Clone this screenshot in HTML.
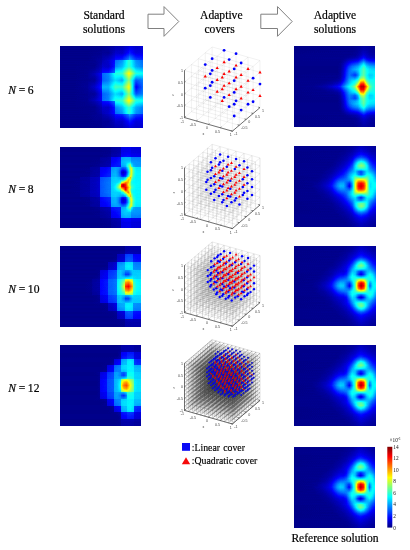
<!DOCTYPE html><html><head><meta charset="utf-8"><style>html,body{margin:0;padding:0;background:#fff;width:410px;height:550px;overflow:hidden}svg{display:block}</style></head><body><svg width="410" height="550" viewBox="0 0 410 550"><defs><filter id="jet" x="0" y="0" width="1" height="1" color-interpolation-filters="sRGB"><feGaussianBlur stdDeviation=".45"/><feComponentTransfer><feFuncR type="table" tableValues="0 0 0 0 .5 1 1 1 .5"/><feFuncG type="table" tableValues="0 0 .5 1 1 1 .5 0 0"/><feFuncB type="table" tableValues=".5 1 1 1 .5 0 0 0 0"/></feComponentTransfer></filter><linearGradient id="vg" gradientUnits="userSpaceOnUse" x1="0" y1="0" x2="0" y2="1"><stop offset="0" stop-color="#000"/><stop offset="1" stop-color="#fff"/></linearGradient><mask id="vm" maskContentUnits="objectBoundingBox" x="-.5" y="-.5" width="2" height="2"><rect x="-.5" y="-.5" width="2" height="2" fill="url(#vg)"/></mask><linearGradient id="l1_0"><stop offset="0" stop-color="#030303"/><stop offset=".167" stop-color="#030303"/><stop offset=".167" stop-color="#030303"/><stop offset=".333" stop-color="#030303"/><stop offset=".333" stop-color="#030303"/><stop offset=".5" stop-color="#040404"/><stop offset=".5" stop-color="#040404"/><stop offset=".667" stop-color="#0b0b0b"/><stop offset=".667" stop-color="#0c0c0c"/><stop offset=".75" stop-color="#0e0e0e"/><stop offset=".833" stop-color="#151515"/><stop offset=".833" stop-color="#181818"/><stop offset=".917" stop-color="#131313"/><stop offset="1" stop-color="#151515"/></linearGradient><linearGradient id="l1_1"><stop offset="0" stop-color="#030303"/><stop offset=".167" stop-color="#030303"/><stop offset=".167" stop-color="#030303"/><stop offset=".333" stop-color="#030303"/><stop offset=".333" stop-color="#030303"/><stop offset=".5" stop-color="#050505"/><stop offset=".5" stop-color="#070707"/><stop offset=".583" stop-color="#060606"/><stop offset=".667" stop-color="#111111"/><stop offset=".667" stop-color="#141414"/><stop offset=".75" stop-color="#121212"/><stop offset=".833" stop-color="#242424"/><stop offset=".833" stop-color="#292929"/><stop offset=".917" stop-color="#181818"/><stop offset="1" stop-color="#1a1a1a"/></linearGradient><linearGradient id="l1_2"><stop offset="0" stop-color="#030303"/><stop offset=".167" stop-color="#030303"/><stop offset=".167" stop-color="#030303"/><stop offset=".333" stop-color="#030303"/><stop offset=".333" stop-color="#030303"/><stop offset=".5" stop-color="#080808"/><stop offset=".5" stop-color="#0b0b0b"/><stop offset=".583" stop-color="#111111"/><stop offset=".667" stop-color="#1f1f1f"/><stop offset=".667" stop-color="#242424"/><stop offset=".75" stop-color="#2a2a2a"/><stop offset=".833" stop-color="#434343"/><stop offset=".833" stop-color="#4d4d4d"/><stop offset=".917" stop-color="#303030"/><stop offset="1" stop-color="#2a2a2a"/></linearGradient><linearGradient id="l1_3"><stop offset="0" stop-color="#030303"/><stop offset=".167" stop-color="#030303"/><stop offset=".167" stop-color="#030303"/><stop offset=".333" stop-color="#030303"/><stop offset=".333" stop-color="#030303"/><stop offset=".417" stop-color="#050505"/><stop offset=".5" stop-color="#090909"/><stop offset=".5" stop-color="#0c0c0c"/><stop offset=".583" stop-color="#141414"/><stop offset=".667" stop-color="#242424"/><stop offset=".667" stop-color="#3a3a3a"/><stop offset=".75" stop-color="#444444"/><stop offset=".833" stop-color="#6d6d6d"/><stop offset=".833" stop-color="#6d6d6d"/><stop offset=".917" stop-color="#444444"/><stop offset="1" stop-color="#3a3a3a"/></linearGradient><linearGradient id="l1_4"><stop offset="0" stop-color="#030303"/><stop offset=".167" stop-color="#030303"/><stop offset=".167" stop-color="#030303"/><stop offset=".333" stop-color="#040404"/><stop offset=".333" stop-color="#040404"/><stop offset=".417" stop-color="#040404"/><stop offset=".5" stop-color="#0e0e0e"/><stop offset=".5" stop-color="#141414"/><stop offset=".583" stop-color="#121212"/><stop offset=".667" stop-color="#292929"/><stop offset=".667" stop-color="#424242"/><stop offset=".75" stop-color="#4f4f4f"/><stop offset=".833" stop-color="#6e6e6e"/><stop offset=".833" stop-color="#6e6e6e"/><stop offset=".917" stop-color="#4a4a4a"/><stop offset="1" stop-color="#404040"/></linearGradient><linearGradient id="l1_5"><stop offset="0" stop-color="#030303"/><stop offset=".167" stop-color="#030303"/><stop offset=".167" stop-color="#030303"/><stop offset=".333" stop-color="#050505"/><stop offset=".333" stop-color="#050505"/><stop offset=".417" stop-color="#0d0d0d"/><stop offset=".5" stop-color="#191919"/><stop offset=".5" stop-color="#242424"/><stop offset=".583" stop-color="#292929"/><stop offset=".667" stop-color="#404040"/><stop offset=".667" stop-color="#686868"/><stop offset=".75" stop-color="#6c6c6c"/><stop offset=".833" stop-color="#a4a4a4"/><stop offset=".833" stop-color="#a4a4a4"/><stop offset=".917" stop-color="#6a6a6a"/><stop offset="1" stop-color="#636363"/></linearGradient><linearGradient id="l1_6"><stop offset="0" stop-color="#030303"/><stop offset=".167" stop-color="#030303"/><stop offset=".167" stop-color="#030303"/><stop offset=".333" stop-color="#050505"/><stop offset=".333" stop-color="#060606"/><stop offset=".417" stop-color="#0f0f0f"/><stop offset=".5" stop-color="#1f1f1f"/><stop offset=".5" stop-color="#3a3a3a"/><stop offset=".583" stop-color="#424242"/><stop offset=".667" stop-color="#686868"/><stop offset=".667" stop-color="#686868"/><stop offset=".75" stop-color="#6c6c6c"/><stop offset=".833" stop-color="#a4a4a4"/><stop offset=".833" stop-color="#a4a4a4"/><stop offset=".917" stop-color="#6a6a6a"/><stop offset="1" stop-color="#636363"/></linearGradient><linearGradient id="l1_7"><stop offset="0" stop-color="#030303"/><stop offset=".167" stop-color="#030303"/><stop offset=".167" stop-color="#030303"/><stop offset=".333" stop-color="#050505"/><stop offset=".333" stop-color="#060606"/><stop offset=".417" stop-color="#070707"/><stop offset=".5" stop-color="#1d1d1d"/><stop offset=".5" stop-color="#373737"/><stop offset=".583" stop-color="#404040"/><stop offset=".667" stop-color="#585858"/><stop offset=".667" stop-color="#585858"/><stop offset=".75" stop-color="#4a4a4a"/><stop offset=".833" stop-color="#838383"/><stop offset=".833" stop-color="#838383"/><stop offset=".917" stop-color="#353535"/><stop offset="1" stop-color="#404040"/></linearGradient><linearGradient id="l1_8"><stop offset="0" stop-color="#030303"/><stop offset=".167" stop-color="#030303"/><stop offset=".167" stop-color="#030303"/><stop offset=".333" stop-color="#070707"/><stop offset=".333" stop-color="#080808"/><stop offset=".417" stop-color="#141414"/><stop offset=".5" stop-color="#292929"/><stop offset=".5" stop-color="#4f4f4f"/><stop offset=".583" stop-color="#4e4e4e"/><stop offset=".667" stop-color="#727272"/><stop offset=".667" stop-color="#727272"/><stop offset=".75" stop-color="#6f6f6f"/><stop offset=".833" stop-color="#a2a2a2"/><stop offset=".833" stop-color="#a2a2a2"/><stop offset=".917" stop-color="#1c1c1c"/><stop offset="1" stop-color="#3a3a3a"/></linearGradient><linearGradient id="l1_9"><stop offset="0" stop-color="#030303"/><stop offset=".167" stop-color="#030303"/><stop offset=".167" stop-color="#030303"/><stop offset=".333" stop-color="#070707"/><stop offset=".333" stop-color="#080808"/><stop offset=".417" stop-color="#141414"/><stop offset=".5" stop-color="#292929"/><stop offset=".5" stop-color="#4f4f4f"/><stop offset=".583" stop-color="#4e4e4e"/><stop offset=".667" stop-color="#727272"/><stop offset=".667" stop-color="#727272"/><stop offset=".75" stop-color="#6f6f6f"/><stop offset=".833" stop-color="#a2a2a2"/><stop offset=".833" stop-color="#a2a2a2"/><stop offset=".917" stop-color="#1c1c1c"/><stop offset="1" stop-color="#3a3a3a"/></linearGradient><linearGradient id="l1_10"><stop offset="0" stop-color="#030303"/><stop offset=".167" stop-color="#030303"/><stop offset=".167" stop-color="#030303"/><stop offset=".333" stop-color="#050505"/><stop offset=".333" stop-color="#060606"/><stop offset=".417" stop-color="#070707"/><stop offset=".5" stop-color="#1d1d1d"/><stop offset=".5" stop-color="#373737"/><stop offset=".583" stop-color="#404040"/><stop offset=".667" stop-color="#585858"/><stop offset=".667" stop-color="#585858"/><stop offset=".75" stop-color="#4a4a4a"/><stop offset=".833" stop-color="#838383"/><stop offset=".833" stop-color="#838383"/><stop offset=".917" stop-color="#353535"/><stop offset="1" stop-color="#404040"/></linearGradient><linearGradient id="l1_11"><stop offset="0" stop-color="#030303"/><stop offset=".167" stop-color="#030303"/><stop offset=".167" stop-color="#030303"/><stop offset=".333" stop-color="#050505"/><stop offset=".333" stop-color="#060606"/><stop offset=".417" stop-color="#0f0f0f"/><stop offset=".5" stop-color="#1f1f1f"/><stop offset=".5" stop-color="#3a3a3a"/><stop offset=".583" stop-color="#424242"/><stop offset=".667" stop-color="#686868"/><stop offset=".667" stop-color="#686868"/><stop offset=".75" stop-color="#6c6c6c"/><stop offset=".833" stop-color="#a4a4a4"/><stop offset=".833" stop-color="#a4a4a4"/><stop offset=".917" stop-color="#6a6a6a"/><stop offset="1" stop-color="#636363"/></linearGradient><linearGradient id="l1_12"><stop offset="0" stop-color="#030303"/><stop offset=".167" stop-color="#030303"/><stop offset=".167" stop-color="#030303"/><stop offset=".333" stop-color="#050505"/><stop offset=".333" stop-color="#050505"/><stop offset=".417" stop-color="#0d0d0d"/><stop offset=".5" stop-color="#191919"/><stop offset=".5" stop-color="#242424"/><stop offset=".583" stop-color="#292929"/><stop offset=".667" stop-color="#404040"/><stop offset=".667" stop-color="#686868"/><stop offset=".75" stop-color="#6c6c6c"/><stop offset=".833" stop-color="#a4a4a4"/><stop offset=".833" stop-color="#a4a4a4"/><stop offset=".917" stop-color="#6a6a6a"/><stop offset="1" stop-color="#636363"/></linearGradient><linearGradient id="l1_13"><stop offset="0" stop-color="#030303"/><stop offset=".167" stop-color="#030303"/><stop offset=".167" stop-color="#030303"/><stop offset=".333" stop-color="#040404"/><stop offset=".333" stop-color="#040404"/><stop offset=".417" stop-color="#040404"/><stop offset=".5" stop-color="#0e0e0e"/><stop offset=".5" stop-color="#141414"/><stop offset=".583" stop-color="#121212"/><stop offset=".667" stop-color="#292929"/><stop offset=".667" stop-color="#424242"/><stop offset=".75" stop-color="#4f4f4f"/><stop offset=".833" stop-color="#6e6e6e"/><stop offset=".833" stop-color="#6e6e6e"/><stop offset=".917" stop-color="#4a4a4a"/><stop offset="1" stop-color="#404040"/></linearGradient><linearGradient id="l1_14"><stop offset="0" stop-color="#030303"/><stop offset=".167" stop-color="#030303"/><stop offset=".167" stop-color="#030303"/><stop offset=".333" stop-color="#030303"/><stop offset=".333" stop-color="#030303"/><stop offset=".417" stop-color="#050505"/><stop offset=".5" stop-color="#090909"/><stop offset=".5" stop-color="#0c0c0c"/><stop offset=".583" stop-color="#141414"/><stop offset=".667" stop-color="#242424"/><stop offset=".667" stop-color="#3a3a3a"/><stop offset=".75" stop-color="#444444"/><stop offset=".833" stop-color="#6d6d6d"/><stop offset=".833" stop-color="#6d6d6d"/><stop offset=".917" stop-color="#444444"/><stop offset="1" stop-color="#3a3a3a"/></linearGradient><linearGradient id="l1_15"><stop offset="0" stop-color="#030303"/><stop offset=".167" stop-color="#030303"/><stop offset=".167" stop-color="#030303"/><stop offset=".333" stop-color="#030303"/><stop offset=".333" stop-color="#030303"/><stop offset=".5" stop-color="#080808"/><stop offset=".5" stop-color="#0b0b0b"/><stop offset=".583" stop-color="#111111"/><stop offset=".667" stop-color="#1f1f1f"/><stop offset=".667" stop-color="#242424"/><stop offset=".75" stop-color="#2a2a2a"/><stop offset=".833" stop-color="#434343"/><stop offset=".833" stop-color="#4d4d4d"/><stop offset=".917" stop-color="#303030"/><stop offset="1" stop-color="#2a2a2a"/></linearGradient><linearGradient id="l1_16"><stop offset="0" stop-color="#030303"/><stop offset=".167" stop-color="#030303"/><stop offset=".167" stop-color="#030303"/><stop offset=".333" stop-color="#030303"/><stop offset=".333" stop-color="#030303"/><stop offset=".5" stop-color="#050505"/><stop offset=".5" stop-color="#070707"/><stop offset=".583" stop-color="#060606"/><stop offset=".667" stop-color="#111111"/><stop offset=".667" stop-color="#141414"/><stop offset=".75" stop-color="#121212"/><stop offset=".833" stop-color="#242424"/><stop offset=".833" stop-color="#292929"/><stop offset=".917" stop-color="#181818"/><stop offset="1" stop-color="#1a1a1a"/></linearGradient><linearGradient id="l1_17"><stop offset="0" stop-color="#030303"/><stop offset=".167" stop-color="#030303"/><stop offset=".167" stop-color="#030303"/><stop offset=".333" stop-color="#030303"/><stop offset=".333" stop-color="#030303"/><stop offset=".5" stop-color="#040404"/><stop offset=".5" stop-color="#040404"/><stop offset=".667" stop-color="#0b0b0b"/><stop offset=".667" stop-color="#0c0c0c"/><stop offset=".75" stop-color="#0e0e0e"/><stop offset=".833" stop-color="#151515"/><stop offset=".833" stop-color="#181818"/><stop offset=".917" stop-color="#131313"/><stop offset="1" stop-color="#151515"/></linearGradient><linearGradient id="l2_0"><stop offset="0" stop-color="#030303"/><stop offset=".125" stop-color="#030303"/><stop offset=".125" stop-color="#030303"/><stop offset=".25" stop-color="#030303"/><stop offset=".25" stop-color="#030303"/><stop offset=".375" stop-color="#030303"/><stop offset=".375" stop-color="#030303"/><stop offset=".5" stop-color="#030303"/><stop offset=".5" stop-color="#030303"/><stop offset=".625" stop-color="#040404"/><stop offset=".625" stop-color="#070707"/><stop offset=".75" stop-color="#0b0b0b"/><stop offset=".75" stop-color="#1a1a1a"/><stop offset=".875" stop-color="#1c1c1c"/><stop offset=".875" stop-color="#181818"/><stop offset="1" stop-color="#171717"/></linearGradient><linearGradient id="l2_1"><stop offset="0" stop-color="#030303"/><stop offset=".125" stop-color="#030303"/><stop offset=".125" stop-color="#030303"/><stop offset=".25" stop-color="#030303"/><stop offset=".25" stop-color="#030303"/><stop offset=".375" stop-color="#030303"/><stop offset=".375" stop-color="#030303"/><stop offset=".5" stop-color="#030303"/><stop offset=".5" stop-color="#030303"/><stop offset=".625" stop-color="#040404"/><stop offset=".625" stop-color="#070707"/><stop offset=".75" stop-color="#0b0b0b"/><stop offset=".75" stop-color="#1a1a1a"/><stop offset=".875" stop-color="#1c1c1c"/><stop offset=".875" stop-color="#181818"/><stop offset="1" stop-color="#171717"/></linearGradient><linearGradient id="l2_2"><stop offset="0" stop-color="#030303"/><stop offset=".125" stop-color="#030303"/><stop offset=".125" stop-color="#030303"/><stop offset=".25" stop-color="#030303"/><stop offset=".25" stop-color="#030303"/><stop offset=".375" stop-color="#030303"/><stop offset=".375" stop-color="#030303"/><stop offset=".5" stop-color="#030303"/><stop offset=".5" stop-color="#030303"/><stop offset=".625" stop-color="#040404"/><stop offset=".625" stop-color="#070707"/><stop offset=".75" stop-color="#0b0b0b"/><stop offset=".75" stop-color="#1a1a1a"/><stop offset=".875" stop-color="#1c1c1c"/><stop offset=".875" stop-color="#181818"/><stop offset="1" stop-color="#171717"/></linearGradient><linearGradient id="l2_3"><stop offset="0" stop-color="#030303"/><stop offset=".125" stop-color="#030303"/><stop offset=".125" stop-color="#030303"/><stop offset=".25" stop-color="#030303"/><stop offset=".25" stop-color="#030303"/><stop offset=".375" stop-color="#030303"/><stop offset=".375" stop-color="#030303"/><stop offset=".5" stop-color="#030303"/><stop offset=".5" stop-color="#030303"/><stop offset=".625" stop-color="#050505"/><stop offset=".625" stop-color="#090909"/><stop offset=".719" stop-color="#0c0c0c"/><stop offset=".75" stop-color="#0e0e0e"/><stop offset=".75" stop-color="#1d1d1d"/><stop offset=".844" stop-color="#202020"/><stop offset=".875" stop-color="#1f1f1f"/><stop offset=".875" stop-color="#1c1c1c"/><stop offset="1" stop-color="#1b1b1b"/></linearGradient><linearGradient id="l2_4"><stop offset="0" stop-color="#030303"/><stop offset=".125" stop-color="#030303"/><stop offset=".125" stop-color="#030303"/><stop offset=".25" stop-color="#030303"/><stop offset=".25" stop-color="#030303"/><stop offset=".375" stop-color="#030303"/><stop offset=".375" stop-color="#030303"/><stop offset=".5" stop-color="#030303"/><stop offset=".5" stop-color="#030303"/><stop offset=".625" stop-color="#060606"/><stop offset=".625" stop-color="#0a0a0a"/><stop offset=".688" stop-color="#0b0b0b"/><stop offset=".75" stop-color="#101010"/><stop offset=".75" stop-color="#1f1f1f"/><stop offset=".812" stop-color="#242424"/><stop offset=".875" stop-color="#222222"/><stop offset=".875" stop-color="#1e1e1e"/><stop offset="1" stop-color="#1d1d1d"/></linearGradient><linearGradient id="l2_5"><stop offset="0" stop-color="#030303"/><stop offset=".125" stop-color="#030303"/><stop offset=".125" stop-color="#030303"/><stop offset=".25" stop-color="#030303"/><stop offset=".25" stop-color="#030303"/><stop offset=".375" stop-color="#030303"/><stop offset=".375" stop-color="#030303"/><stop offset=".5" stop-color="#030303"/><stop offset=".5" stop-color="#070707"/><stop offset=".562" stop-color="#070707"/><stop offset=".625" stop-color="#0a0a0a"/><stop offset=".625" stop-color="#1c1c1c"/><stop offset=".688" stop-color="#1e1e1e"/><stop offset=".75" stop-color="#232323"/><stop offset=".75" stop-color="#474747"/><stop offset=".812" stop-color="#4c4c4c"/><stop offset=".875" stop-color="#4b4b4b"/><stop offset=".875" stop-color="#404040"/><stop offset="1" stop-color="#3f3f3f"/></linearGradient><linearGradient id="l2_6"><stop offset="0" stop-color="#030303"/><stop offset=".125" stop-color="#030303"/><stop offset=".125" stop-color="#030303"/><stop offset=".25" stop-color="#030303"/><stop offset=".25" stop-color="#030303"/><stop offset=".375" stop-color="#030303"/><stop offset=".375" stop-color="#030303"/><stop offset=".5" stop-color="#040404"/><stop offset=".5" stop-color="#070707"/><stop offset=".625" stop-color="#0a0a0a"/><stop offset=".625" stop-color="#1d1d1d"/><stop offset=".688" stop-color="#1f1f1f"/><stop offset=".75" stop-color="#252525"/><stop offset=".75" stop-color="#4a4a4a"/><stop offset=".812" stop-color="#4f4f4f"/><stop offset=".875" stop-color="#4e4e4e"/><stop offset=".875" stop-color="#434343"/><stop offset="1" stop-color="#414141"/></linearGradient><linearGradient id="l2_7"><stop offset="0" stop-color="#030303"/><stop offset=".125" stop-color="#030303"/><stop offset=".125" stop-color="#030303"/><stop offset=".25" stop-color="#030303"/><stop offset=".25" stop-color="#030303"/><stop offset=".375" stop-color="#030303"/><stop offset=".375" stop-color="#030303"/><stop offset=".5" stop-color="#040404"/><stop offset=".5" stop-color="#070707"/><stop offset=".625" stop-color="#0b0b0b"/><stop offset=".625" stop-color="#1e1e1e"/><stop offset=".688" stop-color="#212121"/><stop offset=".75" stop-color="#282828"/><stop offset=".75" stop-color="#4d4d4d"/><stop offset=".844" stop-color="#555555"/><stop offset=".875" stop-color="#565656"/><stop offset=".875" stop-color="#4a4a4a"/><stop offset=".906" stop-color="#464646"/><stop offset="1" stop-color="#454545"/></linearGradient><linearGradient id="l2_8"><stop offset="0" stop-color="#030303"/><stop offset=".125" stop-color="#030303"/><stop offset=".125" stop-color="#030303"/><stop offset=".25" stop-color="#030303"/><stop offset=".25" stop-color="#030303"/><stop offset=".375" stop-color="#030303"/><stop offset=".375" stop-color="#030303"/><stop offset=".5" stop-color="#050505"/><stop offset=".5" stop-color="#090909"/><stop offset=".594" stop-color="#0c0c0c"/><stop offset=".625" stop-color="#0e0e0e"/><stop offset=".625" stop-color="#212121"/><stop offset=".75" stop-color="#282828"/><stop offset=".75" stop-color="#4c4c4c"/><stop offset=".781" stop-color="#4d4d4d"/><stop offset=".812" stop-color="#525252"/><stop offset=".844" stop-color="#6b6b6b"/><stop offset=".875" stop-color="#808080"/><stop offset=".875" stop-color="#656565"/><stop offset=".906" stop-color="#4b4b4b"/><stop offset=".938" stop-color="#464646"/><stop offset="1" stop-color="#464646"/></linearGradient><linearGradient id="l2_9"><stop offset="0" stop-color="#030303"/><stop offset=".125" stop-color="#030303"/><stop offset=".125" stop-color="#030303"/><stop offset=".25" stop-color="#030303"/><stop offset=".25" stop-color="#030303"/><stop offset=".375" stop-color="#030303"/><stop offset=".375" stop-color="#030303"/><stop offset=".5" stop-color="#060606"/><stop offset=".5" stop-color="#0a0a0a"/><stop offset=".562" stop-color="#0b0b0b"/><stop offset=".625" stop-color="#101010"/><stop offset=".625" stop-color="#232323"/><stop offset=".688" stop-color="#272727"/><stop offset=".75" stop-color="#252525"/><stop offset=".75" stop-color="#474747"/><stop offset=".781" stop-color="#454545"/><stop offset=".812" stop-color="#4b4b4b"/><stop offset=".844" stop-color="#707070"/><stop offset=".875" stop-color="#989898"/><stop offset=".875" stop-color="#7d7d7d"/><stop offset=".906" stop-color="#525252"/><stop offset=".938" stop-color="#484848"/><stop offset="1" stop-color="#484848"/></linearGradient><linearGradient id="l2_10"><stop offset="0" stop-color="#030303"/><stop offset=".125" stop-color="#030303"/><stop offset=".125" stop-color="#030303"/><stop offset=".25" stop-color="#030303"/><stop offset=".25" stop-color="#030303"/><stop offset=".375" stop-color="#030303"/><stop offset=".375" stop-color="#070707"/><stop offset=".438" stop-color="#070707"/><stop offset=".5" stop-color="#0a0a0a"/><stop offset=".5" stop-color="#1c1c1c"/><stop offset=".562" stop-color="#1e1e1e"/><stop offset=".625" stop-color="#232323"/><stop offset=".625" stop-color="#444444"/><stop offset=".688" stop-color="#484848"/><stop offset=".719" stop-color="#474747"/><stop offset=".75" stop-color="#414141"/><stop offset=".75" stop-color="#404040"/><stop offset=".781" stop-color="#3c3c3c"/><stop offset=".812" stop-color="#424242"/><stop offset=".844" stop-color="#656565"/><stop offset=".875" stop-color="#989898"/><stop offset=".875" stop-color="#9d9d9d"/><stop offset=".906" stop-color="#6b6b6b"/><stop offset=".938" stop-color="#5b5b5b"/><stop offset="1" stop-color="#5a5a5a"/></linearGradient><linearGradient id="l2_11"><stop offset="0" stop-color="#030303"/><stop offset=".125" stop-color="#030303"/><stop offset=".125" stop-color="#030303"/><stop offset=".25" stop-color="#030303"/><stop offset=".25" stop-color="#030303"/><stop offset=".375" stop-color="#040404"/><stop offset=".375" stop-color="#070707"/><stop offset=".5" stop-color="#0a0a0a"/><stop offset=".5" stop-color="#1d1d1d"/><stop offset=".562" stop-color="#1f1f1f"/><stop offset=".625" stop-color="#252525"/><stop offset=".625" stop-color="#464646"/><stop offset=".688" stop-color="#4a4a4a"/><stop offset=".719" stop-color="#444444"/><stop offset=".75" stop-color="#383838"/><stop offset=".75" stop-color="#313131"/><stop offset=".781" stop-color="#262626"/><stop offset=".812" stop-color="#303030"/><stop offset=".844" stop-color="#535353"/><stop offset=".875" stop-color="#969696"/><stop offset=".875" stop-color="#adadad"/><stop offset=".906" stop-color="#747474"/><stop offset=".938" stop-color="#5c5c5c"/><stop offset="1" stop-color="#5c5c5c"/></linearGradient><linearGradient id="l2_12"><stop offset="0" stop-color="#030303"/><stop offset=".125" stop-color="#030303"/><stop offset=".125" stop-color="#030303"/><stop offset=".25" stop-color="#030303"/><stop offset=".25" stop-color="#030303"/><stop offset=".375" stop-color="#040404"/><stop offset=".375" stop-color="#070707"/><stop offset=".5" stop-color="#0b0b0b"/><stop offset=".5" stop-color="#1e1e1e"/><stop offset=".562" stop-color="#212121"/><stop offset=".625" stop-color="#272727"/><stop offset=".625" stop-color="#494949"/><stop offset=".688" stop-color="#4d4d4d"/><stop offset=".719" stop-color="#434343"/><stop offset=".75" stop-color="#2e2e2e"/><stop offset=".75" stop-color="#212121"/><stop offset=".781" stop-color="#0f0f0f"/><stop offset=".812" stop-color="#1d1d1d"/><stop offset=".844" stop-color="#484848"/><stop offset=".875" stop-color="#8f8f8f"/><stop offset=".875" stop-color="#acacac"/><stop offset=".906" stop-color="#777777"/><stop offset=".938" stop-color="#5e5e5e"/><stop offset="1" stop-color="#5e5e5e"/></linearGradient><linearGradient id="l2_13"><stop offset="0" stop-color="#030303"/><stop offset=".125" stop-color="#030303"/><stop offset=".125" stop-color="#030303"/><stop offset=".25" stop-color="#030303"/><stop offset=".25" stop-color="#030303"/><stop offset=".375" stop-color="#040404"/><stop offset=".375" stop-color="#080808"/><stop offset=".469" stop-color="#0b0b0b"/><stop offset=".5" stop-color="#0d0d0d"/><stop offset=".5" stop-color="#1f1f1f"/><stop offset=".625" stop-color="#292929"/><stop offset=".625" stop-color="#4a4a4a"/><stop offset=".688" stop-color="#4e4e4e"/><stop offset=".719" stop-color="#454545"/><stop offset=".75" stop-color="#333333"/><stop offset=".75" stop-color="#282828"/><stop offset=".781" stop-color="#181818"/><stop offset=".812" stop-color="#242424"/><stop offset=".844" stop-color="#535353"/><stop offset=".875" stop-color="#969696"/><stop offset=".875" stop-color="#a8a8a8"/><stop offset=".906" stop-color="#737373"/><stop offset=".938" stop-color="#5e5e5e"/><stop offset="1" stop-color="#5e5e5e"/></linearGradient><linearGradient id="l2_14"><stop offset="0" stop-color="#030303"/><stop offset=".125" stop-color="#030303"/><stop offset=".125" stop-color="#030303"/><stop offset=".25" stop-color="#030303"/><stop offset=".25" stop-color="#030303"/><stop offset=".375" stop-color="#050505"/><stop offset=".375" stop-color="#080808"/><stop offset=".438" stop-color="#090909"/><stop offset=".5" stop-color="#0d0d0d"/><stop offset=".5" stop-color="#202020"/><stop offset=".625" stop-color="#2a2a2a"/><stop offset=".625" stop-color="#4b4b4b"/><stop offset=".688" stop-color="#4f4f4f"/><stop offset=".719" stop-color="#494949"/><stop offset=".75" stop-color="#3e3e3e"/><stop offset=".75" stop-color="#393939"/><stop offset=".781" stop-color="#2f2f2f"/><stop offset=".812" stop-color="#383838"/><stop offset=".844" stop-color="#6f6f6f"/><stop offset=".875" stop-color="#ababab"/><stop offset=".875" stop-color="#a2a2a2"/><stop offset=".906" stop-color="#6a6a6a"/><stop offset=".938" stop-color="#5e5e5e"/><stop offset="1" stop-color="#5e5e5e"/></linearGradient><linearGradient id="l2_15"><stop offset="0" stop-color="#030303"/><stop offset=".125" stop-color="#030303"/><stop offset=".125" stop-color="#030303"/><stop offset=".25" stop-color="#030303"/><stop offset=".25" stop-color="#070707"/><stop offset=".375" stop-color="#080808"/><stop offset=".375" stop-color="#0e0e0e"/><stop offset=".469" stop-color="#111111"/><stop offset=".5" stop-color="#131313"/><stop offset=".5" stop-color="#333333"/><stop offset=".625" stop-color="#3c3c3c"/><stop offset=".625" stop-color="#515151"/><stop offset=".688" stop-color="#555555"/><stop offset=".75" stop-color="#4b4b4b"/><stop offset=".75" stop-color="#4a4a4a"/><stop offset=".781" stop-color="#444444"/><stop offset=".812" stop-color="#4f4f4f"/><stop offset=".844" stop-color="#888888"/><stop offset=".875" stop-color="#b7b7b7"/><stop offset=".875" stop-color="#9e9e9e"/><stop offset=".906" stop-color="#686868"/><stop offset=".938" stop-color="#5e5e5e"/><stop offset="1" stop-color="#5e5e5e"/></linearGradient><linearGradient id="l2_16"><stop offset="0" stop-color="#030303"/><stop offset=".125" stop-color="#030303"/><stop offset=".125" stop-color="#030303"/><stop offset=".25" stop-color="#040404"/><stop offset=".25" stop-color="#070707"/><stop offset=".375" stop-color="#090909"/><stop offset=".375" stop-color="#0e0e0e"/><stop offset=".438" stop-color="#0f0f0f"/><stop offset=".5" stop-color="#141414"/><stop offset=".5" stop-color="#343434"/><stop offset=".625" stop-color="#3d3d3d"/><stop offset=".625" stop-color="#515151"/><stop offset=".688" stop-color="#555555"/><stop offset=".75" stop-color="#535353"/><stop offset=".75" stop-color="#575757"/><stop offset=".781" stop-color="#585858"/><stop offset=".812" stop-color="#747474"/><stop offset=".844" stop-color="#b1b1b1"/><stop offset=".875" stop-color="#a1a1a1"/><stop offset=".875" stop-color="#818181"/><stop offset=".906" stop-color="#626262"/><stop offset=".938" stop-color="#5e5e5e"/><stop offset="1" stop-color="#5e5e5e"/></linearGradient><linearGradient id="l2_17"><stop offset="0" stop-color="#030303"/><stop offset=".125" stop-color="#030303"/><stop offset=".125" stop-color="#030303"/><stop offset=".25" stop-color="#040404"/><stop offset=".25" stop-color="#070707"/><stop offset=".375" stop-color="#090909"/><stop offset=".375" stop-color="#0f0f0f"/><stop offset=".438" stop-color="#101010"/><stop offset=".5" stop-color="#151515"/><stop offset=".5" stop-color="#353535"/><stop offset=".594" stop-color="#3d3d3d"/><stop offset=".625" stop-color="#3e3e3e"/><stop offset=".625" stop-color="#535353"/><stop offset=".719" stop-color="#585858"/><stop offset=".75" stop-color="#656565"/><stop offset=".75" stop-color="#7e7e7e"/><stop offset=".781" stop-color="#9a9a9a"/><stop offset=".812" stop-color="#bebebe"/><stop offset=".844" stop-color="#b6b6b6"/><stop offset=".875" stop-color="#828282"/><stop offset=".875" stop-color="#6a6a6a"/><stop offset=".906" stop-color="#5f5f5f"/><stop offset="1" stop-color="#5e5e5e"/></linearGradient><linearGradient id="l2_18"><stop offset="0" stop-color="#030303"/><stop offset=".125" stop-color="#030303"/><stop offset=".125" stop-color="#030303"/><stop offset=".25" stop-color="#040404"/><stop offset=".25" stop-color="#070707"/><stop offset=".375" stop-color="#090909"/><stop offset=".375" stop-color="#0f0f0f"/><stop offset=".438" stop-color="#101010"/><stop offset=".5" stop-color="#151515"/><stop offset=".5" stop-color="#353535"/><stop offset=".594" stop-color="#3d3d3d"/><stop offset=".625" stop-color="#3e3e3e"/><stop offset=".625" stop-color="#535353"/><stop offset=".656" stop-color="#555555"/><stop offset=".688" stop-color="#5c5c5c"/><stop offset=".719" stop-color="#707070"/><stop offset=".75" stop-color="#9c9c9c"/><stop offset=".75" stop-color="#d2d2d2"/><stop offset=".781" stop-color="#f7f7f7"/><stop offset=".812" stop-color="#dcdcdc"/><stop offset=".844" stop-color="#a4a4a4"/><stop offset=".875" stop-color="#7e7e7e"/><stop offset=".875" stop-color="#707070"/><stop offset=".906" stop-color="#646464"/><stop offset=".938" stop-color="#5f5f5f"/><stop offset="1" stop-color="#5e5e5e"/></linearGradient><linearGradient id="l2_19"><stop offset="0" stop-color="#030303"/><stop offset=".125" stop-color="#030303"/><stop offset=".125" stop-color="#030303"/><stop offset=".25" stop-color="#040404"/><stop offset=".25" stop-color="#070707"/><stop offset=".375" stop-color="#090909"/><stop offset=".375" stop-color="#0f0f0f"/><stop offset=".438" stop-color="#101010"/><stop offset=".5" stop-color="#151515"/><stop offset=".5" stop-color="#353535"/><stop offset=".594" stop-color="#3d3d3d"/><stop offset=".625" stop-color="#3e3e3e"/><stop offset=".625" stop-color="#535353"/><stop offset=".656" stop-color="#565656"/><stop offset=".688" stop-color="#626262"/><stop offset=".719" stop-color="#838383"/><stop offset=".75" stop-color="#aeaeae"/><stop offset=".75" stop-color="#d4d4d4"/><stop offset=".781" stop-color="#ececec"/><stop offset=".812" stop-color="#dedede"/><stop offset=".875" stop-color="#929292"/><stop offset=".875" stop-color="#7e7e7e"/><stop offset=".906" stop-color="#696969"/><stop offset=".938" stop-color="#5f5f5f"/><stop offset="1" stop-color="#5e5e5e"/></linearGradient><linearGradient id="l2_20"><stop offset="0" stop-color="#030303"/><stop offset=".125" stop-color="#030303"/><stop offset=".125" stop-color="#030303"/><stop offset=".25" stop-color="#040404"/><stop offset=".25" stop-color="#070707"/><stop offset=".375" stop-color="#090909"/><stop offset=".375" stop-color="#0f0f0f"/><stop offset=".438" stop-color="#101010"/><stop offset=".5" stop-color="#151515"/><stop offset=".5" stop-color="#353535"/><stop offset=".594" stop-color="#3d3d3d"/><stop offset=".625" stop-color="#3e3e3e"/><stop offset=".625" stop-color="#535353"/><stop offset=".656" stop-color="#565656"/><stop offset=".688" stop-color="#616161"/><stop offset=".719" stop-color="#818181"/><stop offset=".75" stop-color="#a4a4a4"/><stop offset=".75" stop-color="#c0c0c0"/><stop offset=".781" stop-color="#dadada"/><stop offset=".812" stop-color="#e6e6e6"/><stop offset=".875" stop-color="#929292"/><stop offset=".875" stop-color="#7d7d7d"/><stop offset=".906" stop-color="#686868"/><stop offset=".938" stop-color="#5f5f5f"/><stop offset="1" stop-color="#5e5e5e"/></linearGradient><linearGradient id="l2_21"><stop offset="0" stop-color="#030303"/><stop offset=".125" stop-color="#030303"/><stop offset=".125" stop-color="#030303"/><stop offset=".25" stop-color="#040404"/><stop offset=".25" stop-color="#070707"/><stop offset=".375" stop-color="#090909"/><stop offset=".375" stop-color="#0f0f0f"/><stop offset=".438" stop-color="#101010"/><stop offset=".5" stop-color="#151515"/><stop offset=".5" stop-color="#353535"/><stop offset=".594" stop-color="#3d3d3d"/><stop offset=".625" stop-color="#3e3e3e"/><stop offset=".625" stop-color="#535353"/><stop offset=".656" stop-color="#555555"/><stop offset=".688" stop-color="#5b5b5b"/><stop offset=".719" stop-color="#676767"/><stop offset=".75" stop-color="#767676"/><stop offset=".75" stop-color="#868686"/><stop offset=".781" stop-color="#a9a9a9"/><stop offset=".812" stop-color="#e5e5e5"/><stop offset=".844" stop-color="#afafaf"/><stop offset=".875" stop-color="#7e7e7e"/><stop offset=".875" stop-color="#6e6e6e"/><stop offset=".906" stop-color="#626262"/><stop offset=".938" stop-color="#5e5e5e"/><stop offset="1" stop-color="#5e5e5e"/></linearGradient><linearGradient id="l2_22"><stop offset="0" stop-color="#030303"/><stop offset=".125" stop-color="#030303"/><stop offset=".125" stop-color="#030303"/><stop offset=".25" stop-color="#040404"/><stop offset=".25" stop-color="#070707"/><stop offset=".375" stop-color="#090909"/><stop offset=".375" stop-color="#0f0f0f"/><stop offset=".438" stop-color="#101010"/><stop offset=".5" stop-color="#151515"/><stop offset=".5" stop-color="#353535"/><stop offset=".594" stop-color="#3d3d3d"/><stop offset=".625" stop-color="#3e3e3e"/><stop offset=".625" stop-color="#535353"/><stop offset=".719" stop-color="#565656"/><stop offset=".75" stop-color="#565656"/><stop offset=".75" stop-color="#5d5d5d"/><stop offset=".781" stop-color="#696969"/><stop offset=".812" stop-color="#9d9d9d"/><stop offset=".844" stop-color="#c4c4c4"/><stop offset=".875" stop-color="#929292"/><stop offset=".875" stop-color="#727272"/><stop offset=".906" stop-color="#5f5f5f"/><stop offset="1" stop-color="#5e5e5e"/></linearGradient><linearGradient id="l2_23"><stop offset="0" stop-color="#030303"/><stop offset=".125" stop-color="#030303"/><stop offset=".125" stop-color="#030303"/><stop offset=".25" stop-color="#040404"/><stop offset=".25" stop-color="#070707"/><stop offset=".375" stop-color="#090909"/><stop offset=".375" stop-color="#0e0e0e"/><stop offset=".438" stop-color="#0f0f0f"/><stop offset=".5" stop-color="#141414"/><stop offset=".5" stop-color="#343434"/><stop offset=".625" stop-color="#3d3d3d"/><stop offset=".625" stop-color="#515151"/><stop offset=".688" stop-color="#555555"/><stop offset=".75" stop-color="#4f4f4f"/><stop offset=".75" stop-color="#515151"/><stop offset=".781" stop-color="#4e4e4e"/><stop offset=".812" stop-color="#5f5f5f"/><stop offset=".844" stop-color="#999999"/><stop offset=".875" stop-color="#adadad"/><stop offset=".875" stop-color="#919191"/><stop offset=".906" stop-color="#656565"/><stop offset=".938" stop-color="#5e5e5e"/><stop offset="1" stop-color="#5e5e5e"/></linearGradient><linearGradient id="l2_24"><stop offset="0" stop-color="#030303"/><stop offset=".125" stop-color="#030303"/><stop offset=".125" stop-color="#030303"/><stop offset=".25" stop-color="#030303"/><stop offset=".25" stop-color="#070707"/><stop offset=".375" stop-color="#080808"/><stop offset=".375" stop-color="#0e0e0e"/><stop offset=".469" stop-color="#111111"/><stop offset=".5" stop-color="#131313"/><stop offset=".5" stop-color="#333333"/><stop offset=".625" stop-color="#3c3c3c"/><stop offset=".625" stop-color="#515151"/><stop offset=".688" stop-color="#545454"/><stop offset=".719" stop-color="#4f4f4f"/><stop offset=".75" stop-color="#454545"/><stop offset=".75" stop-color="#424242"/><stop offset=".781" stop-color="#393939"/><stop offset=".812" stop-color="#424242"/><stop offset=".844" stop-color="#797979"/><stop offset=".875" stop-color="#b5b5b5"/><stop offset=".875" stop-color="#a2a2a2"/><stop offset=".906" stop-color="#6a6a6a"/><stop offset=".938" stop-color="#5e5e5e"/><stop offset="1" stop-color="#5e5e5e"/></linearGradient><linearGradient id="l2_25"><stop offset="0" stop-color="#030303"/><stop offset=".125" stop-color="#030303"/><stop offset=".125" stop-color="#030303"/><stop offset=".25" stop-color="#030303"/><stop offset=".25" stop-color="#030303"/><stop offset=".375" stop-color="#050505"/><stop offset=".375" stop-color="#080808"/><stop offset=".438" stop-color="#090909"/><stop offset=".5" stop-color="#0d0d0d"/><stop offset=".5" stop-color="#202020"/><stop offset=".625" stop-color="#2a2a2a"/><stop offset=".625" stop-color="#4b4b4b"/><stop offset=".688" stop-color="#4e4e4e"/><stop offset=".719" stop-color="#474747"/><stop offset=".75" stop-color="#383838"/><stop offset=".75" stop-color="#303030"/><stop offset=".781" stop-color="#232323"/><stop offset=".812" stop-color="#2d2d2d"/><stop offset=".844" stop-color="#5f5f5f"/><stop offset=".875" stop-color="#9d9d9d"/><stop offset=".875" stop-color="#a1a1a1"/><stop offset=".906" stop-color="#6e6e6e"/><stop offset=".938" stop-color="#5e5e5e"/><stop offset="1" stop-color="#5e5e5e"/></linearGradient><linearGradient id="l2_26"><stop offset="0" stop-color="#030303"/><stop offset=".125" stop-color="#030303"/><stop offset=".125" stop-color="#030303"/><stop offset=".25" stop-color="#030303"/><stop offset=".25" stop-color="#030303"/><stop offset=".375" stop-color="#040404"/><stop offset=".375" stop-color="#080808"/><stop offset=".469" stop-color="#0b0b0b"/><stop offset=".5" stop-color="#0d0d0d"/><stop offset=".5" stop-color="#1f1f1f"/><stop offset=".625" stop-color="#292929"/><stop offset=".625" stop-color="#4a4a4a"/><stop offset=".688" stop-color="#4d4d4d"/><stop offset=".719" stop-color="#444444"/><stop offset=".75" stop-color="#2f2f2f"/><stop offset=".75" stop-color="#232323"/><stop offset=".781" stop-color="#111111"/><stop offset=".812" stop-color="#1e1e1e"/><stop offset=".844" stop-color="#4c4c4c"/><stop offset=".875" stop-color="#969696"/><stop offset=".875" stop-color="#b2b2b2"/><stop offset=".906" stop-color="#787878"/><stop offset=".938" stop-color="#5e5e5e"/><stop offset="1" stop-color="#5e5e5e"/></linearGradient><linearGradient id="l2_27"><stop offset="0" stop-color="#030303"/><stop offset=".125" stop-color="#030303"/><stop offset=".125" stop-color="#030303"/><stop offset=".25" stop-color="#030303"/><stop offset=".25" stop-color="#030303"/><stop offset=".375" stop-color="#040404"/><stop offset=".375" stop-color="#070707"/><stop offset=".5" stop-color="#0b0b0b"/><stop offset=".5" stop-color="#1e1e1e"/><stop offset=".562" stop-color="#212121"/><stop offset=".625" stop-color="#272727"/><stop offset=".625" stop-color="#494949"/><stop offset=".688" stop-color="#4d4d4d"/><stop offset=".719" stop-color="#444444"/><stop offset=".75" stop-color="#323232"/><stop offset=".75" stop-color="#262626"/><stop offset=".781" stop-color="#161616"/><stop offset=".812" stop-color="#222222"/><stop offset=".844" stop-color="#4a4a4a"/><stop offset=".875" stop-color="#8d8d8d"/><stop offset=".875" stop-color="#a7a7a7"/><stop offset=".906" stop-color="#747474"/><stop offset=".938" stop-color="#5e5e5e"/><stop offset="1" stop-color="#5e5e5e"/></linearGradient><linearGradient id="l2_28"><stop offset="0" stop-color="#030303"/><stop offset=".125" stop-color="#030303"/><stop offset=".125" stop-color="#030303"/><stop offset=".25" stop-color="#030303"/><stop offset=".25" stop-color="#030303"/><stop offset=".375" stop-color="#040404"/><stop offset=".375" stop-color="#070707"/><stop offset=".5" stop-color="#0a0a0a"/><stop offset=".5" stop-color="#1d1d1d"/><stop offset=".562" stop-color="#1f1f1f"/><stop offset=".625" stop-color="#252525"/><stop offset=".625" stop-color="#464646"/><stop offset=".688" stop-color="#4a4a4a"/><stop offset=".719" stop-color="#474747"/><stop offset=".75" stop-color="#3e3e3e"/><stop offset=".75" stop-color="#3a3a3a"/><stop offset=".781" stop-color="#323232"/><stop offset=".812" stop-color="#3a3a3a"/><stop offset=".844" stop-color="#5b5b5b"/><stop offset=".875" stop-color="#999999"/><stop offset=".875" stop-color="#a9a9a9"/><stop offset=".906" stop-color="#717171"/><stop offset=".938" stop-color="#5c5c5c"/><stop offset="1" stop-color="#5c5c5c"/></linearGradient><linearGradient id="l2_29"><stop offset="0" stop-color="#030303"/><stop offset=".125" stop-color="#030303"/><stop offset=".125" stop-color="#030303"/><stop offset=".25" stop-color="#030303"/><stop offset=".25" stop-color="#030303"/><stop offset=".375" stop-color="#030303"/><stop offset=".375" stop-color="#070707"/><stop offset=".438" stop-color="#070707"/><stop offset=".5" stop-color="#0a0a0a"/><stop offset=".5" stop-color="#1c1c1c"/><stop offset=".562" stop-color="#1e1e1e"/><stop offset=".625" stop-color="#232323"/><stop offset=".625" stop-color="#444444"/><stop offset=".688" stop-color="#484848"/><stop offset=".719" stop-color="#484848"/><stop offset=".75" stop-color="#454545"/><stop offset=".75" stop-color="#464646"/><stop offset=".781" stop-color="#444444"/><stop offset=".812" stop-color="#4a4a4a"/><stop offset=".844" stop-color="#6f6f6f"/><stop offset=".875" stop-color="#999999"/><stop offset=".875" stop-color="#919191"/><stop offset=".906" stop-color="#656565"/><stop offset=".938" stop-color="#5b5b5b"/><stop offset="1" stop-color="#5a5a5a"/></linearGradient><linearGradient id="l2_30"><stop offset="0" stop-color="#030303"/><stop offset=".125" stop-color="#030303"/><stop offset=".125" stop-color="#030303"/><stop offset=".25" stop-color="#030303"/><stop offset=".25" stop-color="#030303"/><stop offset=".375" stop-color="#030303"/><stop offset=".375" stop-color="#030303"/><stop offset=".5" stop-color="#060606"/><stop offset=".5" stop-color="#0a0a0a"/><stop offset=".562" stop-color="#0b0b0b"/><stop offset=".625" stop-color="#101010"/><stop offset=".625" stop-color="#232323"/><stop offset=".719" stop-color="#282828"/><stop offset=".75" stop-color="#282828"/><stop offset=".75" stop-color="#4b4b4b"/><stop offset=".781" stop-color="#4b4b4b"/><stop offset=".812" stop-color="#4f4f4f"/><stop offset=".844" stop-color="#727272"/><stop offset=".875" stop-color="#919191"/><stop offset=".875" stop-color="#727272"/><stop offset=".906" stop-color="#4e4e4e"/><stop offset=".938" stop-color="#484848"/><stop offset="1" stop-color="#484848"/></linearGradient><linearGradient id="l2_31"><stop offset="0" stop-color="#030303"/><stop offset=".125" stop-color="#030303"/><stop offset=".125" stop-color="#030303"/><stop offset=".25" stop-color="#030303"/><stop offset=".25" stop-color="#030303"/><stop offset=".375" stop-color="#030303"/><stop offset=".375" stop-color="#030303"/><stop offset=".5" stop-color="#050505"/><stop offset=".5" stop-color="#090909"/><stop offset=".594" stop-color="#0c0c0c"/><stop offset=".625" stop-color="#0e0e0e"/><stop offset=".625" stop-color="#212121"/><stop offset=".75" stop-color="#292929"/><stop offset=".75" stop-color="#4d4d4d"/><stop offset=".812" stop-color="#535353"/><stop offset=".875" stop-color="#6b6b6b"/><stop offset=".875" stop-color="#575757"/><stop offset=".906" stop-color="#494949"/><stop offset=".938" stop-color="#464646"/><stop offset="1" stop-color="#464646"/></linearGradient><linearGradient id="l2_32"><stop offset="0" stop-color="#030303"/><stop offset=".125" stop-color="#030303"/><stop offset=".125" stop-color="#030303"/><stop offset=".25" stop-color="#030303"/><stop offset=".25" stop-color="#030303"/><stop offset=".375" stop-color="#030303"/><stop offset=".375" stop-color="#030303"/><stop offset=".5" stop-color="#040404"/><stop offset=".5" stop-color="#070707"/><stop offset=".625" stop-color="#0b0b0b"/><stop offset=".625" stop-color="#1e1e1e"/><stop offset=".688" stop-color="#212121"/><stop offset=".75" stop-color="#282828"/><stop offset=".75" stop-color="#4d4d4d"/><stop offset=".812" stop-color="#545454"/><stop offset=".875" stop-color="#535353"/><stop offset=".875" stop-color="#474747"/><stop offset="1" stop-color="#454545"/></linearGradient><linearGradient id="l2_33"><stop offset="0" stop-color="#030303"/><stop offset=".125" stop-color="#030303"/><stop offset=".125" stop-color="#030303"/><stop offset=".25" stop-color="#030303"/><stop offset=".25" stop-color="#030303"/><stop offset=".375" stop-color="#030303"/><stop offset=".375" stop-color="#030303"/><stop offset=".5" stop-color="#040404"/><stop offset=".5" stop-color="#070707"/><stop offset=".625" stop-color="#0a0a0a"/><stop offset=".625" stop-color="#1d1d1d"/><stop offset=".688" stop-color="#1f1f1f"/><stop offset=".75" stop-color="#252525"/><stop offset=".75" stop-color="#4a4a4a"/><stop offset=".812" stop-color="#505050"/><stop offset=".875" stop-color="#4e4e4e"/><stop offset=".875" stop-color="#434343"/><stop offset="1" stop-color="#414141"/></linearGradient><linearGradient id="l2_34"><stop offset="0" stop-color="#030303"/><stop offset=".125" stop-color="#030303"/><stop offset=".125" stop-color="#030303"/><stop offset=".25" stop-color="#030303"/><stop offset=".25" stop-color="#030303"/><stop offset=".375" stop-color="#030303"/><stop offset=".375" stop-color="#030303"/><stop offset=".5" stop-color="#030303"/><stop offset=".5" stop-color="#070707"/><stop offset=".562" stop-color="#070707"/><stop offset=".625" stop-color="#0a0a0a"/><stop offset=".625" stop-color="#1c1c1c"/><stop offset=".688" stop-color="#1e1e1e"/><stop offset=".75" stop-color="#232323"/><stop offset=".75" stop-color="#474747"/><stop offset=".812" stop-color="#4c4c4c"/><stop offset=".875" stop-color="#4b4b4b"/><stop offset=".875" stop-color="#404040"/><stop offset="1" stop-color="#3f3f3f"/></linearGradient><linearGradient id="l2_35"><stop offset="0" stop-color="#030303"/><stop offset=".125" stop-color="#030303"/><stop offset=".125" stop-color="#030303"/><stop offset=".25" stop-color="#030303"/><stop offset=".25" stop-color="#030303"/><stop offset=".375" stop-color="#030303"/><stop offset=".375" stop-color="#030303"/><stop offset=".5" stop-color="#030303"/><stop offset=".5" stop-color="#030303"/><stop offset=".625" stop-color="#060606"/><stop offset=".625" stop-color="#0a0a0a"/><stop offset=".688" stop-color="#0b0b0b"/><stop offset=".75" stop-color="#101010"/><stop offset=".75" stop-color="#1f1f1f"/><stop offset=".812" stop-color="#242424"/><stop offset=".875" stop-color="#222222"/><stop offset=".875" stop-color="#1e1e1e"/><stop offset="1" stop-color="#1d1d1d"/></linearGradient><linearGradient id="l2_36"><stop offset="0" stop-color="#030303"/><stop offset=".125" stop-color="#030303"/><stop offset=".125" stop-color="#030303"/><stop offset=".25" stop-color="#030303"/><stop offset=".25" stop-color="#030303"/><stop offset=".375" stop-color="#030303"/><stop offset=".375" stop-color="#030303"/><stop offset=".5" stop-color="#030303"/><stop offset=".5" stop-color="#030303"/><stop offset=".625" stop-color="#050505"/><stop offset=".625" stop-color="#090909"/><stop offset=".719" stop-color="#0c0c0c"/><stop offset=".75" stop-color="#0e0e0e"/><stop offset=".75" stop-color="#1d1d1d"/><stop offset=".844" stop-color="#202020"/><stop offset=".875" stop-color="#1f1f1f"/><stop offset=".875" stop-color="#1c1c1c"/><stop offset="1" stop-color="#1b1b1b"/></linearGradient><linearGradient id="l2_37"><stop offset="0" stop-color="#030303"/><stop offset=".125" stop-color="#030303"/><stop offset=".125" stop-color="#030303"/><stop offset=".25" stop-color="#030303"/><stop offset=".25" stop-color="#030303"/><stop offset=".375" stop-color="#030303"/><stop offset=".375" stop-color="#030303"/><stop offset=".5" stop-color="#030303"/><stop offset=".5" stop-color="#030303"/><stop offset=".625" stop-color="#040404"/><stop offset=".625" stop-color="#070707"/><stop offset=".75" stop-color="#0b0b0b"/><stop offset=".75" stop-color="#1a1a1a"/><stop offset=".875" stop-color="#1c1c1c"/><stop offset=".875" stop-color="#181818"/><stop offset="1" stop-color="#171717"/></linearGradient><linearGradient id="l2_38"><stop offset="0" stop-color="#030303"/><stop offset=".125" stop-color="#030303"/><stop offset=".125" stop-color="#030303"/><stop offset=".25" stop-color="#030303"/><stop offset=".25" stop-color="#030303"/><stop offset=".375" stop-color="#030303"/><stop offset=".375" stop-color="#030303"/><stop offset=".5" stop-color="#030303"/><stop offset=".5" stop-color="#030303"/><stop offset=".625" stop-color="#040404"/><stop offset=".625" stop-color="#070707"/><stop offset=".75" stop-color="#0b0b0b"/><stop offset=".75" stop-color="#1a1a1a"/><stop offset=".875" stop-color="#1c1c1c"/><stop offset=".875" stop-color="#181818"/><stop offset="1" stop-color="#171717"/></linearGradient><linearGradient id="l2_39"><stop offset="0" stop-color="#030303"/><stop offset=".125" stop-color="#030303"/><stop offset=".125" stop-color="#030303"/><stop offset=".25" stop-color="#030303"/><stop offset=".25" stop-color="#030303"/><stop offset=".375" stop-color="#030303"/><stop offset=".375" stop-color="#030303"/><stop offset=".5" stop-color="#030303"/><stop offset=".5" stop-color="#030303"/><stop offset=".625" stop-color="#040404"/><stop offset=".625" stop-color="#070707"/><stop offset=".75" stop-color="#0b0b0b"/><stop offset=".75" stop-color="#1a1a1a"/><stop offset=".875" stop-color="#1c1c1c"/><stop offset=".875" stop-color="#181818"/><stop offset="1" stop-color="#171717"/></linearGradient><linearGradient id="l3_0"><stop offset="0" stop-color="#030303"/><stop offset=".1" stop-color="#030303"/><stop offset=".1" stop-color="#030303"/><stop offset=".2" stop-color="#030303"/><stop offset=".2" stop-color="#030303"/><stop offset=".3" stop-color="#030303"/><stop offset=".3" stop-color="#030303"/><stop offset=".4" stop-color="#030303"/><stop offset=".4" stop-color="#030303"/><stop offset=".5" stop-color="#030303"/><stop offset=".5" stop-color="#030303"/><stop offset=".6" stop-color="#030303"/><stop offset=".6" stop-color="#030303"/><stop offset=".7" stop-color="#030303"/><stop offset=".7" stop-color="#030303"/><stop offset=".8" stop-color="#040404"/><stop offset=".8" stop-color="#0a0a0a"/><stop offset=".9" stop-color="#0b0b0b"/><stop offset=".9" stop-color="#0b0b0b"/><stop offset="1" stop-color="#0b0b0b"/></linearGradient><linearGradient id="l3_1"><stop offset="0" stop-color="#030303"/><stop offset=".1" stop-color="#030303"/><stop offset=".1" stop-color="#030303"/><stop offset=".2" stop-color="#030303"/><stop offset=".2" stop-color="#030303"/><stop offset=".3" stop-color="#030303"/><stop offset=".3" stop-color="#030303"/><stop offset=".4" stop-color="#030303"/><stop offset=".4" stop-color="#030303"/><stop offset=".5" stop-color="#030303"/><stop offset=".5" stop-color="#030303"/><stop offset=".6" stop-color="#030303"/><stop offset=".6" stop-color="#030303"/><stop offset=".7" stop-color="#030303"/><stop offset=".7" stop-color="#030303"/><stop offset=".8" stop-color="#040404"/><stop offset=".8" stop-color="#0a0a0a"/><stop offset=".9" stop-color="#0b0b0b"/><stop offset=".9" stop-color="#0b0b0b"/><stop offset="1" stop-color="#0b0b0b"/></linearGradient><linearGradient id="l3_2"><stop offset="0" stop-color="#030303"/><stop offset=".1" stop-color="#030303"/><stop offset=".1" stop-color="#030303"/><stop offset=".2" stop-color="#030303"/><stop offset=".2" stop-color="#030303"/><stop offset=".3" stop-color="#030303"/><stop offset=".3" stop-color="#030303"/><stop offset=".4" stop-color="#030303"/><stop offset=".4" stop-color="#030303"/><stop offset=".5" stop-color="#030303"/><stop offset=".5" stop-color="#030303"/><stop offset=".6" stop-color="#030303"/><stop offset=".6" stop-color="#030303"/><stop offset=".7" stop-color="#040404"/><stop offset=".7" stop-color="#040404"/><stop offset=".8" stop-color="#070707"/><stop offset=".8" stop-color="#0e0e0e"/><stop offset=".85" stop-color="#101010"/><stop offset=".9" stop-color="#0f0f0f"/><stop offset=".9" stop-color="#0e0e0e"/><stop offset="1" stop-color="#0d0d0d"/></linearGradient><linearGradient id="l3_3"><stop offset="0" stop-color="#030303"/><stop offset=".1" stop-color="#030303"/><stop offset=".1" stop-color="#030303"/><stop offset=".2" stop-color="#030303"/><stop offset=".2" stop-color="#030303"/><stop offset=".3" stop-color="#030303"/><stop offset=".3" stop-color="#030303"/><stop offset=".4" stop-color="#030303"/><stop offset=".4" stop-color="#030303"/><stop offset=".5" stop-color="#030303"/><stop offset=".5" stop-color="#030303"/><stop offset=".6" stop-color="#030303"/><stop offset=".6" stop-color="#030303"/><stop offset=".7" stop-color="#040404"/><stop offset=".7" stop-color="#0f0f0f"/><stop offset=".8" stop-color="#131313"/><stop offset=".8" stop-color="#2d2d2d"/><stop offset=".85" stop-color="#303030"/><stop offset=".9" stop-color="#2f2f2f"/><stop offset=".9" stop-color="#202020"/><stop offset="1" stop-color="#1f1f1f"/></linearGradient><linearGradient id="l3_4"><stop offset="0" stop-color="#030303"/><stop offset=".1" stop-color="#030303"/><stop offset=".1" stop-color="#030303"/><stop offset=".2" stop-color="#030303"/><stop offset=".2" stop-color="#030303"/><stop offset=".3" stop-color="#030303"/><stop offset=".3" stop-color="#030303"/><stop offset=".4" stop-color="#030303"/><stop offset=".4" stop-color="#030303"/><stop offset=".5" stop-color="#030303"/><stop offset=".5" stop-color="#030303"/><stop offset=".6" stop-color="#030303"/><stop offset=".6" stop-color="#030303"/><stop offset=".65" stop-color="#030303"/><stop offset=".7" stop-color="#050505"/><stop offset=".7" stop-color="#101010"/><stop offset=".8" stop-color="#161616"/><stop offset=".8" stop-color="#313131"/><stop offset=".85" stop-color="#353535"/><stop offset=".9" stop-color="#333333"/><stop offset=".9" stop-color="#242424"/><stop offset=".95" stop-color="#212121"/><stop offset="1" stop-color="#212121"/></linearGradient><linearGradient id="l3_5"><stop offset="0" stop-color="#030303"/><stop offset=".1" stop-color="#030303"/><stop offset=".1" stop-color="#030303"/><stop offset=".2" stop-color="#030303"/><stop offset=".2" stop-color="#030303"/><stop offset=".3" stop-color="#030303"/><stop offset=".3" stop-color="#030303"/><stop offset=".4" stop-color="#030303"/><stop offset=".4" stop-color="#030303"/><stop offset=".5" stop-color="#030303"/><stop offset=".5" stop-color="#030303"/><stop offset=".6" stop-color="#040404"/><stop offset=".6" stop-color="#040404"/><stop offset=".65" stop-color="#050505"/><stop offset=".7" stop-color="#090909"/><stop offset=".7" stop-color="#151515"/><stop offset=".8" stop-color="#1c1c1c"/><stop offset=".8" stop-color="#373737"/><stop offset=".85" stop-color="#3a3a3a"/><stop offset=".9" stop-color="#383838"/><stop offset=".9" stop-color="#282828"/><stop offset=".95" stop-color="#252525"/><stop offset="1" stop-color="#252525"/></linearGradient><linearGradient id="l3_6"><stop offset="0" stop-color="#030303"/><stop offset=".1" stop-color="#030303"/><stop offset=".1" stop-color="#030303"/><stop offset=".2" stop-color="#030303"/><stop offset=".2" stop-color="#030303"/><stop offset=".3" stop-color="#030303"/><stop offset=".3" stop-color="#030303"/><stop offset=".4" stop-color="#030303"/><stop offset=".4" stop-color="#030303"/><stop offset=".5" stop-color="#030303"/><stop offset=".5" stop-color="#030303"/><stop offset=".6" stop-color="#040404"/><stop offset=".6" stop-color="#0f0f0f"/><stop offset=".65" stop-color="#101010"/><stop offset=".7" stop-color="#151515"/><stop offset=".7" stop-color="#3e3e3e"/><stop offset=".8" stop-color="#464646"/><stop offset=".8" stop-color="#565656"/><stop offset=".85" stop-color="#595959"/><stop offset=".9" stop-color="#565656"/><stop offset=".9" stop-color="#414141"/><stop offset=".95" stop-color="#3e3e3e"/><stop offset="1" stop-color="#3e3e3e"/></linearGradient><linearGradient id="l3_7"><stop offset="0" stop-color="#030303"/><stop offset=".1" stop-color="#030303"/><stop offset=".1" stop-color="#030303"/><stop offset=".2" stop-color="#030303"/><stop offset=".2" stop-color="#030303"/><stop offset=".3" stop-color="#030303"/><stop offset=".3" stop-color="#030303"/><stop offset=".4" stop-color="#030303"/><stop offset=".4" stop-color="#030303"/><stop offset=".5" stop-color="#030303"/><stop offset=".5" stop-color="#030303"/><stop offset=".55" stop-color="#030303"/><stop offset=".6" stop-color="#050505"/><stop offset=".6" stop-color="#101010"/><stop offset=".65" stop-color="#121212"/><stop offset=".7" stop-color="#191919"/><stop offset=".7" stop-color="#434343"/><stop offset=".75" stop-color="#4a4a4a"/><stop offset=".8" stop-color="#4c4c4c"/><stop offset=".8" stop-color="#5b5b5b"/><stop offset=".85" stop-color="#5e5e5e"/><stop offset=".9" stop-color="#5a5a5a"/><stop offset=".9" stop-color="#454545"/><stop offset=".95" stop-color="#424242"/><stop offset="1" stop-color="#424242"/></linearGradient><linearGradient id="l3_8"><stop offset="0" stop-color="#030303"/><stop offset=".1" stop-color="#030303"/><stop offset=".1" stop-color="#030303"/><stop offset=".2" stop-color="#030303"/><stop offset=".2" stop-color="#030303"/><stop offset=".3" stop-color="#030303"/><stop offset=".3" stop-color="#030303"/><stop offset=".4" stop-color="#030303"/><stop offset=".4" stop-color="#030303"/><stop offset=".5" stop-color="#040404"/><stop offset=".5" stop-color="#050505"/><stop offset=".6" stop-color="#080808"/><stop offset=".6" stop-color="#141414"/><stop offset=".65" stop-color="#161616"/><stop offset=".7" stop-color="#1b1b1b"/><stop offset=".7" stop-color="#454545"/><stop offset=".75" stop-color="#4b4b4b"/><stop offset=".8" stop-color="#4a4a4a"/><stop offset=".8" stop-color="#575757"/><stop offset=".9" stop-color="#5a5a5a"/><stop offset=".9" stop-color="#464646"/><stop offset="1" stop-color="#444444"/></linearGradient><linearGradient id="l3_9"><stop offset="0" stop-color="#030303"/><stop offset=".1" stop-color="#030303"/><stop offset=".1" stop-color="#030303"/><stop offset=".2" stop-color="#030303"/><stop offset=".2" stop-color="#030303"/><stop offset=".3" stop-color="#030303"/><stop offset=".3" stop-color="#030303"/><stop offset=".4" stop-color="#030303"/><stop offset=".4" stop-color="#030303"/><stop offset=".5" stop-color="#050505"/><stop offset=".5" stop-color="#171717"/><stop offset=".6" stop-color="#1b1b1b"/><stop offset=".6" stop-color="#2b2b2b"/><stop offset=".65" stop-color="#2d2d2d"/><stop offset=".7" stop-color="#323232"/><stop offset=".7" stop-color="#4d4d4d"/><stop offset=".75" stop-color="#525252"/><stop offset=".8" stop-color="#4a4a4a"/><stop offset=".8" stop-color="#454545"/><stop offset=".85" stop-color="#464646"/><stop offset=".9" stop-color="#555555"/><stop offset=".9" stop-color="#535353"/><stop offset="1" stop-color="#525252"/></linearGradient><linearGradient id="l3_10"><stop offset="0" stop-color="#030303"/><stop offset=".1" stop-color="#030303"/><stop offset=".1" stop-color="#030303"/><stop offset=".2" stop-color="#030303"/><stop offset=".2" stop-color="#030303"/><stop offset=".3" stop-color="#030303"/><stop offset=".3" stop-color="#030303"/><stop offset=".4" stop-color="#030303"/><stop offset=".4" stop-color="#030303"/><stop offset=".45" stop-color="#030303"/><stop offset=".5" stop-color="#060606"/><stop offset=".5" stop-color="#191919"/><stop offset=".6" stop-color="#1f1f1f"/><stop offset=".6" stop-color="#2e2e2e"/><stop offset=".65" stop-color="#303030"/><stop offset=".7" stop-color="#353535"/><stop offset=".7" stop-color="#4f4f4f"/><stop offset=".75" stop-color="#525252"/><stop offset=".8" stop-color="#3f3f3f"/><stop offset=".8" stop-color="#2f2f2f"/><stop offset=".85" stop-color="#303030"/><stop offset=".9" stop-color="#525252"/><stop offset=".9" stop-color="#535353"/><stop offset="1" stop-color="#545454"/></linearGradient><linearGradient id="l3_11"><stop offset="0" stop-color="#030303"/><stop offset=".1" stop-color="#030303"/><stop offset=".1" stop-color="#030303"/><stop offset=".2" stop-color="#030303"/><stop offset=".2" stop-color="#030303"/><stop offset=".3" stop-color="#030303"/><stop offset=".3" stop-color="#030303"/><stop offset=".4" stop-color="#030303"/><stop offset=".4" stop-color="#030303"/><stop offset=".5" stop-color="#070707"/><stop offset=".5" stop-color="#1a1a1a"/><stop offset=".6" stop-color="#202020"/><stop offset=".6" stop-color="#2f2f2f"/><stop offset=".7" stop-color="#363636"/><stop offset=".7" stop-color="#515151"/><stop offset=".8" stop-color="#595959"/><stop offset=".8" stop-color="#5d5d5d"/><stop offset=".85" stop-color="#616161"/><stop offset=".9" stop-color="#606060"/><stop offset=".9" stop-color="#5a5a5a"/><stop offset=".95" stop-color="#555555"/><stop offset="1" stop-color="#555555"/></linearGradient><linearGradient id="l3_12"><stop offset="0" stop-color="#030303"/><stop offset=".1" stop-color="#030303"/><stop offset=".1" stop-color="#030303"/><stop offset=".2" stop-color="#030303"/><stop offset=".2" stop-color="#030303"/><stop offset=".3" stop-color="#030303"/><stop offset=".3" stop-color="#030303"/><stop offset=".4" stop-color="#030303"/><stop offset=".4" stop-color="#070707"/><stop offset=".45" stop-color="#070707"/><stop offset=".5" stop-color="#0b0b0b"/><stop offset=".5" stop-color="#202020"/><stop offset=".6" stop-color="#262626"/><stop offset=".6" stop-color="#373737"/><stop offset=".65" stop-color="#393939"/><stop offset=".7" stop-color="#3e3e3e"/><stop offset=".7" stop-color="#595959"/><stop offset=".75" stop-color="#606060"/><stop offset=".8" stop-color="#6c6c6c"/><stop offset=".8" stop-color="#898989"/><stop offset=".85" stop-color="#8f8f8f"/><stop offset=".9" stop-color="#838383"/><stop offset=".9" stop-color="#666666"/><stop offset=".95" stop-color="#5d5d5d"/><stop offset="1" stop-color="#5d5d5d"/></linearGradient><linearGradient id="l3_13"><stop offset="0" stop-color="#030303"/><stop offset=".1" stop-color="#030303"/><stop offset=".1" stop-color="#030303"/><stop offset=".2" stop-color="#030303"/><stop offset=".2" stop-color="#030303"/><stop offset=".3" stop-color="#030303"/><stop offset=".3" stop-color="#030303"/><stop offset=".4" stop-color="#040404"/><stop offset=".4" stop-color="#070707"/><stop offset=".5" stop-color="#0b0b0b"/><stop offset=".5" stop-color="#202020"/><stop offset=".6" stop-color="#272727"/><stop offset=".6" stop-color="#383838"/><stop offset=".65" stop-color="#3a3a3a"/><stop offset=".7" stop-color="#3f3f3f"/><stop offset=".7" stop-color="#5a5a5a"/><stop offset=".75" stop-color="#676767"/><stop offset=".8" stop-color="#8a8a8a"/><stop offset=".8" stop-color="#b4b4b4"/><stop offset=".85" stop-color="#c2c2c2"/><stop offset=".9" stop-color="#a0a0a0"/><stop offset=".9" stop-color="#767676"/><stop offset=".95" stop-color="#606060"/><stop offset="1" stop-color="#5e5e5e"/></linearGradient><linearGradient id="l3_14"><stop offset="0" stop-color="#030303"/><stop offset=".1" stop-color="#030303"/><stop offset=".1" stop-color="#030303"/><stop offset=".2" stop-color="#030303"/><stop offset=".2" stop-color="#030303"/><stop offset=".3" stop-color="#030303"/><stop offset=".3" stop-color="#030303"/><stop offset=".4" stop-color="#040404"/><stop offset=".4" stop-color="#070707"/><stop offset=".5" stop-color="#0b0b0b"/><stop offset=".5" stop-color="#202020"/><stop offset=".6" stop-color="#272727"/><stop offset=".6" stop-color="#383838"/><stop offset=".65" stop-color="#3a3a3a"/><stop offset=".7" stop-color="#3f3f3f"/><stop offset=".7" stop-color="#5b5b5b"/><stop offset=".75" stop-color="#6b6b6b"/><stop offset=".8" stop-color="#9d9d9d"/><stop offset=".8" stop-color="#d0d0d0"/><stop offset=".85" stop-color="#e3e3e3"/><stop offset=".9" stop-color="#b3b3b3"/><stop offset=".9" stop-color="#808080"/><stop offset=".95" stop-color="#626262"/><stop offset="1" stop-color="#5e5e5e"/></linearGradient><linearGradient id="l3_15"><stop offset="0" stop-color="#030303"/><stop offset=".1" stop-color="#030303"/><stop offset=".1" stop-color="#030303"/><stop offset=".2" stop-color="#030303"/><stop offset=".2" stop-color="#030303"/><stop offset=".3" stop-color="#030303"/><stop offset=".3" stop-color="#030303"/><stop offset=".4" stop-color="#040404"/><stop offset=".4" stop-color="#070707"/><stop offset=".5" stop-color="#0b0b0b"/><stop offset=".5" stop-color="#202020"/><stop offset=".6" stop-color="#272727"/><stop offset=".6" stop-color="#383838"/><stop offset=".65" stop-color="#3a3a3a"/><stop offset=".7" stop-color="#3f3f3f"/><stop offset=".7" stop-color="#5b5b5b"/><stop offset=".75" stop-color="#6b6b6b"/><stop offset=".8" stop-color="#9d9d9d"/><stop offset=".8" stop-color="#cfcfcf"/><stop offset=".85" stop-color="#e2e2e2"/><stop offset=".9" stop-color="#b2b2b2"/><stop offset=".9" stop-color="#808080"/><stop offset=".95" stop-color="#626262"/><stop offset="1" stop-color="#5e5e5e"/></linearGradient><linearGradient id="l3_16"><stop offset="0" stop-color="#030303"/><stop offset=".1" stop-color="#030303"/><stop offset=".1" stop-color="#030303"/><stop offset=".2" stop-color="#030303"/><stop offset=".2" stop-color="#030303"/><stop offset=".3" stop-color="#030303"/><stop offset=".3" stop-color="#030303"/><stop offset=".4" stop-color="#040404"/><stop offset=".4" stop-color="#070707"/><stop offset=".5" stop-color="#0b0b0b"/><stop offset=".5" stop-color="#202020"/><stop offset=".6" stop-color="#272727"/><stop offset=".6" stop-color="#383838"/><stop offset=".65" stop-color="#3a3a3a"/><stop offset=".7" stop-color="#3f3f3f"/><stop offset=".7" stop-color="#5a5a5a"/><stop offset=".75" stop-color="#666666"/><stop offset=".8" stop-color="#888888"/><stop offset=".8" stop-color="#b1b1b1"/><stop offset=".85" stop-color="#bfbfbf"/><stop offset=".9" stop-color="#9e9e9e"/><stop offset=".9" stop-color="#757575"/><stop offset=".95" stop-color="#606060"/><stop offset="1" stop-color="#5e5e5e"/></linearGradient><linearGradient id="l3_17"><stop offset="0" stop-color="#030303"/><stop offset=".1" stop-color="#030303"/><stop offset=".1" stop-color="#030303"/><stop offset=".2" stop-color="#030303"/><stop offset=".2" stop-color="#030303"/><stop offset=".3" stop-color="#030303"/><stop offset=".3" stop-color="#030303"/><stop offset=".4" stop-color="#030303"/><stop offset=".4" stop-color="#070707"/><stop offset=".45" stop-color="#070707"/><stop offset=".5" stop-color="#0b0b0b"/><stop offset=".5" stop-color="#202020"/><stop offset=".6" stop-color="#262626"/><stop offset=".6" stop-color="#373737"/><stop offset=".65" stop-color="#393939"/><stop offset=".7" stop-color="#3e3e3e"/><stop offset=".7" stop-color="#595959"/><stop offset=".75" stop-color="#5f5f5f"/><stop offset=".8" stop-color="#6a6a6a"/><stop offset=".8" stop-color="#848484"/><stop offset=".85" stop-color="#8a8a8a"/><stop offset=".9" stop-color="#818181"/><stop offset=".9" stop-color="#656565"/><stop offset=".95" stop-color="#5d5d5d"/><stop offset="1" stop-color="#5d5d5d"/></linearGradient><linearGradient id="l3_18"><stop offset="0" stop-color="#030303"/><stop offset=".1" stop-color="#030303"/><stop offset=".1" stop-color="#030303"/><stop offset=".2" stop-color="#030303"/><stop offset=".2" stop-color="#030303"/><stop offset=".3" stop-color="#030303"/><stop offset=".3" stop-color="#030303"/><stop offset=".4" stop-color="#030303"/><stop offset=".4" stop-color="#030303"/><stop offset=".5" stop-color="#070707"/><stop offset=".5" stop-color="#1a1a1a"/><stop offset=".6" stop-color="#202020"/><stop offset=".6" stop-color="#2f2f2f"/><stop offset=".7" stop-color="#363636"/><stop offset=".7" stop-color="#515151"/><stop offset=".75" stop-color="#565656"/><stop offset=".8" stop-color="#545454"/><stop offset=".8" stop-color="#535353"/><stop offset=".85" stop-color="#575757"/><stop offset=".9" stop-color="#5e5e5e"/><stop offset=".9" stop-color="#595959"/><stop offset=".95" stop-color="#555555"/><stop offset="1" stop-color="#555555"/></linearGradient><linearGradient id="l3_19"><stop offset="0" stop-color="#030303"/><stop offset=".1" stop-color="#030303"/><stop offset=".1" stop-color="#030303"/><stop offset=".2" stop-color="#030303"/><stop offset=".2" stop-color="#030303"/><stop offset=".3" stop-color="#030303"/><stop offset=".3" stop-color="#030303"/><stop offset=".4" stop-color="#030303"/><stop offset=".4" stop-color="#030303"/><stop offset=".45" stop-color="#030303"/><stop offset=".5" stop-color="#060606"/><stop offset=".5" stop-color="#191919"/><stop offset=".6" stop-color="#1f1f1f"/><stop offset=".6" stop-color="#2e2e2e"/><stop offset=".65" stop-color="#303030"/><stop offset=".7" stop-color="#353535"/><stop offset=".7" stop-color="#4f4f4f"/><stop offset=".75" stop-color="#525252"/><stop offset=".8" stop-color="#3e3e3e"/><stop offset=".8" stop-color="#2d2d2d"/><stop offset=".85" stop-color="#2f2f2f"/><stop offset=".9" stop-color="#525252"/><stop offset=".9" stop-color="#535353"/><stop offset="1" stop-color="#545454"/></linearGradient><linearGradient id="l3_20"><stop offset="0" stop-color="#030303"/><stop offset=".1" stop-color="#030303"/><stop offset=".1" stop-color="#030303"/><stop offset=".2" stop-color="#030303"/><stop offset=".2" stop-color="#030303"/><stop offset=".3" stop-color="#030303"/><stop offset=".3" stop-color="#030303"/><stop offset=".4" stop-color="#030303"/><stop offset=".4" stop-color="#030303"/><stop offset=".5" stop-color="#050505"/><stop offset=".5" stop-color="#171717"/><stop offset=".6" stop-color="#1b1b1b"/><stop offset=".6" stop-color="#2b2b2b"/><stop offset=".65" stop-color="#2d2d2d"/><stop offset=".7" stop-color="#323232"/><stop offset=".7" stop-color="#4d4d4d"/><stop offset=".75" stop-color="#525252"/><stop offset=".8" stop-color="#4f4f4f"/><stop offset=".8" stop-color="#4f4f4f"/><stop offset=".85" stop-color="#515151"/><stop offset=".9" stop-color="#565656"/><stop offset=".9" stop-color="#535353"/><stop offset="1" stop-color="#525252"/></linearGradient><linearGradient id="l3_21"><stop offset="0" stop-color="#030303"/><stop offset=".1" stop-color="#030303"/><stop offset=".1" stop-color="#030303"/><stop offset=".2" stop-color="#030303"/><stop offset=".2" stop-color="#030303"/><stop offset=".3" stop-color="#030303"/><stop offset=".3" stop-color="#030303"/><stop offset=".4" stop-color="#030303"/><stop offset=".4" stop-color="#030303"/><stop offset=".5" stop-color="#040404"/><stop offset=".5" stop-color="#050505"/><stop offset=".6" stop-color="#080808"/><stop offset=".6" stop-color="#141414"/><stop offset=".65" stop-color="#161616"/><stop offset=".7" stop-color="#1b1b1b"/><stop offset=".7" stop-color="#454545"/><stop offset=".75" stop-color="#4b4b4b"/><stop offset=".8" stop-color="#4c4c4c"/><stop offset=".8" stop-color="#5a5a5a"/><stop offset=".85" stop-color="#5c5c5c"/><stop offset=".9" stop-color="#5b5b5b"/><stop offset=".9" stop-color="#464646"/><stop offset="1" stop-color="#444444"/></linearGradient><linearGradient id="l3_22"><stop offset="0" stop-color="#030303"/><stop offset=".1" stop-color="#030303"/><stop offset=".1" stop-color="#030303"/><stop offset=".2" stop-color="#030303"/><stop offset=".2" stop-color="#030303"/><stop offset=".3" stop-color="#030303"/><stop offset=".3" stop-color="#030303"/><stop offset=".4" stop-color="#030303"/><stop offset=".4" stop-color="#030303"/><stop offset=".5" stop-color="#030303"/><stop offset=".5" stop-color="#030303"/><stop offset=".55" stop-color="#030303"/><stop offset=".6" stop-color="#050505"/><stop offset=".6" stop-color="#101010"/><stop offset=".65" stop-color="#121212"/><stop offset=".7" stop-color="#191919"/><stop offset=".7" stop-color="#434343"/><stop offset=".75" stop-color="#4a4a4a"/><stop offset=".8" stop-color="#4c4c4c"/><stop offset=".8" stop-color="#5b5b5b"/><stop offset=".85" stop-color="#5e5e5e"/><stop offset=".9" stop-color="#5a5a5a"/><stop offset=".9" stop-color="#454545"/><stop offset=".95" stop-color="#424242"/><stop offset="1" stop-color="#424242"/></linearGradient><linearGradient id="l3_23"><stop offset="0" stop-color="#030303"/><stop offset=".1" stop-color="#030303"/><stop offset=".1" stop-color="#030303"/><stop offset=".2" stop-color="#030303"/><stop offset=".2" stop-color="#030303"/><stop offset=".3" stop-color="#030303"/><stop offset=".3" stop-color="#030303"/><stop offset=".4" stop-color="#030303"/><stop offset=".4" stop-color="#030303"/><stop offset=".5" stop-color="#030303"/><stop offset=".5" stop-color="#030303"/><stop offset=".6" stop-color="#040404"/><stop offset=".6" stop-color="#0f0f0f"/><stop offset=".65" stop-color="#101010"/><stop offset=".7" stop-color="#151515"/><stop offset=".7" stop-color="#3e3e3e"/><stop offset=".8" stop-color="#464646"/><stop offset=".8" stop-color="#565656"/><stop offset=".85" stop-color="#595959"/><stop offset=".9" stop-color="#565656"/><stop offset=".9" stop-color="#414141"/><stop offset=".95" stop-color="#3e3e3e"/><stop offset="1" stop-color="#3e3e3e"/></linearGradient><linearGradient id="l3_24"><stop offset="0" stop-color="#030303"/><stop offset=".1" stop-color="#030303"/><stop offset=".1" stop-color="#030303"/><stop offset=".2" stop-color="#030303"/><stop offset=".2" stop-color="#030303"/><stop offset=".3" stop-color="#030303"/><stop offset=".3" stop-color="#030303"/><stop offset=".4" stop-color="#030303"/><stop offset=".4" stop-color="#030303"/><stop offset=".5" stop-color="#030303"/><stop offset=".5" stop-color="#030303"/><stop offset=".6" stop-color="#040404"/><stop offset=".6" stop-color="#040404"/><stop offset=".65" stop-color="#050505"/><stop offset=".7" stop-color="#090909"/><stop offset=".7" stop-color="#151515"/><stop offset=".8" stop-color="#1c1c1c"/><stop offset=".8" stop-color="#373737"/><stop offset=".85" stop-color="#3a3a3a"/><stop offset=".9" stop-color="#383838"/><stop offset=".9" stop-color="#282828"/><stop offset=".95" stop-color="#252525"/><stop offset="1" stop-color="#252525"/></linearGradient><linearGradient id="l3_25"><stop offset="0" stop-color="#030303"/><stop offset=".1" stop-color="#030303"/><stop offset=".1" stop-color="#030303"/><stop offset=".2" stop-color="#030303"/><stop offset=".2" stop-color="#030303"/><stop offset=".3" stop-color="#030303"/><stop offset=".3" stop-color="#030303"/><stop offset=".4" stop-color="#030303"/><stop offset=".4" stop-color="#030303"/><stop offset=".5" stop-color="#030303"/><stop offset=".5" stop-color="#030303"/><stop offset=".6" stop-color="#030303"/><stop offset=".6" stop-color="#030303"/><stop offset=".65" stop-color="#030303"/><stop offset=".7" stop-color="#050505"/><stop offset=".7" stop-color="#101010"/><stop offset=".8" stop-color="#161616"/><stop offset=".8" stop-color="#313131"/><stop offset=".85" stop-color="#353535"/><stop offset=".9" stop-color="#333333"/><stop offset=".9" stop-color="#242424"/><stop offset=".95" stop-color="#212121"/><stop offset="1" stop-color="#212121"/></linearGradient><linearGradient id="l3_26"><stop offset="0" stop-color="#030303"/><stop offset=".1" stop-color="#030303"/><stop offset=".1" stop-color="#030303"/><stop offset=".2" stop-color="#030303"/><stop offset=".2" stop-color="#030303"/><stop offset=".3" stop-color="#030303"/><stop offset=".3" stop-color="#030303"/><stop offset=".4" stop-color="#030303"/><stop offset=".4" stop-color="#030303"/><stop offset=".5" stop-color="#030303"/><stop offset=".5" stop-color="#030303"/><stop offset=".6" stop-color="#030303"/><stop offset=".6" stop-color="#030303"/><stop offset=".7" stop-color="#040404"/><stop offset=".7" stop-color="#0f0f0f"/><stop offset=".8" stop-color="#131313"/><stop offset=".8" stop-color="#2d2d2d"/><stop offset=".85" stop-color="#303030"/><stop offset=".9" stop-color="#2f2f2f"/><stop offset=".9" stop-color="#202020"/><stop offset="1" stop-color="#1f1f1f"/></linearGradient><linearGradient id="l3_27"><stop offset="0" stop-color="#030303"/><stop offset=".1" stop-color="#030303"/><stop offset=".1" stop-color="#030303"/><stop offset=".2" stop-color="#030303"/><stop offset=".2" stop-color="#030303"/><stop offset=".3" stop-color="#030303"/><stop offset=".3" stop-color="#030303"/><stop offset=".4" stop-color="#030303"/><stop offset=".4" stop-color="#030303"/><stop offset=".5" stop-color="#030303"/><stop offset=".5" stop-color="#030303"/><stop offset=".6" stop-color="#030303"/><stop offset=".6" stop-color="#030303"/><stop offset=".7" stop-color="#040404"/><stop offset=".7" stop-color="#040404"/><stop offset=".8" stop-color="#070707"/><stop offset=".8" stop-color="#0e0e0e"/><stop offset=".85" stop-color="#101010"/><stop offset=".9" stop-color="#0f0f0f"/><stop offset=".9" stop-color="#0e0e0e"/><stop offset="1" stop-color="#0d0d0d"/></linearGradient><linearGradient id="l3_28"><stop offset="0" stop-color="#030303"/><stop offset=".1" stop-color="#030303"/><stop offset=".1" stop-color="#030303"/><stop offset=".2" stop-color="#030303"/><stop offset=".2" stop-color="#030303"/><stop offset=".3" stop-color="#030303"/><stop offset=".3" stop-color="#030303"/><stop offset=".4" stop-color="#030303"/><stop offset=".4" stop-color="#030303"/><stop offset=".5" stop-color="#030303"/><stop offset=".5" stop-color="#030303"/><stop offset=".6" stop-color="#030303"/><stop offset=".6" stop-color="#030303"/><stop offset=".7" stop-color="#030303"/><stop offset=".7" stop-color="#030303"/><stop offset=".8" stop-color="#040404"/><stop offset=".8" stop-color="#0a0a0a"/><stop offset=".9" stop-color="#0b0b0b"/><stop offset=".9" stop-color="#0b0b0b"/><stop offset="1" stop-color="#0b0b0b"/></linearGradient><linearGradient id="l3_29"><stop offset="0" stop-color="#030303"/><stop offset=".1" stop-color="#030303"/><stop offset=".1" stop-color="#030303"/><stop offset=".2" stop-color="#030303"/><stop offset=".2" stop-color="#030303"/><stop offset=".3" stop-color="#030303"/><stop offset=".3" stop-color="#030303"/><stop offset=".4" stop-color="#030303"/><stop offset=".4" stop-color="#030303"/><stop offset=".5" stop-color="#030303"/><stop offset=".5" stop-color="#030303"/><stop offset=".6" stop-color="#030303"/><stop offset=".6" stop-color="#030303"/><stop offset=".7" stop-color="#030303"/><stop offset=".7" stop-color="#030303"/><stop offset=".8" stop-color="#040404"/><stop offset=".8" stop-color="#0a0a0a"/><stop offset=".9" stop-color="#0b0b0b"/><stop offset=".9" stop-color="#0b0b0b"/><stop offset="1" stop-color="#0b0b0b"/></linearGradient><linearGradient id="l4_0"><stop offset="0" stop-color="#030303"/><stop offset=".083" stop-color="#030303"/><stop offset=".083" stop-color="#030303"/><stop offset=".167" stop-color="#030303"/><stop offset=".167" stop-color="#030303"/><stop offset=".25" stop-color="#030303"/><stop offset=".25" stop-color="#030303"/><stop offset=".333" stop-color="#030303"/><stop offset=".333" stop-color="#030303"/><stop offset=".417" stop-color="#030303"/><stop offset=".417" stop-color="#030303"/><stop offset=".5" stop-color="#030303"/><stop offset=".5" stop-color="#030303"/><stop offset=".583" stop-color="#030303"/><stop offset=".583" stop-color="#030303"/><stop offset=".667" stop-color="#030303"/><stop offset=".667" stop-color="#030303"/><stop offset=".75" stop-color="#040404"/><stop offset=".75" stop-color="#0a0a0a"/><stop offset=".833" stop-color="#0b0b0b"/><stop offset=".833" stop-color="#0b0b0b"/><stop offset=".917" stop-color="#0a0a0a"/><stop offset=".917" stop-color="#080808"/><stop offset="1" stop-color="#080808"/></linearGradient><linearGradient id="l4_1"><stop offset="0" stop-color="#030303"/><stop offset=".083" stop-color="#030303"/><stop offset=".083" stop-color="#030303"/><stop offset=".167" stop-color="#030303"/><stop offset=".167" stop-color="#030303"/><stop offset=".25" stop-color="#030303"/><stop offset=".25" stop-color="#030303"/><stop offset=".333" stop-color="#030303"/><stop offset=".333" stop-color="#030303"/><stop offset=".417" stop-color="#030303"/><stop offset=".417" stop-color="#030303"/><stop offset=".5" stop-color="#030303"/><stop offset=".5" stop-color="#030303"/><stop offset=".583" stop-color="#030303"/><stop offset=".583" stop-color="#030303"/><stop offset=".667" stop-color="#030303"/><stop offset=".667" stop-color="#030303"/><stop offset=".75" stop-color="#040404"/><stop offset=".75" stop-color="#0a0a0a"/><stop offset=".833" stop-color="#0b0b0b"/><stop offset=".833" stop-color="#0b0b0b"/><stop offset=".917" stop-color="#0a0a0a"/><stop offset=".917" stop-color="#080808"/><stop offset="1" stop-color="#080808"/></linearGradient><linearGradient id="l4_2"><stop offset="0" stop-color="#030303"/><stop offset=".083" stop-color="#030303"/><stop offset=".083" stop-color="#030303"/><stop offset=".167" stop-color="#030303"/><stop offset=".167" stop-color="#030303"/><stop offset=".25" stop-color="#030303"/><stop offset=".25" stop-color="#030303"/><stop offset=".333" stop-color="#030303"/><stop offset=".333" stop-color="#030303"/><stop offset=".417" stop-color="#030303"/><stop offset=".417" stop-color="#030303"/><stop offset=".5" stop-color="#030303"/><stop offset=".5" stop-color="#030303"/><stop offset=".583" stop-color="#030303"/><stop offset=".583" stop-color="#030303"/><stop offset=".667" stop-color="#030303"/><stop offset=".667" stop-color="#030303"/><stop offset=".708" stop-color="#030303"/><stop offset=".75" stop-color="#050505"/><stop offset=".75" stop-color="#0b0b0b"/><stop offset=".833" stop-color="#0e0e0e"/><stop offset=".833" stop-color="#0e0e0e"/><stop offset=".917" stop-color="#0d0d0d"/><stop offset=".917" stop-color="#0b0b0b"/><stop offset="1" stop-color="#0a0a0a"/></linearGradient><linearGradient id="l4_3"><stop offset="0" stop-color="#030303"/><stop offset=".083" stop-color="#030303"/><stop offset=".083" stop-color="#030303"/><stop offset=".167" stop-color="#030303"/><stop offset=".167" stop-color="#030303"/><stop offset=".25" stop-color="#030303"/><stop offset=".25" stop-color="#030303"/><stop offset=".333" stop-color="#030303"/><stop offset=".333" stop-color="#030303"/><stop offset=".417" stop-color="#030303"/><stop offset=".417" stop-color="#030303"/><stop offset=".5" stop-color="#030303"/><stop offset=".5" stop-color="#030303"/><stop offset=".583" stop-color="#030303"/><stop offset=".583" stop-color="#030303"/><stop offset=".667" stop-color="#030303"/><stop offset=".667" stop-color="#030303"/><stop offset=".708" stop-color="#030303"/><stop offset=".75" stop-color="#060606"/><stop offset=".75" stop-color="#1c1c1c"/><stop offset=".792" stop-color="#1f1f1f"/><stop offset=".833" stop-color="#1f1f1f"/><stop offset=".833" stop-color="#252525"/><stop offset=".917" stop-color="#242424"/><stop offset=".917" stop-color="#171717"/><stop offset="1" stop-color="#151515"/></linearGradient><linearGradient id="l4_4"><stop offset="0" stop-color="#030303"/><stop offset=".083" stop-color="#030303"/><stop offset=".083" stop-color="#030303"/><stop offset=".167" stop-color="#030303"/><stop offset=".167" stop-color="#030303"/><stop offset=".25" stop-color="#030303"/><stop offset=".25" stop-color="#030303"/><stop offset=".333" stop-color="#030303"/><stop offset=".333" stop-color="#030303"/><stop offset=".417" stop-color="#030303"/><stop offset=".417" stop-color="#030303"/><stop offset=".5" stop-color="#030303"/><stop offset=".5" stop-color="#030303"/><stop offset=".583" stop-color="#030303"/><stop offset=".583" stop-color="#030303"/><stop offset=".667" stop-color="#030303"/><stop offset=".667" stop-color="#030303"/><stop offset=".708" stop-color="#030303"/><stop offset=".75" stop-color="#070707"/><stop offset=".75" stop-color="#1e1e1e"/><stop offset=".792" stop-color="#212121"/><stop offset=".833" stop-color="#222222"/><stop offset=".833" stop-color="#282828"/><stop offset=".875" stop-color="#292929"/><stop offset=".917" stop-color="#272727"/><stop offset=".917" stop-color="#191919"/><stop offset="1" stop-color="#171717"/></linearGradient><linearGradient id="l4_5"><stop offset="0" stop-color="#030303"/><stop offset=".083" stop-color="#030303"/><stop offset=".083" stop-color="#030303"/><stop offset=".167" stop-color="#030303"/><stop offset=".167" stop-color="#030303"/><stop offset=".25" stop-color="#030303"/><stop offset=".25" stop-color="#030303"/><stop offset=".333" stop-color="#030303"/><stop offset=".333" stop-color="#030303"/><stop offset=".417" stop-color="#030303"/><stop offset=".417" stop-color="#030303"/><stop offset=".5" stop-color="#030303"/><stop offset=".5" stop-color="#030303"/><stop offset=".583" stop-color="#030303"/><stop offset=".583" stop-color="#030303"/><stop offset=".667" stop-color="#040404"/><stop offset=".667" stop-color="#050505"/><stop offset=".708" stop-color="#060606"/><stop offset=".75" stop-color="#0b0b0b"/><stop offset=".75" stop-color="#222222"/><stop offset=".792" stop-color="#272727"/><stop offset=".833" stop-color="#282828"/><stop offset=".833" stop-color="#2e2e2e"/><stop offset=".875" stop-color="#2f2f2f"/><stop offset=".917" stop-color="#2b2b2b"/><stop offset=".917" stop-color="#1d1d1d"/><stop offset=".958" stop-color="#191919"/><stop offset="1" stop-color="#191919"/></linearGradient><linearGradient id="l4_6"><stop offset="0" stop-color="#030303"/><stop offset=".083" stop-color="#030303"/><stop offset=".083" stop-color="#030303"/><stop offset=".167" stop-color="#030303"/><stop offset=".167" stop-color="#030303"/><stop offset=".25" stop-color="#030303"/><stop offset=".25" stop-color="#030303"/><stop offset=".333" stop-color="#030303"/><stop offset=".333" stop-color="#030303"/><stop offset=".417" stop-color="#030303"/><stop offset=".417" stop-color="#030303"/><stop offset=".5" stop-color="#030303"/><stop offset=".5" stop-color="#030303"/><stop offset=".583" stop-color="#030303"/><stop offset=".583" stop-color="#030303"/><stop offset=".667" stop-color="#050505"/><stop offset=".667" stop-color="#171717"/><stop offset=".708" stop-color="#191919"/><stop offset=".75" stop-color="#1e1e1e"/><stop offset=".75" stop-color="#444444"/><stop offset=".792" stop-color="#494949"/><stop offset=".833" stop-color="#4b4b4b"/><stop offset=".833" stop-color="#565656"/><stop offset=".875" stop-color="#575757"/><stop offset=".917" stop-color="#535353"/><stop offset=".917" stop-color="#2b2b2b"/><stop offset=".958" stop-color="#272727"/><stop offset="1" stop-color="#272727"/></linearGradient><linearGradient id="l4_7"><stop offset="0" stop-color="#030303"/><stop offset=".083" stop-color="#030303"/><stop offset=".083" stop-color="#030303"/><stop offset=".167" stop-color="#030303"/><stop offset=".167" stop-color="#030303"/><stop offset=".25" stop-color="#030303"/><stop offset=".25" stop-color="#030303"/><stop offset=".333" stop-color="#030303"/><stop offset=".333" stop-color="#030303"/><stop offset=".417" stop-color="#030303"/><stop offset=".417" stop-color="#030303"/><stop offset=".5" stop-color="#030303"/><stop offset=".5" stop-color="#030303"/><stop offset=".583" stop-color="#030303"/><stop offset=".583" stop-color="#030303"/><stop offset=".625" stop-color="#030303"/><stop offset=".667" stop-color="#060606"/><stop offset=".667" stop-color="#191919"/><stop offset=".708" stop-color="#1c1c1c"/><stop offset=".75" stop-color="#222222"/><stop offset=".75" stop-color="#494949"/><stop offset=".792" stop-color="#4f4f4f"/><stop offset=".833" stop-color="#505050"/><stop offset=".833" stop-color="#5c5c5c"/><stop offset=".875" stop-color="#5e5e5e"/><stop offset=".917" stop-color="#575757"/><stop offset=".917" stop-color="#2f2f2f"/><stop offset=".958" stop-color="#292929"/><stop offset="1" stop-color="#292929"/></linearGradient><linearGradient id="l4_8"><stop offset="0" stop-color="#030303"/><stop offset=".083" stop-color="#030303"/><stop offset=".083" stop-color="#030303"/><stop offset=".167" stop-color="#030303"/><stop offset=".167" stop-color="#030303"/><stop offset=".25" stop-color="#030303"/><stop offset=".25" stop-color="#030303"/><stop offset=".333" stop-color="#030303"/><stop offset=".333" stop-color="#030303"/><stop offset=".417" stop-color="#030303"/><stop offset=".417" stop-color="#030303"/><stop offset=".5" stop-color="#030303"/><stop offset=".5" stop-color="#030303"/><stop offset=".583" stop-color="#040404"/><stop offset=".583" stop-color="#050505"/><stop offset=".625" stop-color="#060606"/><stop offset=".667" stop-color="#0a0a0a"/><stop offset=".667" stop-color="#1d1d1d"/><stop offset=".708" stop-color="#202020"/><stop offset=".75" stop-color="#252525"/><stop offset=".75" stop-color="#4b4b4b"/><stop offset=".792" stop-color="#505050"/><stop offset=".833" stop-color="#515151"/><stop offset=".833" stop-color="#5c5c5c"/><stop offset=".875" stop-color="#5e5e5e"/><stop offset=".917" stop-color="#595959"/><stop offset=".917" stop-color="#323232"/><stop offset=".958" stop-color="#2d2d2d"/><stop offset="1" stop-color="#2d2d2d"/></linearGradient><linearGradient id="l4_9"><stop offset="0" stop-color="#030303"/><stop offset=".083" stop-color="#030303"/><stop offset=".083" stop-color="#030303"/><stop offset=".167" stop-color="#030303"/><stop offset=".167" stop-color="#030303"/><stop offset=".25" stop-color="#030303"/><stop offset=".25" stop-color="#030303"/><stop offset=".333" stop-color="#030303"/><stop offset=".333" stop-color="#030303"/><stop offset=".417" stop-color="#030303"/><stop offset=".417" stop-color="#030303"/><stop offset=".5" stop-color="#030303"/><stop offset=".5" stop-color="#030303"/><stop offset=".583" stop-color="#050505"/><stop offset=".583" stop-color="#171717"/><stop offset=".667" stop-color="#1d1d1d"/><stop offset=".667" stop-color="#383838"/><stop offset=".708" stop-color="#3b3b3b"/><stop offset=".75" stop-color="#404040"/><stop offset=".75" stop-color="#535353"/><stop offset=".792" stop-color="#585858"/><stop offset=".833" stop-color="#595959"/><stop offset=".833" stop-color="#5d5d5d"/><stop offset=".875" stop-color="#5e5e5e"/><stop offset=".917" stop-color="#5a5a5a"/><stop offset=".917" stop-color="#4e4e4e"/><stop offset=".958" stop-color="#4a4a4a"/><stop offset="1" stop-color="#4a4a4a"/></linearGradient><linearGradient id="l4_10"><stop offset="0" stop-color="#030303"/><stop offset=".083" stop-color="#030303"/><stop offset=".083" stop-color="#030303"/><stop offset=".167" stop-color="#030303"/><stop offset=".167" stop-color="#030303"/><stop offset=".25" stop-color="#030303"/><stop offset=".25" stop-color="#030303"/><stop offset=".333" stop-color="#030303"/><stop offset=".333" stop-color="#030303"/><stop offset=".417" stop-color="#030303"/><stop offset=".417" stop-color="#030303"/><stop offset=".5" stop-color="#030303"/><stop offset=".5" stop-color="#030303"/><stop offset=".542" stop-color="#030303"/><stop offset=".583" stop-color="#060606"/><stop offset=".583" stop-color="#191919"/><stop offset=".667" stop-color="#202020"/><stop offset=".667" stop-color="#3b3b3b"/><stop offset=".708" stop-color="#404040"/><stop offset=".75" stop-color="#424242"/><stop offset=".75" stop-color="#555555"/><stop offset=".833" stop-color="#595959"/><stop offset=".833" stop-color="#5d5d5d"/><stop offset=".875" stop-color="#5e5e5e"/><stop offset=".917" stop-color="#5c5c5c"/><stop offset=".917" stop-color="#505050"/><stop offset="1" stop-color="#4f4f4f"/></linearGradient><linearGradient id="l4_11"><stop offset="0" stop-color="#030303"/><stop offset=".083" stop-color="#030303"/><stop offset=".083" stop-color="#030303"/><stop offset=".167" stop-color="#030303"/><stop offset=".167" stop-color="#030303"/><stop offset=".25" stop-color="#030303"/><stop offset=".25" stop-color="#030303"/><stop offset=".333" stop-color="#030303"/><stop offset=".333" stop-color="#030303"/><stop offset=".417" stop-color="#030303"/><stop offset=".417" stop-color="#030303"/><stop offset=".5" stop-color="#040404"/><stop offset=".5" stop-color="#050505"/><stop offset=".583" stop-color="#090909"/><stop offset=".583" stop-color="#1c1c1c"/><stop offset=".667" stop-color="#222222"/><stop offset=".667" stop-color="#3d3d3d"/><stop offset=".708" stop-color="#404040"/><stop offset=".75" stop-color="#3f3f3f"/><stop offset=".75" stop-color="#4e4e4e"/><stop offset=".792" stop-color="#4d4d4d"/><stop offset=".833" stop-color="#555555"/><stop offset=".833" stop-color="#5c5c5c"/><stop offset=".875" stop-color="#5e5e5e"/><stop offset=".917" stop-color="#5d5d5d"/><stop offset=".917" stop-color="#515151"/><stop offset="1" stop-color="#4f4f4f"/></linearGradient><linearGradient id="l4_12"><stop offset="0" stop-color="#030303"/><stop offset=".083" stop-color="#030303"/><stop offset=".083" stop-color="#030303"/><stop offset=".167" stop-color="#030303"/><stop offset=".167" stop-color="#030303"/><stop offset=".25" stop-color="#030303"/><stop offset=".25" stop-color="#030303"/><stop offset=".333" stop-color="#030303"/><stop offset=".333" stop-color="#030303"/><stop offset=".417" stop-color="#030303"/><stop offset=".417" stop-color="#030303"/><stop offset=".5" stop-color="#050505"/><stop offset=".5" stop-color="#171717"/><stop offset=".583" stop-color="#1c1c1c"/><stop offset=".583" stop-color="#2b2b2b"/><stop offset=".667" stop-color="#313131"/><stop offset=".667" stop-color="#454545"/><stop offset=".708" stop-color="#484848"/><stop offset=".75" stop-color="#424242"/><stop offset=".75" stop-color="#3d3d3d"/><stop offset=".792" stop-color="#373737"/><stop offset=".833" stop-color="#494949"/><stop offset=".833" stop-color="#5e5e5e"/><stop offset=".875" stop-color="#626262"/><stop offset=".917" stop-color="#606060"/><stop offset=".917" stop-color="#555555"/><stop offset="1" stop-color="#535353"/></linearGradient><linearGradient id="l4_13"><stop offset="0" stop-color="#030303"/><stop offset=".083" stop-color="#030303"/><stop offset=".083" stop-color="#030303"/><stop offset=".167" stop-color="#030303"/><stop offset=".167" stop-color="#030303"/><stop offset=".25" stop-color="#030303"/><stop offset=".25" stop-color="#030303"/><stop offset=".333" stop-color="#030303"/><stop offset=".333" stop-color="#030303"/><stop offset=".417" stop-color="#030303"/><stop offset=".417" stop-color="#030303"/><stop offset=".458" stop-color="#030303"/><stop offset=".5" stop-color="#060606"/><stop offset=".5" stop-color="#191919"/><stop offset=".583" stop-color="#1f1f1f"/><stop offset=".583" stop-color="#2e2e2e"/><stop offset=".667" stop-color="#333333"/><stop offset=".667" stop-color="#474747"/><stop offset=".708" stop-color="#494949"/><stop offset=".75" stop-color="#404040"/><stop offset=".75" stop-color="#383838"/><stop offset=".792" stop-color="#2e2e2e"/><stop offset=".833" stop-color="#484848"/><stop offset=".833" stop-color="#5f5f5f"/><stop offset=".875" stop-color="#646464"/><stop offset=".917" stop-color="#616161"/><stop offset=".917" stop-color="#565656"/><stop offset="1" stop-color="#545454"/></linearGradient><linearGradient id="l4_14"><stop offset="0" stop-color="#030303"/><stop offset=".083" stop-color="#030303"/><stop offset=".083" stop-color="#030303"/><stop offset=".167" stop-color="#030303"/><stop offset=".167" stop-color="#030303"/><stop offset=".25" stop-color="#030303"/><stop offset=".25" stop-color="#030303"/><stop offset=".333" stop-color="#030303"/><stop offset=".333" stop-color="#030303"/><stop offset=".417" stop-color="#030303"/><stop offset=".417" stop-color="#030303"/><stop offset=".458" stop-color="#030303"/><stop offset=".5" stop-color="#060606"/><stop offset=".5" stop-color="#1a1a1a"/><stop offset=".583" stop-color="#1f1f1f"/><stop offset=".583" stop-color="#2f2f2f"/><stop offset=".667" stop-color="#343434"/><stop offset=".667" stop-color="#474747"/><stop offset=".75" stop-color="#4d4d4d"/><stop offset=".75" stop-color="#525252"/><stop offset=".833" stop-color="#626262"/><stop offset=".833" stop-color="#717171"/><stop offset=".875" stop-color="#6c6c6c"/><stop offset=".917" stop-color="#646464"/><stop offset=".917" stop-color="#575757"/><stop offset=".958" stop-color="#545454"/><stop offset="1" stop-color="#545454"/></linearGradient><linearGradient id="l4_15"><stop offset="0" stop-color="#030303"/><stop offset=".083" stop-color="#030303"/><stop offset=".083" stop-color="#030303"/><stop offset=".167" stop-color="#030303"/><stop offset=".167" stop-color="#030303"/><stop offset=".25" stop-color="#030303"/><stop offset=".25" stop-color="#030303"/><stop offset=".333" stop-color="#030303"/><stop offset=".333" stop-color="#030303"/><stop offset=".417" stop-color="#030303"/><stop offset=".417" stop-color="#030303"/><stop offset=".458" stop-color="#030303"/><stop offset=".5" stop-color="#060606"/><stop offset=".5" stop-color="#1d1d1d"/><stop offset=".542" stop-color="#212121"/><stop offset=".583" stop-color="#232323"/><stop offset=".583" stop-color="#323232"/><stop offset=".667" stop-color="#383838"/><stop offset=".667" stop-color="#4b4b4b"/><stop offset=".708" stop-color="#4f4f4f"/><stop offset=".75" stop-color="#565656"/><stop offset=".75" stop-color="#797979"/><stop offset=".792" stop-color="#8a8a8a"/><stop offset=".833" stop-color="#909090"/><stop offset=".833" stop-color="#8d8d8d"/><stop offset=".917" stop-color="#747474"/><stop offset=".917" stop-color="#5c5c5c"/><stop offset=".958" stop-color="#585858"/><stop offset="1" stop-color="#585858"/></linearGradient><linearGradient id="l4_16"><stop offset="0" stop-color="#030303"/><stop offset=".083" stop-color="#030303"/><stop offset=".083" stop-color="#030303"/><stop offset=".167" stop-color="#030303"/><stop offset=".167" stop-color="#030303"/><stop offset=".25" stop-color="#030303"/><stop offset=".25" stop-color="#030303"/><stop offset=".333" stop-color="#030303"/><stop offset=".333" stop-color="#030303"/><stop offset=".417" stop-color="#030303"/><stop offset=".417" stop-color="#030303"/><stop offset=".458" stop-color="#030303"/><stop offset=".5" stop-color="#070707"/><stop offset=".5" stop-color="#1e1e1e"/><stop offset=".583" stop-color="#242424"/><stop offset=".583" stop-color="#333333"/><stop offset=".667" stop-color="#383838"/><stop offset=".667" stop-color="#4c4c4c"/><stop offset=".708" stop-color="#505050"/><stop offset=".75" stop-color="#616161"/><stop offset=".75" stop-color="#8c8c8c"/><stop offset=".792" stop-color="#b0b0b0"/><stop offset=".833" stop-color="#b9b9b9"/><stop offset=".833" stop-color="#b1b1b1"/><stop offset=".875" stop-color="#929292"/><stop offset=".917" stop-color="#797979"/><stop offset=".917" stop-color="#5e5e5e"/><stop offset=".958" stop-color="#595959"/><stop offset="1" stop-color="#595959"/></linearGradient><linearGradient id="l4_17"><stop offset="0" stop-color="#030303"/><stop offset=".083" stop-color="#030303"/><stop offset=".083" stop-color="#030303"/><stop offset=".167" stop-color="#030303"/><stop offset=".167" stop-color="#030303"/><stop offset=".25" stop-color="#030303"/><stop offset=".25" stop-color="#030303"/><stop offset=".333" stop-color="#030303"/><stop offset=".333" stop-color="#030303"/><stop offset=".417" stop-color="#030303"/><stop offset=".417" stop-color="#030303"/><stop offset=".458" stop-color="#030303"/><stop offset=".5" stop-color="#070707"/><stop offset=".5" stop-color="#1e1e1e"/><stop offset=".583" stop-color="#242424"/><stop offset=".583" stop-color="#333333"/><stop offset=".667" stop-color="#383838"/><stop offset=".667" stop-color="#4c4c4c"/><stop offset=".708" stop-color="#515151"/><stop offset=".75" stop-color="#656565"/><stop offset=".75" stop-color="#969696"/><stop offset=".792" stop-color="#c4c4c4"/><stop offset=".833" stop-color="#d0d0d0"/><stop offset=".833" stop-color="#c6c6c6"/><stop offset=".875" stop-color="#9c9c9c"/><stop offset=".917" stop-color="#7b7b7b"/><stop offset=".917" stop-color="#5f5f5f"/><stop offset=".958" stop-color="#595959"/><stop offset="1" stop-color="#595959"/></linearGradient><linearGradient id="l4_18"><stop offset="0" stop-color="#030303"/><stop offset=".083" stop-color="#030303"/><stop offset=".083" stop-color="#030303"/><stop offset=".167" stop-color="#030303"/><stop offset=".167" stop-color="#030303"/><stop offset=".25" stop-color="#030303"/><stop offset=".25" stop-color="#030303"/><stop offset=".333" stop-color="#030303"/><stop offset=".333" stop-color="#030303"/><stop offset=".417" stop-color="#030303"/><stop offset=".417" stop-color="#030303"/><stop offset=".458" stop-color="#030303"/><stop offset=".5" stop-color="#070707"/><stop offset=".5" stop-color="#1e1e1e"/><stop offset=".583" stop-color="#242424"/><stop offset=".583" stop-color="#333333"/><stop offset=".667" stop-color="#383838"/><stop offset=".667" stop-color="#4c4c4c"/><stop offset=".708" stop-color="#515151"/><stop offset=".75" stop-color="#656565"/><stop offset=".75" stop-color="#969696"/><stop offset=".792" stop-color="#c4c4c4"/><stop offset=".833" stop-color="#d0d0d0"/><stop offset=".833" stop-color="#c6c6c6"/><stop offset=".875" stop-color="#9c9c9c"/><stop offset=".917" stop-color="#7b7b7b"/><stop offset=".917" stop-color="#5f5f5f"/><stop offset=".958" stop-color="#595959"/><stop offset="1" stop-color="#595959"/></linearGradient><linearGradient id="l4_19"><stop offset="0" stop-color="#030303"/><stop offset=".083" stop-color="#030303"/><stop offset=".083" stop-color="#030303"/><stop offset=".167" stop-color="#030303"/><stop offset=".167" stop-color="#030303"/><stop offset=".25" stop-color="#030303"/><stop offset=".25" stop-color="#030303"/><stop offset=".333" stop-color="#030303"/><stop offset=".333" stop-color="#030303"/><stop offset=".417" stop-color="#030303"/><stop offset=".417" stop-color="#030303"/><stop offset=".458" stop-color="#030303"/><stop offset=".5" stop-color="#070707"/><stop offset=".5" stop-color="#1e1e1e"/><stop offset=".583" stop-color="#242424"/><stop offset=".583" stop-color="#333333"/><stop offset=".667" stop-color="#383838"/><stop offset=".667" stop-color="#4c4c4c"/><stop offset=".708" stop-color="#505050"/><stop offset=".75" stop-color="#616161"/><stop offset=".75" stop-color="#8c8c8c"/><stop offset=".792" stop-color="#b0b0b0"/><stop offset=".833" stop-color="#b9b9b9"/><stop offset=".833" stop-color="#b1b1b1"/><stop offset=".875" stop-color="#929292"/><stop offset=".917" stop-color="#797979"/><stop offset=".917" stop-color="#5e5e5e"/><stop offset=".958" stop-color="#595959"/><stop offset="1" stop-color="#595959"/></linearGradient><linearGradient id="l4_20"><stop offset="0" stop-color="#030303"/><stop offset=".083" stop-color="#030303"/><stop offset=".083" stop-color="#030303"/><stop offset=".167" stop-color="#030303"/><stop offset=".167" stop-color="#030303"/><stop offset=".25" stop-color="#030303"/><stop offset=".25" stop-color="#030303"/><stop offset=".333" stop-color="#030303"/><stop offset=".333" stop-color="#030303"/><stop offset=".417" stop-color="#030303"/><stop offset=".417" stop-color="#030303"/><stop offset=".458" stop-color="#030303"/><stop offset=".5" stop-color="#060606"/><stop offset=".5" stop-color="#1d1d1d"/><stop offset=".542" stop-color="#212121"/><stop offset=".583" stop-color="#232323"/><stop offset=".583" stop-color="#323232"/><stop offset=".667" stop-color="#383838"/><stop offset=".667" stop-color="#4b4b4b"/><stop offset=".75" stop-color="#555555"/><stop offset=".75" stop-color="#777777"/><stop offset=".792" stop-color="#868686"/><stop offset=".833" stop-color="#8e8e8e"/><stop offset=".833" stop-color="#8d8d8d"/><stop offset=".917" stop-color="#747474"/><stop offset=".917" stop-color="#5c5c5c"/><stop offset=".958" stop-color="#585858"/><stop offset="1" stop-color="#585858"/></linearGradient><linearGradient id="l4_21"><stop offset="0" stop-color="#030303"/><stop offset=".083" stop-color="#030303"/><stop offset=".083" stop-color="#030303"/><stop offset=".167" stop-color="#030303"/><stop offset=".167" stop-color="#030303"/><stop offset=".25" stop-color="#030303"/><stop offset=".25" stop-color="#030303"/><stop offset=".333" stop-color="#030303"/><stop offset=".333" stop-color="#030303"/><stop offset=".417" stop-color="#030303"/><stop offset=".417" stop-color="#030303"/><stop offset=".458" stop-color="#030303"/><stop offset=".5" stop-color="#060606"/><stop offset=".5" stop-color="#1a1a1a"/><stop offset=".583" stop-color="#1f1f1f"/><stop offset=".583" stop-color="#2f2f2f"/><stop offset=".667" stop-color="#343434"/><stop offset=".667" stop-color="#474747"/><stop offset=".708" stop-color="#4a4a4a"/><stop offset=".75" stop-color="#4a4a4a"/><stop offset=".75" stop-color="#4c4c4c"/><stop offset=".792" stop-color="#505050"/><stop offset=".833" stop-color="#5f5f5f"/><stop offset=".833" stop-color="#707070"/><stop offset=".875" stop-color="#6c6c6c"/><stop offset=".917" stop-color="#646464"/><stop offset=".917" stop-color="#575757"/><stop offset=".958" stop-color="#545454"/><stop offset="1" stop-color="#545454"/></linearGradient><linearGradient id="l4_22"><stop offset="0" stop-color="#030303"/><stop offset=".083" stop-color="#030303"/><stop offset=".083" stop-color="#030303"/><stop offset=".167" stop-color="#030303"/><stop offset=".167" stop-color="#030303"/><stop offset=".25" stop-color="#030303"/><stop offset=".25" stop-color="#030303"/><stop offset=".333" stop-color="#030303"/><stop offset=".333" stop-color="#030303"/><stop offset=".417" stop-color="#030303"/><stop offset=".417" stop-color="#030303"/><stop offset=".458" stop-color="#030303"/><stop offset=".5" stop-color="#060606"/><stop offset=".5" stop-color="#191919"/><stop offset=".583" stop-color="#1f1f1f"/><stop offset=".583" stop-color="#2e2e2e"/><stop offset=".667" stop-color="#333333"/><stop offset=".667" stop-color="#474747"/><stop offset=".708" stop-color="#494949"/><stop offset=".75" stop-color="#3f3f3f"/><stop offset=".75" stop-color="#353535"/><stop offset=".792" stop-color="#2a2a2a"/><stop offset=".833" stop-color="#474747"/><stop offset=".833" stop-color="#5f5f5f"/><stop offset=".875" stop-color="#646464"/><stop offset=".917" stop-color="#616161"/><stop offset=".917" stop-color="#565656"/><stop offset="1" stop-color="#545454"/></linearGradient><linearGradient id="l4_23"><stop offset="0" stop-color="#030303"/><stop offset=".083" stop-color="#030303"/><stop offset=".083" stop-color="#030303"/><stop offset=".167" stop-color="#030303"/><stop offset=".167" stop-color="#030303"/><stop offset=".25" stop-color="#030303"/><stop offset=".25" stop-color="#030303"/><stop offset=".333" stop-color="#030303"/><stop offset=".333" stop-color="#030303"/><stop offset=".417" stop-color="#030303"/><stop offset=".417" stop-color="#030303"/><stop offset=".5" stop-color="#050505"/><stop offset=".5" stop-color="#171717"/><stop offset=".583" stop-color="#1c1c1c"/><stop offset=".583" stop-color="#2b2b2b"/><stop offset=".667" stop-color="#313131"/><stop offset=".667" stop-color="#454545"/><stop offset=".708" stop-color="#484848"/><stop offset=".75" stop-color="#464646"/><stop offset=".75" stop-color="#454545"/><stop offset=".792" stop-color="#424242"/><stop offset=".833" stop-color="#4d4d4d"/><stop offset=".833" stop-color="#5f5f5f"/><stop offset=".875" stop-color="#626262"/><stop offset=".917" stop-color="#606060"/><stop offset=".917" stop-color="#555555"/><stop offset="1" stop-color="#535353"/></linearGradient><linearGradient id="l4_24"><stop offset="0" stop-color="#030303"/><stop offset=".083" stop-color="#030303"/><stop offset=".083" stop-color="#030303"/><stop offset=".167" stop-color="#030303"/><stop offset=".167" stop-color="#030303"/><stop offset=".25" stop-color="#030303"/><stop offset=".25" stop-color="#030303"/><stop offset=".333" stop-color="#030303"/><stop offset=".333" stop-color="#030303"/><stop offset=".417" stop-color="#030303"/><stop offset=".417" stop-color="#030303"/><stop offset=".5" stop-color="#040404"/><stop offset=".5" stop-color="#050505"/><stop offset=".583" stop-color="#090909"/><stop offset=".583" stop-color="#1c1c1c"/><stop offset=".667" stop-color="#222222"/><stop offset=".667" stop-color="#3d3d3d"/><stop offset=".708" stop-color="#414141"/><stop offset=".75" stop-color="#414141"/><stop offset=".75" stop-color="#535353"/><stop offset=".792" stop-color="#535353"/><stop offset=".833" stop-color="#575757"/><stop offset=".833" stop-color="#5d5d5d"/><stop offset=".917" stop-color="#5d5d5d"/><stop offset=".917" stop-color="#515151"/><stop offset="1" stop-color="#4f4f4f"/></linearGradient><linearGradient id="l4_25"><stop offset="0" stop-color="#030303"/><stop offset=".083" stop-color="#030303"/><stop offset=".083" stop-color="#030303"/><stop offset=".167" stop-color="#030303"/><stop offset=".167" stop-color="#030303"/><stop offset=".25" stop-color="#030303"/><stop offset=".25" stop-color="#030303"/><stop offset=".333" stop-color="#030303"/><stop offset=".333" stop-color="#030303"/><stop offset=".417" stop-color="#030303"/><stop offset=".417" stop-color="#030303"/><stop offset=".5" stop-color="#030303"/><stop offset=".5" stop-color="#030303"/><stop offset=".542" stop-color="#030303"/><stop offset=".583" stop-color="#060606"/><stop offset=".583" stop-color="#191919"/><stop offset=".667" stop-color="#202020"/><stop offset=".667" stop-color="#3b3b3b"/><stop offset=".75" stop-color="#434343"/><stop offset=".75" stop-color="#565656"/><stop offset=".792" stop-color="#595959"/><stop offset=".833" stop-color="#595959"/><stop offset=".833" stop-color="#5d5d5d"/><stop offset=".875" stop-color="#5e5e5e"/><stop offset=".917" stop-color="#5c5c5c"/><stop offset=".917" stop-color="#505050"/><stop offset="1" stop-color="#4f4f4f"/></linearGradient><linearGradient id="l4_26"><stop offset="0" stop-color="#030303"/><stop offset=".083" stop-color="#030303"/><stop offset=".083" stop-color="#030303"/><stop offset=".167" stop-color="#030303"/><stop offset=".167" stop-color="#030303"/><stop offset=".25" stop-color="#030303"/><stop offset=".25" stop-color="#030303"/><stop offset=".333" stop-color="#030303"/><stop offset=".333" stop-color="#030303"/><stop offset=".417" stop-color="#030303"/><stop offset=".417" stop-color="#030303"/><stop offset=".5" stop-color="#030303"/><stop offset=".5" stop-color="#030303"/><stop offset=".583" stop-color="#050505"/><stop offset=".583" stop-color="#171717"/><stop offset=".667" stop-color="#1d1d1d"/><stop offset=".667" stop-color="#383838"/><stop offset=".708" stop-color="#3b3b3b"/><stop offset=".75" stop-color="#404040"/><stop offset=".75" stop-color="#535353"/><stop offset=".792" stop-color="#585858"/><stop offset=".833" stop-color="#595959"/><stop offset=".833" stop-color="#5d5d5d"/><stop offset=".875" stop-color="#5e5e5e"/><stop offset=".917" stop-color="#5a5a5a"/><stop offset=".917" stop-color="#4e4e4e"/><stop offset=".958" stop-color="#4a4a4a"/><stop offset="1" stop-color="#4a4a4a"/></linearGradient><linearGradient id="l4_27"><stop offset="0" stop-color="#030303"/><stop offset=".083" stop-color="#030303"/><stop offset=".083" stop-color="#030303"/><stop offset=".167" stop-color="#030303"/><stop offset=".167" stop-color="#030303"/><stop offset=".25" stop-color="#030303"/><stop offset=".25" stop-color="#030303"/><stop offset=".333" stop-color="#030303"/><stop offset=".333" stop-color="#030303"/><stop offset=".417" stop-color="#030303"/><stop offset=".417" stop-color="#030303"/><stop offset=".5" stop-color="#030303"/><stop offset=".5" stop-color="#030303"/><stop offset=".583" stop-color="#040404"/><stop offset=".583" stop-color="#050505"/><stop offset=".625" stop-color="#060606"/><stop offset=".667" stop-color="#0a0a0a"/><stop offset=".667" stop-color="#1d1d1d"/><stop offset=".708" stop-color="#202020"/><stop offset=".75" stop-color="#252525"/><stop offset=".75" stop-color="#4b4b4b"/><stop offset=".792" stop-color="#505050"/><stop offset=".833" stop-color="#515151"/><stop offset=".833" stop-color="#5c5c5c"/><stop offset=".875" stop-color="#5e5e5e"/><stop offset=".917" stop-color="#595959"/><stop offset=".917" stop-color="#323232"/><stop offset=".958" stop-color="#2d2d2d"/><stop offset="1" stop-color="#2d2d2d"/></linearGradient><linearGradient id="l4_28"><stop offset="0" stop-color="#030303"/><stop offset=".083" stop-color="#030303"/><stop offset=".083" stop-color="#030303"/><stop offset=".167" stop-color="#030303"/><stop offset=".167" stop-color="#030303"/><stop offset=".25" stop-color="#030303"/><stop offset=".25" stop-color="#030303"/><stop offset=".333" stop-color="#030303"/><stop offset=".333" stop-color="#030303"/><stop offset=".417" stop-color="#030303"/><stop offset=".417" stop-color="#030303"/><stop offset=".5" stop-color="#030303"/><stop offset=".5" stop-color="#030303"/><stop offset=".583" stop-color="#030303"/><stop offset=".583" stop-color="#030303"/><stop offset=".625" stop-color="#030303"/><stop offset=".667" stop-color="#060606"/><stop offset=".667" stop-color="#191919"/><stop offset=".708" stop-color="#1c1c1c"/><stop offset=".75" stop-color="#222222"/><stop offset=".75" stop-color="#494949"/><stop offset=".792" stop-color="#4f4f4f"/><stop offset=".833" stop-color="#505050"/><stop offset=".833" stop-color="#5c5c5c"/><stop offset=".875" stop-color="#5e5e5e"/><stop offset=".917" stop-color="#575757"/><stop offset=".917" stop-color="#2f2f2f"/><stop offset=".958" stop-color="#292929"/><stop offset="1" stop-color="#292929"/></linearGradient><linearGradient id="l4_29"><stop offset="0" stop-color="#030303"/><stop offset=".083" stop-color="#030303"/><stop offset=".083" stop-color="#030303"/><stop offset=".167" stop-color="#030303"/><stop offset=".167" stop-color="#030303"/><stop offset=".25" stop-color="#030303"/><stop offset=".25" stop-color="#030303"/><stop offset=".333" stop-color="#030303"/><stop offset=".333" stop-color="#030303"/><stop offset=".417" stop-color="#030303"/><stop offset=".417" stop-color="#030303"/><stop offset=".5" stop-color="#030303"/><stop offset=".5" stop-color="#030303"/><stop offset=".583" stop-color="#030303"/><stop offset=".583" stop-color="#030303"/><stop offset=".667" stop-color="#050505"/><stop offset=".667" stop-color="#171717"/><stop offset=".708" stop-color="#191919"/><stop offset=".75" stop-color="#1e1e1e"/><stop offset=".75" stop-color="#444444"/><stop offset=".792" stop-color="#494949"/><stop offset=".833" stop-color="#4b4b4b"/><stop offset=".833" stop-color="#565656"/><stop offset=".875" stop-color="#575757"/><stop offset=".917" stop-color="#535353"/><stop offset=".917" stop-color="#2b2b2b"/><stop offset=".958" stop-color="#272727"/><stop offset="1" stop-color="#272727"/></linearGradient><linearGradient id="l4_30"><stop offset="0" stop-color="#030303"/><stop offset=".083" stop-color="#030303"/><stop offset=".083" stop-color="#030303"/><stop offset=".167" stop-color="#030303"/><stop offset=".167" stop-color="#030303"/><stop offset=".25" stop-color="#030303"/><stop offset=".25" stop-color="#030303"/><stop offset=".333" stop-color="#030303"/><stop offset=".333" stop-color="#030303"/><stop offset=".417" stop-color="#030303"/><stop offset=".417" stop-color="#030303"/><stop offset=".5" stop-color="#030303"/><stop offset=".5" stop-color="#030303"/><stop offset=".583" stop-color="#030303"/><stop offset=".583" stop-color="#030303"/><stop offset=".667" stop-color="#040404"/><stop offset=".667" stop-color="#050505"/><stop offset=".708" stop-color="#060606"/><stop offset=".75" stop-color="#0b0b0b"/><stop offset=".75" stop-color="#222222"/><stop offset=".792" stop-color="#272727"/><stop offset=".833" stop-color="#282828"/><stop offset=".833" stop-color="#2e2e2e"/><stop offset=".875" stop-color="#2f2f2f"/><stop offset=".917" stop-color="#2b2b2b"/><stop offset=".917" stop-color="#1d1d1d"/><stop offset=".958" stop-color="#191919"/><stop offset="1" stop-color="#191919"/></linearGradient><linearGradient id="l4_31"><stop offset="0" stop-color="#030303"/><stop offset=".083" stop-color="#030303"/><stop offset=".083" stop-color="#030303"/><stop offset=".167" stop-color="#030303"/><stop offset=".167" stop-color="#030303"/><stop offset=".25" stop-color="#030303"/><stop offset=".25" stop-color="#030303"/><stop offset=".333" stop-color="#030303"/><stop offset=".333" stop-color="#030303"/><stop offset=".417" stop-color="#030303"/><stop offset=".417" stop-color="#030303"/><stop offset=".5" stop-color="#030303"/><stop offset=".5" stop-color="#030303"/><stop offset=".583" stop-color="#030303"/><stop offset=".583" stop-color="#030303"/><stop offset=".667" stop-color="#030303"/><stop offset=".667" stop-color="#030303"/><stop offset=".708" stop-color="#030303"/><stop offset=".75" stop-color="#070707"/><stop offset=".75" stop-color="#1e1e1e"/><stop offset=".792" stop-color="#212121"/><stop offset=".833" stop-color="#222222"/><stop offset=".833" stop-color="#282828"/><stop offset=".875" stop-color="#292929"/><stop offset=".917" stop-color="#272727"/><stop offset=".917" stop-color="#191919"/><stop offset="1" stop-color="#171717"/></linearGradient><linearGradient id="l4_32"><stop offset="0" stop-color="#030303"/><stop offset=".083" stop-color="#030303"/><stop offset=".083" stop-color="#030303"/><stop offset=".167" stop-color="#030303"/><stop offset=".167" stop-color="#030303"/><stop offset=".25" stop-color="#030303"/><stop offset=".25" stop-color="#030303"/><stop offset=".333" stop-color="#030303"/><stop offset=".333" stop-color="#030303"/><stop offset=".417" stop-color="#030303"/><stop offset=".417" stop-color="#030303"/><stop offset=".5" stop-color="#030303"/><stop offset=".5" stop-color="#030303"/><stop offset=".583" stop-color="#030303"/><stop offset=".583" stop-color="#030303"/><stop offset=".667" stop-color="#030303"/><stop offset=".667" stop-color="#030303"/><stop offset=".708" stop-color="#030303"/><stop offset=".75" stop-color="#060606"/><stop offset=".75" stop-color="#1c1c1c"/><stop offset=".792" stop-color="#1f1f1f"/><stop offset=".833" stop-color="#1f1f1f"/><stop offset=".833" stop-color="#252525"/><stop offset=".917" stop-color="#242424"/><stop offset=".917" stop-color="#171717"/><stop offset="1" stop-color="#151515"/></linearGradient><linearGradient id="l4_33"><stop offset="0" stop-color="#030303"/><stop offset=".083" stop-color="#030303"/><stop offset=".083" stop-color="#030303"/><stop offset=".167" stop-color="#030303"/><stop offset=".167" stop-color="#030303"/><stop offset=".25" stop-color="#030303"/><stop offset=".25" stop-color="#030303"/><stop offset=".333" stop-color="#030303"/><stop offset=".333" stop-color="#030303"/><stop offset=".417" stop-color="#030303"/><stop offset=".417" stop-color="#030303"/><stop offset=".5" stop-color="#030303"/><stop offset=".5" stop-color="#030303"/><stop offset=".583" stop-color="#030303"/><stop offset=".583" stop-color="#030303"/><stop offset=".667" stop-color="#030303"/><stop offset=".667" stop-color="#030303"/><stop offset=".708" stop-color="#030303"/><stop offset=".75" stop-color="#050505"/><stop offset=".75" stop-color="#0b0b0b"/><stop offset=".833" stop-color="#0e0e0e"/><stop offset=".833" stop-color="#0e0e0e"/><stop offset=".917" stop-color="#0d0d0d"/><stop offset=".917" stop-color="#0b0b0b"/><stop offset="1" stop-color="#0a0a0a"/></linearGradient><linearGradient id="l4_34"><stop offset="0" stop-color="#030303"/><stop offset=".083" stop-color="#030303"/><stop offset=".083" stop-color="#030303"/><stop offset=".167" stop-color="#030303"/><stop offset=".167" stop-color="#030303"/><stop offset=".25" stop-color="#030303"/><stop offset=".25" stop-color="#030303"/><stop offset=".333" stop-color="#030303"/><stop offset=".333" stop-color="#030303"/><stop offset=".417" stop-color="#030303"/><stop offset=".417" stop-color="#030303"/><stop offset=".5" stop-color="#030303"/><stop offset=".5" stop-color="#030303"/><stop offset=".583" stop-color="#030303"/><stop offset=".583" stop-color="#030303"/><stop offset=".667" stop-color="#030303"/><stop offset=".667" stop-color="#030303"/><stop offset=".75" stop-color="#040404"/><stop offset=".75" stop-color="#0a0a0a"/><stop offset=".833" stop-color="#0b0b0b"/><stop offset=".833" stop-color="#0b0b0b"/><stop offset=".917" stop-color="#0a0a0a"/><stop offset=".917" stop-color="#080808"/><stop offset="1" stop-color="#080808"/></linearGradient><linearGradient id="l4_35"><stop offset="0" stop-color="#030303"/><stop offset=".083" stop-color="#030303"/><stop offset=".083" stop-color="#030303"/><stop offset=".167" stop-color="#030303"/><stop offset=".167" stop-color="#030303"/><stop offset=".25" stop-color="#030303"/><stop offset=".25" stop-color="#030303"/><stop offset=".333" stop-color="#030303"/><stop offset=".333" stop-color="#030303"/><stop offset=".417" stop-color="#030303"/><stop offset=".417" stop-color="#030303"/><stop offset=".5" stop-color="#030303"/><stop offset=".5" stop-color="#030303"/><stop offset=".583" stop-color="#030303"/><stop offset=".583" stop-color="#030303"/><stop offset=".667" stop-color="#030303"/><stop offset=".667" stop-color="#030303"/><stop offset=".75" stop-color="#040404"/><stop offset=".75" stop-color="#0a0a0a"/><stop offset=".833" stop-color="#0b0b0b"/><stop offset=".833" stop-color="#0b0b0b"/><stop offset=".917" stop-color="#0a0a0a"/><stop offset=".917" stop-color="#080808"/><stop offset="1" stop-color="#080808"/></linearGradient><linearGradient id="r1_0"><stop offset="0" stop-color="#030303"/><stop offset=".75" stop-color="#040404"/><stop offset=".857" stop-color="#090909"/><stop offset="1" stop-color="#040404"/></linearGradient><linearGradient id="r1_1"><stop offset="0" stop-color="#030303"/><stop offset=".75" stop-color="#040404"/><stop offset=".821" stop-color="#080808"/><stop offset=".857" stop-color="#0c0c0c"/><stop offset=".964" stop-color="#060606"/><stop offset="1" stop-color="#050505"/></linearGradient><linearGradient id="r1_2"><stop offset="0" stop-color="#030303"/><stop offset=".714" stop-color="#040404"/><stop offset=".786" stop-color="#070707"/><stop offset=".857" stop-color="#0f0f0f"/><stop offset=".929" stop-color="#090909"/><stop offset="1" stop-color="#060606"/></linearGradient><linearGradient id="r1_3"><stop offset="0" stop-color="#030303"/><stop offset=".679" stop-color="#040404"/><stop offset=".75" stop-color="#060606"/><stop offset=".786" stop-color="#090909"/><stop offset=".857" stop-color="#151515"/><stop offset=".929" stop-color="#0c0c0c"/><stop offset="1" stop-color="#090909"/></linearGradient><linearGradient id="r1_4"><stop offset="0" stop-color="#030303"/><stop offset=".607" stop-color="#040404"/><stop offset=".75" stop-color="#0c0c0c"/><stop offset=".786" stop-color="#101010"/><stop offset=".857" stop-color="#232323"/><stop offset=".893" stop-color="#181818"/><stop offset=".929" stop-color="#131313"/><stop offset="1" stop-color="#0f0f0f"/></linearGradient><linearGradient id="r1_5"><stop offset="0" stop-color="#030303"/><stop offset=".571" stop-color="#040404"/><stop offset=".607" stop-color="#070707"/><stop offset=".679" stop-color="#131313"/><stop offset=".786" stop-color="#1f1f1f"/><stop offset=".857" stop-color="#3b3b3b"/><stop offset=".893" stop-color="#2a2a2a"/><stop offset=".929" stop-color="#232323"/><stop offset="1" stop-color="#1f1f1f"/></linearGradient><linearGradient id="r1_6"><stop offset="0" stop-color="#030303"/><stop offset=".536" stop-color="#030303"/><stop offset=".571" stop-color="#050505"/><stop offset=".607" stop-color="#0c0c0c"/><stop offset=".679" stop-color="#222222"/><stop offset=".714" stop-color="#2a2a2a"/><stop offset=".786" stop-color="#353535"/><stop offset=".857" stop-color="#585858"/><stop offset=".893" stop-color="#424242"/><stop offset=".929" stop-color="#393939"/><stop offset="1" stop-color="#343434"/></linearGradient><linearGradient id="r1_7"><stop offset="0" stop-color="#030303"/><stop offset=".536" stop-color="#030303"/><stop offset=".571" stop-color="#060606"/><stop offset=".607" stop-color="#101010"/><stop offset=".679" stop-color="#303030"/><stop offset=".714" stop-color="#3b3b3b"/><stop offset=".786" stop-color="#494949"/><stop offset=".857" stop-color="#6d6d6d"/><stop offset=".893" stop-color="#565656"/><stop offset=".929" stop-color="#4c4c4c"/><stop offset="1" stop-color="#474747"/></linearGradient><linearGradient id="r1_8"><stop offset="0" stop-color="#030303"/><stop offset=".536" stop-color="#030303"/><stop offset=".571" stop-color="#060606"/><stop offset=".607" stop-color="#121212"/><stop offset=".643" stop-color="#272727"/><stop offset=".679" stop-color="#393939"/><stop offset=".714" stop-color="#454545"/><stop offset=".786" stop-color="#545454"/><stop offset=".857" stop-color="#767676"/><stop offset=".893" stop-color="#626262"/><stop offset=".929" stop-color="#595959"/><stop offset="1" stop-color="#555555"/></linearGradient><linearGradient id="r1_9"><stop offset="0" stop-color="#030303"/><stop offset=".536" stop-color="#030303"/><stop offset=".571" stop-color="#070707"/><stop offset=".607" stop-color="#141414"/><stop offset=".643" stop-color="#2a2a2a"/><stop offset=".679" stop-color="#3c3c3c"/><stop offset=".714" stop-color="#3f3f3f"/><stop offset=".75" stop-color="#3d3d3d"/><stop offset=".786" stop-color="#4c4c4c"/><stop offset=".821" stop-color="#676767"/><stop offset=".857" stop-color="#767676"/><stop offset=".893" stop-color="#656565"/><stop offset=".929" stop-color="#5b5b5b"/><stop offset="1" stop-color="#5c5c5c"/></linearGradient><linearGradient id="r1_10"><stop offset="0" stop-color="#030303"/><stop offset=".536" stop-color="#040404"/><stop offset=".571" stop-color="#080808"/><stop offset=".607" stop-color="#161616"/><stop offset=".643" stop-color="#2d2d2d"/><stop offset=".679" stop-color="#3d3d3d"/><stop offset=".714" stop-color="#353535"/><stop offset=".75" stop-color="#2a2a2a"/><stop offset=".786" stop-color="#404040"/><stop offset=".821" stop-color="#696969"/><stop offset=".857" stop-color="#777777"/><stop offset=".893" stop-color="#626262"/><stop offset=".929" stop-color="#535353"/><stop offset=".964" stop-color="#565656"/><stop offset="1" stop-color="#5e5e5e"/></linearGradient><linearGradient id="r1_11"><stop offset="0" stop-color="#030303"/><stop offset=".5" stop-color="#040404"/><stop offset=".536" stop-color="#050505"/><stop offset=".571" stop-color="#0a0a0a"/><stop offset=".607" stop-color="#1a1a1a"/><stop offset=".643" stop-color="#303030"/><stop offset=".679" stop-color="#434343"/><stop offset=".714" stop-color="#464646"/><stop offset=".75" stop-color="#434343"/><stop offset=".786" stop-color="#555555"/><stop offset=".821" stop-color="#808080"/><stop offset=".857" stop-color="#888888"/><stop offset=".893" stop-color="#666666"/><stop offset=".929" stop-color="#585858"/><stop offset=".964" stop-color="#5a5a5a"/><stop offset="1" stop-color="#616161"/></linearGradient><linearGradient id="r1_12"><stop offset="0" stop-color="#030303"/><stop offset=".393" stop-color="#040404"/><stop offset=".5" stop-color="#070707"/><stop offset=".536" stop-color="#090909"/><stop offset=".571" stop-color="#0f0f0f"/><stop offset=".607" stop-color="#212121"/><stop offset=".679" stop-color="#4b4b4b"/><stop offset=".714" stop-color="#575757"/><stop offset=".75" stop-color="#5e5e5e"/><stop offset=".786" stop-color="#727272"/><stop offset=".821" stop-color="#a8a8a8"/><stop offset=".857" stop-color="#ababab"/><stop offset=".893" stop-color="#767676"/><stop offset=".929" stop-color="#656565"/><stop offset="1" stop-color="#646464"/></linearGradient><linearGradient id="r1_13"><stop offset="0" stop-color="#030303"/><stop offset=".321" stop-color="#040404"/><stop offset=".464" stop-color="#0a0a0a"/><stop offset=".536" stop-color="#121212"/><stop offset=".571" stop-color="#1b1b1b"/><stop offset=".607" stop-color="#2f2f2f"/><stop offset=".679" stop-color="#545454"/><stop offset=".75" stop-color="#6c6c6c"/><stop offset=".786" stop-color="#929292"/><stop offset=".821" stop-color="#d4d4d4"/><stop offset=".857" stop-color="#d4d4d4"/><stop offset=".893" stop-color="#939393"/><stop offset=".929" stop-color="#6f6f6f"/><stop offset=".964" stop-color="#676767"/><stop offset="1" stop-color="#666666"/></linearGradient><linearGradient id="r1_14"><stop offset="0" stop-color="#030303"/><stop offset=".25" stop-color="#050505"/><stop offset=".393" stop-color="#0c0c0c"/><stop offset=".464" stop-color="#141414"/><stop offset=".536" stop-color="#202020"/><stop offset=".571" stop-color="#2a2a2a"/><stop offset=".643" stop-color="#525252"/><stop offset=".679" stop-color="#626262"/><stop offset=".714" stop-color="#6d6d6d"/><stop offset=".75" stop-color="#868686"/><stop offset=".786" stop-color="#c0c0c0"/><stop offset=".821" stop-color="#f1f1f1"/><stop offset=".857" stop-color="#f1f1f1"/><stop offset=".893" stop-color="#bdbdbd"/><stop offset=".929" stop-color="#818181"/><stop offset=".964" stop-color="#6b6b6b"/><stop offset="1" stop-color="#676767"/></linearGradient><linearGradient id="r1_15"><stop offset="0" stop-color="#030303"/><stop offset=".321" stop-color="#040404"/><stop offset=".464" stop-color="#0a0a0a"/><stop offset=".536" stop-color="#121212"/><stop offset=".571" stop-color="#1b1b1b"/><stop offset=".607" stop-color="#2f2f2f"/><stop offset=".679" stop-color="#545454"/><stop offset=".714" stop-color="#606060"/><stop offset=".75" stop-color="#707070"/><stop offset=".786" stop-color="#9f9f9f"/><stop offset=".821" stop-color="#e0e0e0"/><stop offset=".857" stop-color="#e0e0e0"/><stop offset=".893" stop-color="#a1a1a1"/><stop offset=".929" stop-color="#737373"/><stop offset=".964" stop-color="#676767"/><stop offset="1" stop-color="#666666"/></linearGradient><linearGradient id="r1_16"><stop offset="0" stop-color="#030303"/><stop offset=".393" stop-color="#040404"/><stop offset=".5" stop-color="#070707"/><stop offset=".536" stop-color="#090909"/><stop offset=".571" stop-color="#0f0f0f"/><stop offset=".607" stop-color="#212121"/><stop offset=".679" stop-color="#4a4a4a"/><stop offset=".714" stop-color="#545454"/><stop offset=".75" stop-color="#5a5a5a"/><stop offset=".786" stop-color="#767676"/><stop offset=".821" stop-color="#b7b7b7"/><stop offset=".857" stop-color="#bababa"/><stop offset=".893" stop-color="#7d7d7d"/><stop offset=".929" stop-color="#636363"/><stop offset=".964" stop-color="#626262"/><stop offset="1" stop-color="#646464"/></linearGradient><linearGradient id="r1_17"><stop offset="0" stop-color="#030303"/><stop offset=".5" stop-color="#040404"/><stop offset=".536" stop-color="#050505"/><stop offset=".571" stop-color="#0a0a0a"/><stop offset=".607" stop-color="#1a1a1a"/><stop offset=".643" stop-color="#303030"/><stop offset=".679" stop-color="#414141"/><stop offset=".714" stop-color="#3f3f3f"/><stop offset=".75" stop-color="#383838"/><stop offset=".786" stop-color="#4f4f4f"/><stop offset=".821" stop-color="#898989"/><stop offset=".857" stop-color="#949494"/><stop offset=".893" stop-color="#686868"/><stop offset=".929" stop-color="#545454"/><stop offset=".964" stop-color="#585858"/><stop offset="1" stop-color="#616161"/></linearGradient><linearGradient id="r1_18"><stop offset="0" stop-color="#030303"/><stop offset=".536" stop-color="#040404"/><stop offset=".571" stop-color="#080808"/><stop offset=".607" stop-color="#161616"/><stop offset=".643" stop-color="#2d2d2d"/><stop offset=".679" stop-color="#3d3d3d"/><stop offset=".714" stop-color="#383838"/><stop offset=".75" stop-color="#2e2e2e"/><stop offset=".786" stop-color="#434343"/><stop offset=".821" stop-color="#707070"/><stop offset=".857" stop-color="#7f7f7f"/><stop offset=".893" stop-color="#656565"/><stop offset=".929" stop-color="#575757"/><stop offset=".964" stop-color="#595959"/><stop offset="1" stop-color="#5f5f5f"/></linearGradient><linearGradient id="r1_19"><stop offset="0" stop-color="#030303"/><stop offset=".536" stop-color="#030303"/><stop offset=".571" stop-color="#070707"/><stop offset=".607" stop-color="#141414"/><stop offset=".679" stop-color="#3e3e3e"/><stop offset=".714" stop-color="#454545"/><stop offset=".75" stop-color="#484848"/><stop offset=".786" stop-color="#535353"/><stop offset=".821" stop-color="#6b6b6b"/><stop offset=".857" stop-color="#7b7b7b"/><stop offset=".893" stop-color="#676767"/><stop offset=".929" stop-color="#5e5e5e"/><stop offset="1" stop-color="#5c5c5c"/></linearGradient><linearGradient id="r1_20"><stop offset="0" stop-color="#030303"/><stop offset=".536" stop-color="#030303"/><stop offset=".571" stop-color="#060606"/><stop offset=".607" stop-color="#121212"/><stop offset=".679" stop-color="#3a3a3a"/><stop offset=".714" stop-color="#464646"/><stop offset=".786" stop-color="#555555"/><stop offset=".857" stop-color="#797979"/><stop offset=".893" stop-color="#626262"/><stop offset=".929" stop-color="#5a5a5a"/><stop offset="1" stop-color="#555555"/></linearGradient><linearGradient id="r1_21"><stop offset="0" stop-color="#030303"/><stop offset=".536" stop-color="#030303"/><stop offset=".571" stop-color="#060606"/><stop offset=".607" stop-color="#101010"/><stop offset=".679" stop-color="#303030"/><stop offset=".714" stop-color="#3b3b3b"/><stop offset=".786" stop-color="#494949"/><stop offset=".857" stop-color="#6d6d6d"/><stop offset=".893" stop-color="#565656"/><stop offset=".929" stop-color="#4c4c4c"/><stop offset="1" stop-color="#484848"/></linearGradient><linearGradient id="r1_22"><stop offset="0" stop-color="#030303"/><stop offset=".536" stop-color="#030303"/><stop offset=".571" stop-color="#050505"/><stop offset=".607" stop-color="#0c0c0c"/><stop offset=".679" stop-color="#222222"/><stop offset=".714" stop-color="#2a2a2a"/><stop offset=".786" stop-color="#353535"/><stop offset=".857" stop-color="#555555"/><stop offset=".893" stop-color="#414141"/><stop offset=".929" stop-color="#393939"/><stop offset="1" stop-color="#343434"/></linearGradient><linearGradient id="r1_23"><stop offset="0" stop-color="#030303"/><stop offset=".571" stop-color="#040404"/><stop offset=".607" stop-color="#070707"/><stop offset=".679" stop-color="#131313"/><stop offset=".786" stop-color="#1f1f1f"/><stop offset=".857" stop-color="#383838"/><stop offset=".893" stop-color="#292929"/><stop offset=".929" stop-color="#232323"/><stop offset="1" stop-color="#1f1f1f"/></linearGradient><linearGradient id="r1_24"><stop offset="0" stop-color="#030303"/><stop offset=".607" stop-color="#040404"/><stop offset=".75" stop-color="#0c0c0c"/><stop offset=".786" stop-color="#101010"/><stop offset=".857" stop-color="#202020"/><stop offset=".893" stop-color="#181818"/><stop offset=".929" stop-color="#131313"/><stop offset="1" stop-color="#0f0f0f"/></linearGradient><linearGradient id="r1_25"><stop offset="0" stop-color="#030303"/><stop offset=".679" stop-color="#040404"/><stop offset=".75" stop-color="#060606"/><stop offset=".786" stop-color="#090909"/><stop offset=".857" stop-color="#141414"/><stop offset=".929" stop-color="#0c0c0c"/><stop offset="1" stop-color="#090909"/></linearGradient><linearGradient id="r1_26"><stop offset="0" stop-color="#030303"/><stop offset=".714" stop-color="#040404"/><stop offset=".786" stop-color="#070707"/><stop offset=".857" stop-color="#0f0f0f"/><stop offset=".929" stop-color="#090909"/><stop offset="1" stop-color="#060606"/></linearGradient><linearGradient id="r1_27"><stop offset="0" stop-color="#030303"/><stop offset=".75" stop-color="#040404"/><stop offset=".821" stop-color="#080808"/><stop offset=".857" stop-color="#0c0c0c"/><stop offset=".964" stop-color="#060606"/><stop offset="1" stop-color="#050505"/></linearGradient><linearGradient id="r1_28"><stop offset="0" stop-color="#030303"/><stop offset=".75" stop-color="#040404"/><stop offset=".857" stop-color="#090909"/><stop offset="1" stop-color="#040404"/></linearGradient><linearGradient id="r2_0"><stop offset="0" stop-color="#030303"/><stop offset=".643" stop-color="#040404"/><stop offset=".75" stop-color="#080808"/><stop offset=".821" stop-color="#0e0e0e"/><stop offset=".964" stop-color="#070707"/><stop offset="1" stop-color="#060606"/></linearGradient><linearGradient id="r2_1"><stop offset="0" stop-color="#030303"/><stop offset=".607" stop-color="#040404"/><stop offset=".714" stop-color="#080808"/><stop offset=".821" stop-color="#131313"/><stop offset=".964" stop-color="#090909"/><stop offset="1" stop-color="#070707"/></linearGradient><linearGradient id="r2_2"><stop offset="0" stop-color="#030303"/><stop offset=".571" stop-color="#040404"/><stop offset=".679" stop-color="#080808"/><stop offset=".75" stop-color="#101010"/><stop offset=".821" stop-color="#191919"/><stop offset=".929" stop-color="#0e0e0e"/><stop offset="1" stop-color="#0a0a0a"/></linearGradient><linearGradient id="r2_3"><stop offset="0" stop-color="#030303"/><stop offset=".536" stop-color="#040404"/><stop offset=".643" stop-color="#080808"/><stop offset=".714" stop-color="#0f0f0f"/><stop offset=".786" stop-color="#1e1e1e"/><stop offset=".821" stop-color="#232323"/><stop offset=".893" stop-color="#1a1a1a"/><stop offset=".929" stop-color="#131313"/><stop offset="1" stop-color="#0d0d0d"/></linearGradient><linearGradient id="r2_4"><stop offset="0" stop-color="#030303"/><stop offset=".536" stop-color="#040404"/><stop offset=".643" stop-color="#0b0b0b"/><stop offset=".714" stop-color="#151515"/><stop offset=".75" stop-color="#232323"/><stop offset=".786" stop-color="#2d2d2d"/><stop offset=".821" stop-color="#333333"/><stop offset=".857" stop-color="#2e2e2e"/><stop offset=".893" stop-color="#262626"/><stop offset=".929" stop-color="#1a1a1a"/><stop offset="1" stop-color="#111111"/></linearGradient><linearGradient id="r2_5"><stop offset="0" stop-color="#030303"/><stop offset=".5" stop-color="#040404"/><stop offset=".607" stop-color="#0a0a0a"/><stop offset=".643" stop-color="#0e0e0e"/><stop offset=".679" stop-color="#141414"/><stop offset=".714" stop-color="#1d1d1d"/><stop offset=".75" stop-color="#343434"/><stop offset=".786" stop-color="#474747"/><stop offset=".821" stop-color="#505050"/><stop offset=".857" stop-color="#494949"/><stop offset=".893" stop-color="#393939"/><stop offset=".929" stop-color="#242424"/><stop offset=".964" stop-color="#1b1b1b"/><stop offset="1" stop-color="#161616"/></linearGradient><linearGradient id="r2_6"><stop offset="0" stop-color="#030303"/><stop offset=".464" stop-color="#040404"/><stop offset=".571" stop-color="#0a0a0a"/><stop offset=".643" stop-color="#131313"/><stop offset=".679" stop-color="#1b1b1b"/><stop offset=".714" stop-color="#282828"/><stop offset=".75" stop-color="#494949"/><stop offset=".786" stop-color="#666666"/><stop offset=".821" stop-color="#757575"/><stop offset=".857" stop-color="#6b6b6b"/><stop offset=".893" stop-color="#515151"/><stop offset=".929" stop-color="#303030"/><stop offset=".964" stop-color="#232323"/><stop offset="1" stop-color="#1d1d1d"/></linearGradient><linearGradient id="r2_7"><stop offset="0" stop-color="#030303"/><stop offset=".429" stop-color="#040404"/><stop offset=".5" stop-color="#070707"/><stop offset=".607" stop-color="#121212"/><stop offset=".643" stop-color="#191919"/><stop offset=".679" stop-color="#232323"/><stop offset=".714" stop-color="#323232"/><stop offset=".75" stop-color="#575757"/><stop offset=".786" stop-color="#767676"/><stop offset=".821" stop-color="#868686"/><stop offset=".857" stop-color="#7b7b7b"/><stop offset=".893" stop-color="#5f5f5f"/><stop offset=".929" stop-color="#3b3b3b"/><stop offset=".964" stop-color="#2c2c2c"/><stop offset="1" stop-color="#232323"/></linearGradient><linearGradient id="r2_8"><stop offset="0" stop-color="#030303"/><stop offset=".393" stop-color="#040404"/><stop offset=".5" stop-color="#0a0a0a"/><stop offset=".571" stop-color="#121212"/><stop offset=".643" stop-color="#202020"/><stop offset=".714" stop-color="#3c3c3c"/><stop offset=".75" stop-color="#585858"/><stop offset=".786" stop-color="#666666"/><stop offset=".821" stop-color="#6b6b6b"/><stop offset=".857" stop-color="#6a6a6a"/><stop offset=".893" stop-color="#5f5f5f"/><stop offset=".929" stop-color="#444444"/><stop offset=".964" stop-color="#363636"/><stop offset="1" stop-color="#2b2b2b"/></linearGradient><linearGradient id="r2_9"><stop offset="0" stop-color="#030303"/><stop offset=".357" stop-color="#040404"/><stop offset=".464" stop-color="#090909"/><stop offset=".571" stop-color="#181818"/><stop offset=".607" stop-color="#1f1f1f"/><stop offset=".643" stop-color="#292929"/><stop offset=".679" stop-color="#3a3a3a"/><stop offset=".75" stop-color="#545454"/><stop offset=".786" stop-color="#3d3d3d"/><stop offset=".821" stop-color="#2e2e2e"/><stop offset=".857" stop-color="#454545"/><stop offset=".893" stop-color="#5a5a5a"/><stop offset=".964" stop-color="#444444"/><stop offset="1" stop-color="#353535"/></linearGradient><linearGradient id="r2_10"><stop offset="0" stop-color="#030303"/><stop offset=".321" stop-color="#040404"/><stop offset=".429" stop-color="#090909"/><stop offset=".5" stop-color="#121212"/><stop offset=".607" stop-color="#272727"/><stop offset=".643" stop-color="#333333"/><stop offset=".679" stop-color="#474747"/><stop offset=".714" stop-color="#565656"/><stop offset=".75" stop-color="#5f5f5f"/><stop offset=".786" stop-color="#454545"/><stop offset=".821" stop-color="#353535"/><stop offset=".857" stop-color="#494949"/><stop offset=".893" stop-color="#636363"/><stop offset=".929" stop-color="#5f5f5f"/><stop offset=".964" stop-color="#535353"/><stop offset="1" stop-color="#3f3f3f"/></linearGradient><linearGradient id="r2_11"><stop offset="0" stop-color="#030303"/><stop offset=".286" stop-color="#040404"/><stop offset=".393" stop-color="#090909"/><stop offset=".464" stop-color="#121212"/><stop offset=".571" stop-color="#2b2b2b"/><stop offset=".607" stop-color="#313131"/><stop offset=".643" stop-color="#3b3b3b"/><stop offset=".714" stop-color="#5e5e5e"/><stop offset=".75" stop-color="#787878"/><stop offset=".786" stop-color="#777777"/><stop offset=".821" stop-color="#727272"/><stop offset=".893" stop-color="#787878"/><stop offset=".929" stop-color="#666666"/><stop offset=".964" stop-color="#5d5d5d"/><stop offset="1" stop-color="#4a4a4a"/></linearGradient><linearGradient id="r2_12"><stop offset="0" stop-color="#030303"/><stop offset=".25" stop-color="#040404"/><stop offset=".321" stop-color="#060606"/><stop offset=".393" stop-color="#0c0c0c"/><stop offset=".429" stop-color="#111111"/><stop offset=".464" stop-color="#191919"/><stop offset=".536" stop-color="#313131"/><stop offset=".571" stop-color="#3a3a3a"/><stop offset=".643" stop-color="#3f3f3f"/><stop offset=".679" stop-color="#454545"/><stop offset=".714" stop-color="#595959"/><stop offset=".75" stop-color="#8c8c8c"/><stop offset=".786" stop-color="#aaaaaa"/><stop offset=".821" stop-color="#afafaf"/><stop offset=".857" stop-color="#a8a8a8"/><stop offset=".893" stop-color="#8b8b8b"/><stop offset=".929" stop-color="#616161"/><stop offset=".964" stop-color="#606060"/><stop offset="1" stop-color="#545454"/></linearGradient><linearGradient id="r2_13"><stop offset="0" stop-color="#030303"/><stop offset=".214" stop-color="#040404"/><stop offset=".286" stop-color="#060606"/><stop offset=".393" stop-color="#101010"/><stop offset=".429" stop-color="#161616"/><stop offset=".464" stop-color="#202020"/><stop offset=".5" stop-color="#2e2e2e"/><stop offset=".536" stop-color="#3f3f3f"/><stop offset=".571" stop-color="#494949"/><stop offset=".607" stop-color="#494949"/><stop offset=".679" stop-color="#282828"/><stop offset=".714" stop-color="#4b4b4b"/><stop offset=".75" stop-color="#979797"/><stop offset=".786" stop-color="#d2d2d2"/><stop offset=".821" stop-color="#e0e0e0"/><stop offset=".857" stop-color="#d0d0d0"/><stop offset=".929" stop-color="#5a5a5a"/><stop offset=".964" stop-color="#616161"/><stop offset="1" stop-color="#5e5e5e"/></linearGradient><linearGradient id="r2_14"><stop offset="0" stop-color="#030303"/><stop offset=".214" stop-color="#040404"/><stop offset=".321" stop-color="#0a0a0a"/><stop offset=".393" stop-color="#131313"/><stop offset=".429" stop-color="#1a1a1a"/><stop offset=".464" stop-color="#242424"/><stop offset=".536" stop-color="#454545"/><stop offset=".571" stop-color="#505050"/><stop offset=".607" stop-color="#4e4e4e"/><stop offset=".643" stop-color="#363636"/><stop offset=".679" stop-color="#191919"/><stop offset=".714" stop-color="#454545"/><stop offset=".75" stop-color="#989898"/><stop offset=".786" stop-color="#dbdbdb"/><stop offset=".821" stop-color="#ececec"/><stop offset=".857" stop-color="#d9d9d9"/><stop offset=".929" stop-color="#575757"/><stop offset=".964" stop-color="#616161"/><stop offset="1" stop-color="#616161"/></linearGradient><linearGradient id="r2_15"><stop offset="0" stop-color="#030303"/><stop offset=".25" stop-color="#040404"/><stop offset=".357" stop-color="#0b0b0b"/><stop offset=".429" stop-color="#141414"/><stop offset=".464" stop-color="#1d1d1d"/><stop offset=".536" stop-color="#3a3a3a"/><stop offset=".571" stop-color="#444444"/><stop offset=".607" stop-color="#454545"/><stop offset=".679" stop-color="#343434"/><stop offset=".714" stop-color="#515151"/><stop offset=".75" stop-color="#979797"/><stop offset=".786" stop-color="#cfcfcf"/><stop offset=".821" stop-color="#dcdcdc"/><stop offset=".857" stop-color="#cccccc"/><stop offset=".893" stop-color="#969696"/><stop offset=".929" stop-color="#5d5d5d"/><stop offset=".964" stop-color="#616161"/><stop offset="1" stop-color="#5b5b5b"/></linearGradient><linearGradient id="r2_16"><stop offset="0" stop-color="#030303"/><stop offset=".25" stop-color="#040404"/><stop offset=".357" stop-color="#080808"/><stop offset=".429" stop-color="#0f0f0f"/><stop offset=".464" stop-color="#161616"/><stop offset=".536" stop-color="#2c2c2c"/><stop offset=".571" stop-color="#343434"/><stop offset=".643" stop-color="#3e3e3e"/><stop offset=".679" stop-color="#4a4a4a"/><stop offset=".714" stop-color="#5d5d5d"/><stop offset=".75" stop-color="#8b8b8b"/><stop offset=".786" stop-color="#a4a4a4"/><stop offset=".821" stop-color="#a6a6a6"/><stop offset=".857" stop-color="#a1a1a1"/><stop offset=".893" stop-color="#8a8a8a"/><stop offset=".929" stop-color="#646464"/><stop offset=".964" stop-color="#606060"/><stop offset="1" stop-color="#515151"/></linearGradient><linearGradient id="r2_17"><stop offset="0" stop-color="#030303"/><stop offset=".286" stop-color="#040404"/><stop offset=".393" stop-color="#080808"/><stop offset=".464" stop-color="#101010"/><stop offset=".607" stop-color="#2d2d2d"/><stop offset=".643" stop-color="#383838"/><stop offset=".679" stop-color="#4c4c4c"/><stop offset=".714" stop-color="#5d5d5d"/><stop offset=".75" stop-color="#727272"/><stop offset=".821" stop-color="#646464"/><stop offset=".893" stop-color="#747474"/><stop offset=".929" stop-color="#656565"/><stop offset=".964" stop-color="#5a5a5a"/><stop offset="1" stop-color="#464646"/></linearGradient><linearGradient id="r2_18"><stop offset="0" stop-color="#030303"/><stop offset=".321" stop-color="#040404"/><stop offset=".429" stop-color="#080808"/><stop offset=".5" stop-color="#101010"/><stop offset=".571" stop-color="#1c1c1c"/><stop offset=".607" stop-color="#242424"/><stop offset=".643" stop-color="#303030"/><stop offset=".714" stop-color="#525252"/><stop offset=".75" stop-color="#595959"/><stop offset=".786" stop-color="#3b3b3b"/><stop offset=".821" stop-color="#282828"/><stop offset=".857" stop-color="#414141"/><stop offset=".893" stop-color="#5e5e5e"/><stop offset=".929" stop-color="#5a5a5a"/><stop offset=".964" stop-color="#4e4e4e"/><stop offset="1" stop-color="#3c3c3c"/></linearGradient><linearGradient id="r2_19"><stop offset="0" stop-color="#030303"/><stop offset=".357" stop-color="#040404"/><stop offset=".429" stop-color="#060606"/><stop offset=".536" stop-color="#101010"/><stop offset=".607" stop-color="#1c1c1c"/><stop offset=".643" stop-color="#262626"/><stop offset=".714" stop-color="#434343"/><stop offset=".75" stop-color="#555555"/><stop offset=".786" stop-color="#4a4a4a"/><stop offset=".821" stop-color="#424242"/><stop offset=".857" stop-color="#515151"/><stop offset=".893" stop-color="#5b5b5b"/><stop offset=".929" stop-color="#4b4b4b"/><stop offset="1" stop-color="#313131"/></linearGradient><linearGradient id="r2_20"><stop offset="0" stop-color="#030303"/><stop offset=".393" stop-color="#040404"/><stop offset=".464" stop-color="#060606"/><stop offset=".571" stop-color="#101010"/><stop offset=".643" stop-color="#1e1e1e"/><stop offset=".679" stop-color="#292929"/><stop offset=".714" stop-color="#383838"/><stop offset=".75" stop-color="#595959"/><stop offset=".786" stop-color="#6f6f6f"/><stop offset=".821" stop-color="#7a7a7a"/><stop offset=".857" stop-color="#747474"/><stop offset=".893" stop-color="#606060"/><stop offset=".929" stop-color="#414141"/><stop offset=".964" stop-color="#323232"/><stop offset="1" stop-color="#282828"/></linearGradient><linearGradient id="r2_21"><stop offset="0" stop-color="#030303"/><stop offset=".429" stop-color="#040404"/><stop offset=".536" stop-color="#090909"/><stop offset=".607" stop-color="#111111"/><stop offset=".643" stop-color="#171717"/><stop offset=".679" stop-color="#202020"/><stop offset=".714" stop-color="#2f2f2f"/><stop offset=".75" stop-color="#545454"/><stop offset=".786" stop-color="#747474"/><stop offset=".821" stop-color="#848484"/><stop offset=".857" stop-color="#797979"/><stop offset=".893" stop-color="#5c5c5c"/><stop offset=".929" stop-color="#373737"/><stop offset=".964" stop-color="#292929"/><stop offset="1" stop-color="#212121"/></linearGradient><linearGradient id="r2_22"><stop offset="0" stop-color="#030303"/><stop offset=".464" stop-color="#040404"/><stop offset=".571" stop-color="#090909"/><stop offset=".643" stop-color="#111111"/><stop offset=".679" stop-color="#181818"/><stop offset=".714" stop-color="#242424"/><stop offset=".75" stop-color="#424242"/><stop offset=".786" stop-color="#5c5c5c"/><stop offset=".821" stop-color="#696969"/><stop offset=".857" stop-color="#606060"/><stop offset=".893" stop-color="#494949"/><stop offset=".929" stop-color="#2c2c2c"/><stop offset=".964" stop-color="#202020"/><stop offset="1" stop-color="#1a1a1a"/></linearGradient><linearGradient id="r2_23"><stop offset="0" stop-color="#030303"/><stop offset=".5" stop-color="#040404"/><stop offset=".607" stop-color="#090909"/><stop offset=".679" stop-color="#121212"/><stop offset=".714" stop-color="#1a1a1a"/><stop offset=".75" stop-color="#2d2d2d"/><stop offset=".786" stop-color="#3d3d3d"/><stop offset=".821" stop-color="#454545"/><stop offset=".857" stop-color="#3e3e3e"/><stop offset=".893" stop-color="#323232"/><stop offset=".929" stop-color="#202020"/><stop offset=".964" stop-color="#191919"/><stop offset="1" stop-color="#151515"/></linearGradient><linearGradient id="r2_24"><stop offset="0" stop-color="#030303"/><stop offset=".536" stop-color="#040404"/><stop offset=".643" stop-color="#0a0a0a"/><stop offset=".679" stop-color="#0d0d0d"/><stop offset=".714" stop-color="#131313"/><stop offset=".786" stop-color="#272727"/><stop offset=".821" stop-color="#2c2c2c"/><stop offset=".857" stop-color="#282828"/><stop offset=".893" stop-color="#212121"/><stop offset=".929" stop-color="#171717"/><stop offset="1" stop-color="#101010"/></linearGradient><linearGradient id="r2_25"><stop offset="0" stop-color="#030303"/><stop offset=".571" stop-color="#040404"/><stop offset=".643" stop-color="#070707"/><stop offset=".714" stop-color="#0e0e0e"/><stop offset=".821" stop-color="#1f1f1f"/><stop offset=".893" stop-color="#171717"/><stop offset=".929" stop-color="#111111"/><stop offset="1" stop-color="#0c0c0c"/></linearGradient><linearGradient id="r2_26"><stop offset="0" stop-color="#030303"/><stop offset=".607" stop-color="#040404"/><stop offset=".679" stop-color="#070707"/><stop offset=".821" stop-color="#171717"/><stop offset=".929" stop-color="#0d0d0d"/><stop offset="1" stop-color="#090909"/></linearGradient><linearGradient id="r2_27"><stop offset="0" stop-color="#030303"/><stop offset=".643" stop-color="#040404"/><stop offset=".75" stop-color="#0a0a0a"/><stop offset=".821" stop-color="#111111"/><stop offset=".964" stop-color="#080808"/><stop offset="1" stop-color="#070707"/></linearGradient><linearGradient id="r2_28"><stop offset="0" stop-color="#030303"/><stop offset=".679" stop-color="#040404"/><stop offset=".821" stop-color="#0d0d0d"/><stop offset=".964" stop-color="#060606"/><stop offset="1" stop-color="#050505"/></linearGradient><linearGradient id="r5_0"><stop offset="0" stop-color="#030303"/><stop offset=".643" stop-color="#040404"/><stop offset=".75" stop-color="#080808"/><stop offset=".821" stop-color="#0e0e0e"/><stop offset=".964" stop-color="#070707"/><stop offset="1" stop-color="#060606"/></linearGradient><linearGradient id="r5_1"><stop offset="0" stop-color="#030303"/><stop offset=".607" stop-color="#040404"/><stop offset=".714" stop-color="#080808"/><stop offset=".821" stop-color="#131313"/><stop offset=".964" stop-color="#090909"/><stop offset="1" stop-color="#070707"/></linearGradient><linearGradient id="r5_2"><stop offset="0" stop-color="#030303"/><stop offset=".571" stop-color="#040404"/><stop offset=".679" stop-color="#080808"/><stop offset=".821" stop-color="#181818"/><stop offset=".964" stop-color="#0c0c0c"/><stop offset="1" stop-color="#0a0a0a"/></linearGradient><linearGradient id="r5_3"><stop offset="0" stop-color="#030303"/><stop offset=".536" stop-color="#040404"/><stop offset=".643" stop-color="#080808"/><stop offset=".75" stop-color="#141414"/><stop offset=".786" stop-color="#1b1b1b"/><stop offset=".821" stop-color="#1f1f1f"/><stop offset=".964" stop-color="#101010"/><stop offset="1" stop-color="#0d0d0d"/></linearGradient><linearGradient id="r5_4"><stop offset="0" stop-color="#030303"/><stop offset=".536" stop-color="#040404"/><stop offset=".643" stop-color="#0b0b0b"/><stop offset=".714" stop-color="#151515"/><stop offset=".75" stop-color="#1c1c1c"/><stop offset=".786" stop-color="#262626"/><stop offset=".821" stop-color="#2c2c2c"/><stop offset=".964" stop-color="#151515"/><stop offset="1" stop-color="#111111"/></linearGradient><linearGradient id="r5_5"><stop offset="0" stop-color="#030303"/><stop offset=".5" stop-color="#040404"/><stop offset=".607" stop-color="#0a0a0a"/><stop offset=".643" stop-color="#0e0e0e"/><stop offset=".679" stop-color="#141414"/><stop offset=".714" stop-color="#1d1d1d"/><stop offset=".786" stop-color="#3d3d3d"/><stop offset=".821" stop-color="#484848"/><stop offset=".857" stop-color="#404040"/><stop offset=".929" stop-color="#242424"/><stop offset="1" stop-color="#161616"/></linearGradient><linearGradient id="r5_6"><stop offset="0" stop-color="#030303"/><stop offset=".464" stop-color="#040404"/><stop offset=".571" stop-color="#0a0a0a"/><stop offset=".643" stop-color="#131313"/><stop offset=".679" stop-color="#1c1c1c"/><stop offset=".714" stop-color="#2a2a2a"/><stop offset=".75" stop-color="#424242"/><stop offset=".786" stop-color="#5f5f5f"/><stop offset=".821" stop-color="#6f6f6f"/><stop offset=".857" stop-color="#636363"/><stop offset=".893" stop-color="#484848"/><stop offset=".929" stop-color="#313131"/><stop offset=".964" stop-color="#242424"/><stop offset="1" stop-color="#1d1d1d"/></linearGradient><linearGradient id="r5_7"><stop offset="0" stop-color="#030303"/><stop offset=".429" stop-color="#040404"/><stop offset=".5" stop-color="#070707"/><stop offset=".571" stop-color="#0d0d0d"/><stop offset=".643" stop-color="#191919"/><stop offset=".679" stop-color="#252525"/><stop offset=".714" stop-color="#393939"/><stop offset=".786" stop-color="#737373"/><stop offset=".821" stop-color="#818181"/><stop offset=".857" stop-color="#727272"/><stop offset=".893" stop-color="#565656"/><stop offset=".929" stop-color="#3d3d3d"/><stop offset=".964" stop-color="#2d2d2d"/><stop offset="1" stop-color="#242424"/></linearGradient><linearGradient id="r5_8"><stop offset="0" stop-color="#030303"/><stop offset=".393" stop-color="#040404"/><stop offset=".5" stop-color="#0a0a0a"/><stop offset=".607" stop-color="#161616"/><stop offset=".643" stop-color="#1d1d1d"/><stop offset=".679" stop-color="#2f2f2f"/><stop offset=".714" stop-color="#474747"/><stop offset=".75" stop-color="#5c5c5c"/><stop offset=".786" stop-color="#656565"/><stop offset=".821" stop-color="#676767"/><stop offset=".857" stop-color="#5f5f5f"/><stop offset=".929" stop-color="#464646"/><stop offset="1" stop-color="#2c2c2c"/></linearGradient><linearGradient id="r5_9"><stop offset="0" stop-color="#030303"/><stop offset=".357" stop-color="#040404"/><stop offset=".464" stop-color="#0a0a0a"/><stop offset=".571" stop-color="#161616"/><stop offset=".607" stop-color="#171717"/><stop offset=".643" stop-color="#1f1f1f"/><stop offset=".714" stop-color="#515151"/><stop offset=".75" stop-color="#525252"/><stop offset=".786" stop-color="#393939"/><stop offset=".821" stop-color="#292929"/><stop offset=".857" stop-color="#383838"/><stop offset=".893" stop-color="#4d4d4d"/><stop offset=".929" stop-color="#535353"/><stop offset=".964" stop-color="#474747"/><stop offset="1" stop-color="#363636"/></linearGradient><linearGradient id="r5_10"><stop offset="0" stop-color="#030303"/><stop offset=".321" stop-color="#040404"/><stop offset=".429" stop-color="#090909"/><stop offset=".464" stop-color="#0d0d0d"/><stop offset=".571" stop-color="#1e1e1e"/><stop offset=".607" stop-color="#1e1e1e"/><stop offset=".643" stop-color="#272727"/><stop offset=".679" stop-color="#454545"/><stop offset=".714" stop-color="#5d5d5d"/><stop offset=".75" stop-color="#535353"/><stop offset=".786" stop-color="#2d2d2d"/><stop offset=".821" stop-color="#181818"/><stop offset=".857" stop-color="#2f2f2f"/><stop offset=".893" stop-color="#525252"/><stop offset=".929" stop-color="#626262"/><stop offset=".964" stop-color="#575757"/><stop offset="1" stop-color="#414141"/></linearGradient><linearGradient id="r5_11"><stop offset="0" stop-color="#030303"/><stop offset=".286" stop-color="#040404"/><stop offset=".393" stop-color="#090909"/><stop offset=".464" stop-color="#121212"/><stop offset=".536" stop-color="#242424"/><stop offset=".571" stop-color="#2b2b2b"/><stop offset=".607" stop-color="#2e2e2e"/><stop offset=".643" stop-color="#373737"/><stop offset=".679" stop-color="#505050"/><stop offset=".714" stop-color="#656565"/><stop offset=".75" stop-color="#626262"/><stop offset=".786" stop-color="#595959"/><stop offset=".821" stop-color="#545454"/><stop offset=".857" stop-color="#595959"/><stop offset=".929" stop-color="#686868"/><stop offset=".964" stop-color="#606060"/><stop offset="1" stop-color="#4b4b4b"/></linearGradient><linearGradient id="r5_12"><stop offset="0" stop-color="#030303"/><stop offset=".25" stop-color="#040404"/><stop offset=".321" stop-color="#060606"/><stop offset=".393" stop-color="#0c0c0c"/><stop offset=".429" stop-color="#111111"/><stop offset=".464" stop-color="#191919"/><stop offset=".536" stop-color="#333333"/><stop offset=".571" stop-color="#3d3d3d"/><stop offset=".643" stop-color="#414141"/><stop offset=".679" stop-color="#4a4a4a"/><stop offset=".714" stop-color="#5e5e5e"/><stop offset=".75" stop-color="#6f6f6f"/><stop offset=".786" stop-color="#949494"/><stop offset=".821" stop-color="#a5a5a5"/><stop offset=".857" stop-color="#999999"/><stop offset=".893" stop-color="#737373"/><stop offset=".929" stop-color="#5d5d5d"/><stop offset=".964" stop-color="#626262"/><stop offset="1" stop-color="#555555"/></linearGradient><linearGradient id="r5_13"><stop offset="0" stop-color="#030303"/><stop offset=".214" stop-color="#040404"/><stop offset=".286" stop-color="#060606"/><stop offset=".393" stop-color="#101010"/><stop offset=".429" stop-color="#171717"/><stop offset=".464" stop-color="#212121"/><stop offset=".536" stop-color="#434343"/><stop offset=".571" stop-color="#4e4e4e"/><stop offset=".607" stop-color="#4c4c4c"/><stop offset=".679" stop-color="#2c2c2c"/><stop offset=".714" stop-color="#4d4d4d"/><stop offset=".75" stop-color="#767676"/><stop offset=".786" stop-color="#c6c6c6"/><stop offset=".821" stop-color="#e9e9e9"/><stop offset=".857" stop-color="#d2d2d2"/><stop offset=".893" stop-color="#7f7f7f"/><stop offset=".929" stop-color="#424242"/><stop offset=".964" stop-color="#5e5e5e"/><stop offset="1" stop-color="#5e5e5e"/></linearGradient><linearGradient id="r5_14"><stop offset="0" stop-color="#030303"/><stop offset=".214" stop-color="#040404"/><stop offset=".321" stop-color="#0a0a0a"/><stop offset=".393" stop-color="#131313"/><stop offset=".429" stop-color="#1a1a1a"/><stop offset=".464" stop-color="#252525"/><stop offset=".5" stop-color="#363636"/><stop offset=".536" stop-color="#4a4a4a"/><stop offset=".571" stop-color="#555555"/><stop offset=".607" stop-color="#525252"/><stop offset=".643" stop-color="#393939"/><stop offset=".679" stop-color="#1d1d1d"/><stop offset=".714" stop-color="#454545"/><stop offset=".75" stop-color="#767676"/><stop offset=".786" stop-color="#cfcfcf"/><stop offset=".821" stop-color="#f6f6f6"/><stop offset=".857" stop-color="#dcdcdc"/><stop offset=".893" stop-color="#7f7f7f"/><stop offset=".929" stop-color="#363636"/><stop offset=".964" stop-color="#5d5d5d"/><stop offset="1" stop-color="#626262"/></linearGradient><linearGradient id="r5_15"><stop offset="0" stop-color="#030303"/><stop offset=".25" stop-color="#040404"/><stop offset=".357" stop-color="#0b0b0b"/><stop offset=".429" stop-color="#151515"/><stop offset=".464" stop-color="#1e1e1e"/><stop offset=".536" stop-color="#3e3e3e"/><stop offset=".571" stop-color="#484848"/><stop offset=".607" stop-color="#484848"/><stop offset=".679" stop-color="#383838"/><stop offset=".714" stop-color="#535353"/><stop offset=".75" stop-color="#747474"/><stop offset=".786" stop-color="#b9b9b9"/><stop offset=".821" stop-color="#d7d7d7"/><stop offset=".857" stop-color="#c3c3c3"/><stop offset=".893" stop-color="#7c7c7c"/><stop offset=".929" stop-color="#4c4c4c"/><stop offset=".964" stop-color="#606060"/><stop offset="1" stop-color="#5c5c5c"/></linearGradient><linearGradient id="r5_16"><stop offset="0" stop-color="#030303"/><stop offset=".25" stop-color="#040404"/><stop offset=".357" stop-color="#080808"/><stop offset=".429" stop-color="#101010"/><stop offset=".464" stop-color="#171717"/><stop offset=".5" stop-color="#212121"/><stop offset=".536" stop-color="#2e2e2e"/><stop offset=".571" stop-color="#363636"/><stop offset=".643" stop-color="#3f3f3f"/><stop offset=".679" stop-color="#4f4f4f"/><stop offset=".714" stop-color="#626262"/><stop offset=".75" stop-color="#6a6a6a"/><stop offset=".786" stop-color="#7e7e7e"/><stop offset=".821" stop-color="#878787"/><stop offset=".857" stop-color="#818181"/><stop offset=".893" stop-color="#6d6d6d"/><stop offset=".929" stop-color="#636363"/><stop offset=".964" stop-color="#626262"/><stop offset="1" stop-color="#525252"/></linearGradient><linearGradient id="r5_17"><stop offset="0" stop-color="#030303"/><stop offset=".286" stop-color="#040404"/><stop offset=".393" stop-color="#080808"/><stop offset=".464" stop-color="#101010"/><stop offset=".536" stop-color="#202020"/><stop offset=".571" stop-color="#262626"/><stop offset=".607" stop-color="#282828"/><stop offset=".643" stop-color="#323232"/><stop offset=".679" stop-color="#4d4d4d"/><stop offset=".714" stop-color="#636363"/><stop offset=".75" stop-color="#5c5c5c"/><stop offset=".786" stop-color="#474747"/><stop offset=".821" stop-color="#3c3c3c"/><stop offset=".857" stop-color="#474747"/><stop offset=".893" stop-color="#5b5b5b"/><stop offset=".929" stop-color="#686868"/><stop offset=".964" stop-color="#5e5e5e"/><stop offset="1" stop-color="#474747"/></linearGradient><linearGradient id="r5_18"><stop offset="0" stop-color="#030303"/><stop offset=".321" stop-color="#040404"/><stop offset=".429" stop-color="#080808"/><stop offset=".5" stop-color="#101010"/><stop offset=".571" stop-color="#1a1a1a"/><stop offset=".607" stop-color="#1b1b1b"/><stop offset=".643" stop-color="#232323"/><stop offset=".679" stop-color="#404040"/><stop offset=".714" stop-color="#595959"/><stop offset=".75" stop-color="#505050"/><stop offset=".786" stop-color="#282828"/><stop offset=".821" stop-color="#121212"/><stop offset=".857" stop-color="#2b2b2b"/><stop offset=".893" stop-color="#4e4e4e"/><stop offset=".929" stop-color="#5d5d5d"/><stop offset=".964" stop-color="#525252"/><stop offset="1" stop-color="#3d3d3d"/></linearGradient><linearGradient id="r5_19"><stop offset="0" stop-color="#030303"/><stop offset=".357" stop-color="#040404"/><stop offset=".429" stop-color="#060606"/><stop offset=".536" stop-color="#101010"/><stop offset=".607" stop-color="#171717"/><stop offset=".643" stop-color="#1e1e1e"/><stop offset=".679" stop-color="#343434"/><stop offset=".714" stop-color="#4d4d4d"/><stop offset=".75" stop-color="#565656"/><stop offset=".786" stop-color="#4a4a4a"/><stop offset=".821" stop-color="#414141"/><stop offset=".857" stop-color="#464646"/><stop offset=".893" stop-color="#4e4e4e"/><stop offset=".929" stop-color="#4e4e4e"/><stop offset="1" stop-color="#323232"/></linearGradient><linearGradient id="r5_20"><stop offset="0" stop-color="#030303"/><stop offset=".393" stop-color="#040404"/><stop offset=".464" stop-color="#060606"/><stop offset=".571" stop-color="#101010"/><stop offset=".643" stop-color="#1c1c1c"/><stop offset=".679" stop-color="#2b2b2b"/><stop offset=".75" stop-color="#5c5c5c"/><stop offset=".786" stop-color="#6e6e6e"/><stop offset=".821" stop-color="#757575"/><stop offset=".857" stop-color="#696969"/><stop offset=".929" stop-color="#434343"/><stop offset=".964" stop-color="#343434"/><stop offset="1" stop-color="#292929"/></linearGradient><linearGradient id="r5_21"><stop offset="0" stop-color="#030303"/><stop offset=".429" stop-color="#040404"/><stop offset=".536" stop-color="#090909"/><stop offset=".607" stop-color="#111111"/><stop offset=".643" stop-color="#171717"/><stop offset=".679" stop-color="#212121"/><stop offset=".714" stop-color="#343434"/><stop offset=".786" stop-color="#6f6f6f"/><stop offset=".821" stop-color="#7f7f7f"/><stop offset=".857" stop-color="#717171"/><stop offset=".893" stop-color="#535353"/><stop offset=".929" stop-color="#393939"/><stop offset=".964" stop-color="#2a2a2a"/><stop offset="1" stop-color="#212121"/></linearGradient><linearGradient id="r5_22"><stop offset="0" stop-color="#030303"/><stop offset=".464" stop-color="#040404"/><stop offset=".571" stop-color="#090909"/><stop offset=".643" stop-color="#111111"/><stop offset=".679" stop-color="#191919"/><stop offset=".714" stop-color="#252525"/><stop offset=".75" stop-color="#3a3a3a"/><stop offset=".786" stop-color="#535353"/><stop offset=".821" stop-color="#626262"/><stop offset=".857" stop-color="#575757"/><stop offset=".893" stop-color="#404040"/><stop offset=".929" stop-color="#2d2d2d"/><stop offset=".964" stop-color="#212121"/><stop offset="1" stop-color="#1a1a1a"/></linearGradient><linearGradient id="r5_23"><stop offset="0" stop-color="#030303"/><stop offset=".5" stop-color="#040404"/><stop offset=".607" stop-color="#090909"/><stop offset=".679" stop-color="#121212"/><stop offset=".714" stop-color="#1a1a1a"/><stop offset=".786" stop-color="#343434"/><stop offset=".821" stop-color="#3c3c3c"/><stop offset=".857" stop-color="#363636"/><stop offset=".929" stop-color="#202020"/><stop offset=".964" stop-color="#191919"/><stop offset="1" stop-color="#151515"/></linearGradient><linearGradient id="r5_24"><stop offset="0" stop-color="#030303"/><stop offset=".536" stop-color="#040404"/><stop offset=".643" stop-color="#0a0a0a"/><stop offset=".714" stop-color="#121212"/><stop offset=".786" stop-color="#212121"/><stop offset=".821" stop-color="#262626"/><stop offset=".964" stop-color="#131313"/><stop offset="1" stop-color="#101010"/></linearGradient><linearGradient id="r5_25"><stop offset="0" stop-color="#030303"/><stop offset=".571" stop-color="#040404"/><stop offset=".643" stop-color="#070707"/><stop offset=".714" stop-color="#0d0d0d"/><stop offset=".821" stop-color="#1d1d1d"/><stop offset=".964" stop-color="#0e0e0e"/><stop offset="1" stop-color="#0c0c0c"/></linearGradient><linearGradient id="r5_26"><stop offset="0" stop-color="#030303"/><stop offset=".607" stop-color="#040404"/><stop offset=".679" stop-color="#070707"/><stop offset=".821" stop-color="#161616"/><stop offset=".964" stop-color="#0b0b0b"/><stop offset="1" stop-color="#090909"/></linearGradient><linearGradient id="r5_27"><stop offset="0" stop-color="#030303"/><stop offset=".643" stop-color="#040404"/><stop offset=".75" stop-color="#0a0a0a"/><stop offset=".821" stop-color="#111111"/><stop offset=".964" stop-color="#080808"/><stop offset="1" stop-color="#070707"/></linearGradient><linearGradient id="r5_28"><stop offset="0" stop-color="#030303"/><stop offset=".679" stop-color="#040404"/><stop offset=".821" stop-color="#0d0d0d"/><stop offset=".964" stop-color="#060606"/><stop offset="1" stop-color="#050505"/></linearGradient><linearGradient id="cb" x1="0" y1="0" x2="0" y2="1"><stop offset="0" stop-color="#7f0000"/><stop offset="0.12" stop-color="#ff0000"/><stop offset="0.25" stop-color="#ff7f00"/><stop offset="0.38" stop-color="#ffff00"/><stop offset="0.5" stop-color="#7fff7f"/><stop offset="0.62" stop-color="#00ffff"/><stop offset="0.75" stop-color="#007fff"/><stop offset="0.88" stop-color="#0000ff"/><stop offset="1" stop-color="#00007f"/></linearGradient></defs><rect width="410" height="550" fill="#fff"/><g font-family="Liberation Serif, serif" font-size="11.6" fill="#000" stroke="#000" stroke-width="0.2" text-anchor="middle"><text x="104" y="18.9">Standard</text><text x="104" y="32.5">solutions</text><text x="221.3" y="18.9">Adaptive</text><text x="219.6" y="32.5">covers</text><text x="335" y="18.9">Adaptive</text><text x="335" y="32.5">solutions</text></g><path d="M148 14.2H164V6.6L178.8 21.5L164 36.3V28.5H148Z" fill="#fff" stroke="#808080" stroke-width="1"/><path d="M260.8 14.2H277.5V6.6L292.2 21.5L277.5 36.3V28.5H260.8Z" fill="#fff" stroke="#808080" stroke-width="1"/><text x="8.3" y="93.9" font-family="Liberation Serif, serif" font-size="11.6" fill="#000" stroke="#000" stroke-width="0.2" word-spacing="-0.25"><tspan font-style="italic">N</tspan> = 6</text><text x="8.3" y="193.2" font-family="Liberation Serif, serif" font-size="11.6" fill="#000" stroke="#000" stroke-width="0.2" word-spacing="-0.25"><tspan font-style="italic">N</tspan> = 8</text><text x="8.3" y="292.9" font-family="Liberation Serif, serif" font-size="11.6" fill="#000" stroke="#000" stroke-width="0.2" word-spacing="-0.25"><tspan font-style="italic">N</tspan> = 10</text><text x="8.3" y="391.8" font-family="Liberation Serif, serif" font-size="11.6" fill="#000" stroke="#000" stroke-width="0.2" word-spacing="-0.25"><tspan font-style="italic">N</tspan> = 12</text><g filter="url(#jet)" shape-rendering="crispEdges"><rect x="60.4" y="46.3" width="82.4" height="6.79" fill="url(#l1_0)"/><rect x="60.4" y="46.3" width="82.4" height="6.79" fill="url(#l1_1)" mask="url(#vm)"/><rect x="60.4" y="53.09" width="82.4" height="6.79" fill="url(#l1_1)"/><rect x="60.4" y="53.09" width="82.4" height="6.79" fill="url(#l1_2)" mask="url(#vm)"/><rect x="60.4" y="59.88" width="82.4" height="6.79" fill="url(#l1_3)"/><rect x="60.4" y="59.88" width="82.4" height="6.79" fill="url(#l1_4)" mask="url(#vm)"/><rect x="60.4" y="66.67" width="82.4" height="6.79" fill="url(#l1_4)"/><rect x="60.4" y="66.67" width="82.4" height="6.79" fill="url(#l1_5)" mask="url(#vm)"/><rect x="60.4" y="73.47" width="82.4" height="6.79" fill="url(#l1_6)"/><rect x="60.4" y="73.47" width="82.4" height="6.79" fill="url(#l1_7)" mask="url(#vm)"/><rect x="60.4" y="80.26" width="82.4" height="6.79" fill="url(#l1_7)"/><rect x="60.4" y="80.26" width="82.4" height="6.79" fill="url(#l1_8)" mask="url(#vm)"/><rect x="60.4" y="87.05" width="82.4" height="6.79" fill="url(#l1_9)"/><rect x="60.4" y="87.05" width="82.4" height="6.79" fill="url(#l1_10)" mask="url(#vm)"/><rect x="60.4" y="93.84" width="82.4" height="6.79" fill="url(#l1_10)"/><rect x="60.4" y="93.84" width="82.4" height="6.79" fill="url(#l1_11)" mask="url(#vm)"/><rect x="60.4" y="100.63" width="82.4" height="6.79" fill="url(#l1_12)"/><rect x="60.4" y="100.63" width="82.4" height="6.79" fill="url(#l1_13)" mask="url(#vm)"/><rect x="60.4" y="107.42" width="82.4" height="6.79" fill="url(#l1_13)"/><rect x="60.4" y="107.42" width="82.4" height="6.79" fill="url(#l1_14)" mask="url(#vm)"/><rect x="60.4" y="114.22" width="82.4" height="6.79" fill="url(#l1_15)"/><rect x="60.4" y="114.22" width="82.4" height="6.79" fill="url(#l1_16)" mask="url(#vm)"/><rect x="60.4" y="121.01" width="82.4" height="6.79" fill="url(#l1_16)"/><rect x="60.4" y="121.01" width="82.4" height="6.79" fill="url(#l1_17)" mask="url(#vm)"/></g><g filter="url(#jet)" shape-rendering="crispEdges"><rect x="60.2" y="147" width="80.6" height="2.52" fill="url(#l2_0)"/><rect x="60.2" y="147" width="80.6" height="2.52" fill="url(#l2_1)" mask="url(#vm)"/><rect x="60.2" y="149.52" width="80.6" height="2.52" fill="url(#l2_1)"/><rect x="60.2" y="149.52" width="80.6" height="2.52" fill="url(#l2_2)" mask="url(#vm)"/><rect x="60.2" y="152.04" width="80.6" height="2.52" fill="url(#l2_2)"/><rect x="60.2" y="152.04" width="80.6" height="2.52" fill="url(#l2_3)" mask="url(#vm)"/><rect x="60.2" y="154.56" width="80.6" height="2.52" fill="url(#l2_3)"/><rect x="60.2" y="154.56" width="80.6" height="2.52" fill="url(#l2_4)" mask="url(#vm)"/><rect x="60.2" y="157.07" width="80.6" height="2.52" fill="url(#l2_5)"/><rect x="60.2" y="157.07" width="80.6" height="2.52" fill="url(#l2_6)" mask="url(#vm)"/><rect x="60.2" y="159.59" width="80.6" height="2.52" fill="url(#l2_6)"/><rect x="60.2" y="159.59" width="80.6" height="2.52" fill="url(#l2_7)" mask="url(#vm)"/><rect x="60.2" y="162.11" width="80.6" height="2.52" fill="url(#l2_7)"/><rect x="60.2" y="162.11" width="80.6" height="2.52" fill="url(#l2_8)" mask="url(#vm)"/><rect x="60.2" y="164.63" width="80.6" height="2.52" fill="url(#l2_8)"/><rect x="60.2" y="164.63" width="80.6" height="2.52" fill="url(#l2_9)" mask="url(#vm)"/><rect x="60.2" y="167.15" width="80.6" height="2.52" fill="url(#l2_10)"/><rect x="60.2" y="167.15" width="80.6" height="2.52" fill="url(#l2_11)" mask="url(#vm)"/><rect x="60.2" y="169.67" width="80.6" height="2.52" fill="url(#l2_11)"/><rect x="60.2" y="169.67" width="80.6" height="2.52" fill="url(#l2_12)" mask="url(#vm)"/><rect x="60.2" y="172.19" width="80.6" height="2.52" fill="url(#l2_12)"/><rect x="60.2" y="172.19" width="80.6" height="2.52" fill="url(#l2_13)" mask="url(#vm)"/><rect x="60.2" y="174.71" width="80.6" height="2.52" fill="url(#l2_13)"/><rect x="60.2" y="174.71" width="80.6" height="2.52" fill="url(#l2_14)" mask="url(#vm)"/><rect x="60.2" y="177.22" width="80.6" height="2.52" fill="url(#l2_15)"/><rect x="60.2" y="177.22" width="80.6" height="2.52" fill="url(#l2_16)" mask="url(#vm)"/><rect x="60.2" y="179.74" width="80.6" height="2.52" fill="url(#l2_16)"/><rect x="60.2" y="179.74" width="80.6" height="2.52" fill="url(#l2_17)" mask="url(#vm)"/><rect x="60.2" y="182.26" width="80.6" height="2.52" fill="url(#l2_17)"/><rect x="60.2" y="182.26" width="80.6" height="2.52" fill="url(#l2_18)" mask="url(#vm)"/><rect x="60.2" y="184.78" width="80.6" height="2.52" fill="url(#l2_18)"/><rect x="60.2" y="184.78" width="80.6" height="2.52" fill="url(#l2_19)" mask="url(#vm)"/><rect x="60.2" y="187.3" width="80.6" height="2.52" fill="url(#l2_20)"/><rect x="60.2" y="187.3" width="80.6" height="2.52" fill="url(#l2_21)" mask="url(#vm)"/><rect x="60.2" y="189.82" width="80.6" height="2.52" fill="url(#l2_21)"/><rect x="60.2" y="189.82" width="80.6" height="2.52" fill="url(#l2_22)" mask="url(#vm)"/><rect x="60.2" y="192.34" width="80.6" height="2.52" fill="url(#l2_22)"/><rect x="60.2" y="192.34" width="80.6" height="2.52" fill="url(#l2_23)" mask="url(#vm)"/><rect x="60.2" y="194.86" width="80.6" height="2.52" fill="url(#l2_23)"/><rect x="60.2" y="194.86" width="80.6" height="2.52" fill="url(#l2_24)" mask="url(#vm)"/><rect x="60.2" y="197.38" width="80.6" height="2.52" fill="url(#l2_25)"/><rect x="60.2" y="197.38" width="80.6" height="2.52" fill="url(#l2_26)" mask="url(#vm)"/><rect x="60.2" y="199.89" width="80.6" height="2.52" fill="url(#l2_26)"/><rect x="60.2" y="199.89" width="80.6" height="2.52" fill="url(#l2_27)" mask="url(#vm)"/><rect x="60.2" y="202.41" width="80.6" height="2.52" fill="url(#l2_27)"/><rect x="60.2" y="202.41" width="80.6" height="2.52" fill="url(#l2_28)" mask="url(#vm)"/><rect x="60.2" y="204.93" width="80.6" height="2.52" fill="url(#l2_28)"/><rect x="60.2" y="204.93" width="80.6" height="2.52" fill="url(#l2_29)" mask="url(#vm)"/><rect x="60.2" y="207.45" width="80.6" height="2.52" fill="url(#l2_30)"/><rect x="60.2" y="207.45" width="80.6" height="2.52" fill="url(#l2_31)" mask="url(#vm)"/><rect x="60.2" y="209.97" width="80.6" height="2.52" fill="url(#l2_31)"/><rect x="60.2" y="209.97" width="80.6" height="2.52" fill="url(#l2_32)" mask="url(#vm)"/><rect x="60.2" y="212.49" width="80.6" height="2.52" fill="url(#l2_32)"/><rect x="60.2" y="212.49" width="80.6" height="2.52" fill="url(#l2_33)" mask="url(#vm)"/><rect x="60.2" y="215.01" width="80.6" height="2.52" fill="url(#l2_33)"/><rect x="60.2" y="215.01" width="80.6" height="2.52" fill="url(#l2_34)" mask="url(#vm)"/><rect x="60.2" y="217.52" width="80.6" height="2.52" fill="url(#l2_35)"/><rect x="60.2" y="217.52" width="80.6" height="2.52" fill="url(#l2_36)" mask="url(#vm)"/><rect x="60.2" y="220.04" width="80.6" height="2.52" fill="url(#l2_36)"/><rect x="60.2" y="220.04" width="80.6" height="2.52" fill="url(#l2_37)" mask="url(#vm)"/><rect x="60.2" y="222.56" width="80.6" height="2.52" fill="url(#l2_37)"/><rect x="60.2" y="222.56" width="80.6" height="2.52" fill="url(#l2_38)" mask="url(#vm)"/><rect x="60.2" y="225.08" width="80.6" height="2.52" fill="url(#l2_38)"/><rect x="60.2" y="225.08" width="80.6" height="2.52" fill="url(#l2_39)" mask="url(#vm)"/></g><g filter="url(#jet)" shape-rendering="crispEdges"><rect x="60.2" y="246.3" width="80.5" height="4.03" fill="url(#l3_0)"/><rect x="60.2" y="246.3" width="80.5" height="4.03" fill="url(#l3_1)" mask="url(#vm)"/><rect x="60.2" y="250.33" width="80.5" height="4.03" fill="url(#l3_1)"/><rect x="60.2" y="250.33" width="80.5" height="4.03" fill="url(#l3_2)" mask="url(#vm)"/><rect x="60.2" y="254.35" width="80.5" height="4.02" fill="url(#l3_3)"/><rect x="60.2" y="254.35" width="80.5" height="4.02" fill="url(#l3_4)" mask="url(#vm)"/><rect x="60.2" y="258.38" width="80.5" height="4.03" fill="url(#l3_4)"/><rect x="60.2" y="258.38" width="80.5" height="4.03" fill="url(#l3_5)" mask="url(#vm)"/><rect x="60.2" y="262.4" width="80.5" height="4.02" fill="url(#l3_6)"/><rect x="60.2" y="262.4" width="80.5" height="4.02" fill="url(#l3_7)" mask="url(#vm)"/><rect x="60.2" y="266.43" width="80.5" height="4.02" fill="url(#l3_7)"/><rect x="60.2" y="266.43" width="80.5" height="4.02" fill="url(#l3_8)" mask="url(#vm)"/><rect x="60.2" y="270.45" width="80.5" height="4.03" fill="url(#l3_9)"/><rect x="60.2" y="270.45" width="80.5" height="4.03" fill="url(#l3_10)" mask="url(#vm)"/><rect x="60.2" y="274.48" width="80.5" height="4.02" fill="url(#l3_10)"/><rect x="60.2" y="274.48" width="80.5" height="4.02" fill="url(#l3_11)" mask="url(#vm)"/><rect x="60.2" y="278.5" width="80.5" height="4.03" fill="url(#l3_12)"/><rect x="60.2" y="278.5" width="80.5" height="4.03" fill="url(#l3_13)" mask="url(#vm)"/><rect x="60.2" y="282.53" width="80.5" height="4.02" fill="url(#l3_13)"/><rect x="60.2" y="282.53" width="80.5" height="4.02" fill="url(#l3_14)" mask="url(#vm)"/><rect x="60.2" y="286.55" width="80.5" height="4.03" fill="url(#l3_15)"/><rect x="60.2" y="286.55" width="80.5" height="4.03" fill="url(#l3_16)" mask="url(#vm)"/><rect x="60.2" y="290.58" width="80.5" height="4.02" fill="url(#l3_16)"/><rect x="60.2" y="290.58" width="80.5" height="4.02" fill="url(#l3_17)" mask="url(#vm)"/><rect x="60.2" y="294.6" width="80.5" height="4.02" fill="url(#l3_18)"/><rect x="60.2" y="294.6" width="80.5" height="4.02" fill="url(#l3_19)" mask="url(#vm)"/><rect x="60.2" y="298.62" width="80.5" height="4.02" fill="url(#l3_19)"/><rect x="60.2" y="298.62" width="80.5" height="4.02" fill="url(#l3_20)" mask="url(#vm)"/><rect x="60.2" y="302.65" width="80.5" height="4.03" fill="url(#l3_21)"/><rect x="60.2" y="302.65" width="80.5" height="4.03" fill="url(#l3_22)" mask="url(#vm)"/><rect x="60.2" y="306.68" width="80.5" height="4.03" fill="url(#l3_22)"/><rect x="60.2" y="306.68" width="80.5" height="4.03" fill="url(#l3_23)" mask="url(#vm)"/><rect x="60.2" y="310.7" width="80.5" height="4.02" fill="url(#l3_24)"/><rect x="60.2" y="310.7" width="80.5" height="4.02" fill="url(#l3_25)" mask="url(#vm)"/><rect x="60.2" y="314.73" width="80.5" height="4.02" fill="url(#l3_25)"/><rect x="60.2" y="314.73" width="80.5" height="4.02" fill="url(#l3_26)" mask="url(#vm)"/><rect x="60.2" y="318.75" width="80.5" height="4.02" fill="url(#l3_27)"/><rect x="60.2" y="318.75" width="80.5" height="4.02" fill="url(#l3_28)" mask="url(#vm)"/><rect x="60.2" y="322.77" width="80.5" height="4.03" fill="url(#l3_28)"/><rect x="60.2" y="322.77" width="80.5" height="4.03" fill="url(#l3_29)" mask="url(#vm)"/></g><g filter="url(#jet)" shape-rendering="crispEdges"><rect x="60.2" y="345.2" width="80.5" height="3.35" fill="url(#l4_0)"/><rect x="60.2" y="345.2" width="80.5" height="3.35" fill="url(#l4_1)" mask="url(#vm)"/><rect x="60.2" y="348.55" width="80.5" height="3.35" fill="url(#l4_1)"/><rect x="60.2" y="348.55" width="80.5" height="3.35" fill="url(#l4_2)" mask="url(#vm)"/><rect x="60.2" y="351.91" width="80.5" height="3.35" fill="url(#l4_3)"/><rect x="60.2" y="351.91" width="80.5" height="3.35" fill="url(#l4_4)" mask="url(#vm)"/><rect x="60.2" y="355.26" width="80.5" height="3.35" fill="url(#l4_4)"/><rect x="60.2" y="355.26" width="80.5" height="3.35" fill="url(#l4_5)" mask="url(#vm)"/><rect x="60.2" y="358.62" width="80.5" height="3.35" fill="url(#l4_6)"/><rect x="60.2" y="358.62" width="80.5" height="3.35" fill="url(#l4_7)" mask="url(#vm)"/><rect x="60.2" y="361.97" width="80.5" height="3.35" fill="url(#l4_7)"/><rect x="60.2" y="361.97" width="80.5" height="3.35" fill="url(#l4_8)" mask="url(#vm)"/><rect x="60.2" y="365.32" width="80.5" height="3.35" fill="url(#l4_9)"/><rect x="60.2" y="365.32" width="80.5" height="3.35" fill="url(#l4_10)" mask="url(#vm)"/><rect x="60.2" y="368.68" width="80.5" height="3.35" fill="url(#l4_10)"/><rect x="60.2" y="368.68" width="80.5" height="3.35" fill="url(#l4_11)" mask="url(#vm)"/><rect x="60.2" y="372.03" width="80.5" height="3.35" fill="url(#l4_12)"/><rect x="60.2" y="372.03" width="80.5" height="3.35" fill="url(#l4_13)" mask="url(#vm)"/><rect x="60.2" y="375.39" width="80.5" height="3.35" fill="url(#l4_13)"/><rect x="60.2" y="375.39" width="80.5" height="3.35" fill="url(#l4_14)" mask="url(#vm)"/><rect x="60.2" y="378.74" width="80.5" height="3.35" fill="url(#l4_15)"/><rect x="60.2" y="378.74" width="80.5" height="3.35" fill="url(#l4_16)" mask="url(#vm)"/><rect x="60.2" y="382.1" width="80.5" height="3.35" fill="url(#l4_16)"/><rect x="60.2" y="382.1" width="80.5" height="3.35" fill="url(#l4_17)" mask="url(#vm)"/><rect x="60.2" y="385.45" width="80.5" height="3.35" fill="url(#l4_18)"/><rect x="60.2" y="385.45" width="80.5" height="3.35" fill="url(#l4_19)" mask="url(#vm)"/><rect x="60.2" y="388.8" width="80.5" height="3.35" fill="url(#l4_19)"/><rect x="60.2" y="388.8" width="80.5" height="3.35" fill="url(#l4_20)" mask="url(#vm)"/><rect x="60.2" y="392.16" width="80.5" height="3.35" fill="url(#l4_21)"/><rect x="60.2" y="392.16" width="80.5" height="3.35" fill="url(#l4_22)" mask="url(#vm)"/><rect x="60.2" y="395.51" width="80.5" height="3.35" fill="url(#l4_22)"/><rect x="60.2" y="395.51" width="80.5" height="3.35" fill="url(#l4_23)" mask="url(#vm)"/><rect x="60.2" y="398.87" width="80.5" height="3.35" fill="url(#l4_24)"/><rect x="60.2" y="398.87" width="80.5" height="3.35" fill="url(#l4_25)" mask="url(#vm)"/><rect x="60.2" y="402.22" width="80.5" height="3.35" fill="url(#l4_25)"/><rect x="60.2" y="402.22" width="80.5" height="3.35" fill="url(#l4_26)" mask="url(#vm)"/><rect x="60.2" y="405.57" width="80.5" height="3.35" fill="url(#l4_27)"/><rect x="60.2" y="405.57" width="80.5" height="3.35" fill="url(#l4_28)" mask="url(#vm)"/><rect x="60.2" y="408.93" width="80.5" height="3.35" fill="url(#l4_28)"/><rect x="60.2" y="408.93" width="80.5" height="3.35" fill="url(#l4_29)" mask="url(#vm)"/><rect x="60.2" y="412.28" width="80.5" height="3.35" fill="url(#l4_30)"/><rect x="60.2" y="412.28" width="80.5" height="3.35" fill="url(#l4_31)" mask="url(#vm)"/><rect x="60.2" y="415.64" width="80.5" height="3.35" fill="url(#l4_31)"/><rect x="60.2" y="415.64" width="80.5" height="3.35" fill="url(#l4_32)" mask="url(#vm)"/><rect x="60.2" y="418.99" width="80.5" height="3.35" fill="url(#l4_33)"/><rect x="60.2" y="418.99" width="80.5" height="3.35" fill="url(#l4_34)" mask="url(#vm)"/><rect x="60.2" y="422.35" width="80.5" height="3.35" fill="url(#l4_34)"/><rect x="60.2" y="422.35" width="80.5" height="3.35" fill="url(#l4_35)" mask="url(#vm)"/></g><g filter="url(#jet)" shape-rendering="crispEdges"><rect x="294.1" y="46.3" width="81.3" height="2.88" fill="url(#r1_0)"/><rect x="294.1" y="46.3" width="81.3" height="2.88" fill="url(#r1_1)" mask="url(#vm)"/><rect x="294.1" y="49.18" width="81.3" height="2.88" fill="url(#r1_1)"/><rect x="294.1" y="49.18" width="81.3" height="2.88" fill="url(#r1_2)" mask="url(#vm)"/><rect x="294.1" y="52.06" width="81.3" height="2.88" fill="url(#r1_2)"/><rect x="294.1" y="52.06" width="81.3" height="2.88" fill="url(#r1_3)" mask="url(#vm)"/><rect x="294.1" y="54.95" width="81.3" height="2.88" fill="url(#r1_3)"/><rect x="294.1" y="54.95" width="81.3" height="2.88" fill="url(#r1_4)" mask="url(#vm)"/><rect x="294.1" y="57.83" width="81.3" height="2.88" fill="url(#r1_4)"/><rect x="294.1" y="57.83" width="81.3" height="2.88" fill="url(#r1_5)" mask="url(#vm)"/><rect x="294.1" y="60.71" width="81.3" height="2.88" fill="url(#r1_5)"/><rect x="294.1" y="60.71" width="81.3" height="2.88" fill="url(#r1_6)" mask="url(#vm)"/><rect x="294.1" y="63.59" width="81.3" height="2.88" fill="url(#r1_6)"/><rect x="294.1" y="63.59" width="81.3" height="2.88" fill="url(#r1_7)" mask="url(#vm)"/><rect x="294.1" y="66.47" width="81.3" height="2.88" fill="url(#r1_7)"/><rect x="294.1" y="66.47" width="81.3" height="2.88" fill="url(#r1_8)" mask="url(#vm)"/><rect x="294.1" y="69.36" width="81.3" height="2.88" fill="url(#r1_8)"/><rect x="294.1" y="69.36" width="81.3" height="2.88" fill="url(#r1_9)" mask="url(#vm)"/><rect x="294.1" y="72.24" width="81.3" height="2.88" fill="url(#r1_9)"/><rect x="294.1" y="72.24" width="81.3" height="2.88" fill="url(#r1_10)" mask="url(#vm)"/><rect x="294.1" y="75.12" width="81.3" height="2.88" fill="url(#r1_10)"/><rect x="294.1" y="75.12" width="81.3" height="2.88" fill="url(#r1_11)" mask="url(#vm)"/><rect x="294.1" y="78" width="81.3" height="2.88" fill="url(#r1_11)"/><rect x="294.1" y="78" width="81.3" height="2.88" fill="url(#r1_12)" mask="url(#vm)"/><rect x="294.1" y="80.89" width="81.3" height="2.88" fill="url(#r1_12)"/><rect x="294.1" y="80.89" width="81.3" height="2.88" fill="url(#r1_13)" mask="url(#vm)"/><rect x="294.1" y="83.77" width="81.3" height="2.88" fill="url(#r1_13)"/><rect x="294.1" y="83.77" width="81.3" height="2.88" fill="url(#r1_14)" mask="url(#vm)"/><rect x="294.1" y="86.65" width="81.3" height="2.88" fill="url(#r1_14)"/><rect x="294.1" y="86.65" width="81.3" height="2.88" fill="url(#r1_15)" mask="url(#vm)"/><rect x="294.1" y="89.53" width="81.3" height="2.88" fill="url(#r1_15)"/><rect x="294.1" y="89.53" width="81.3" height="2.88" fill="url(#r1_16)" mask="url(#vm)"/><rect x="294.1" y="92.41" width="81.3" height="2.88" fill="url(#r1_16)"/><rect x="294.1" y="92.41" width="81.3" height="2.88" fill="url(#r1_17)" mask="url(#vm)"/><rect x="294.1" y="95.3" width="81.3" height="2.88" fill="url(#r1_17)"/><rect x="294.1" y="95.3" width="81.3" height="2.88" fill="url(#r1_18)" mask="url(#vm)"/><rect x="294.1" y="98.18" width="81.3" height="2.88" fill="url(#r1_18)"/><rect x="294.1" y="98.18" width="81.3" height="2.88" fill="url(#r1_19)" mask="url(#vm)"/><rect x="294.1" y="101.06" width="81.3" height="2.88" fill="url(#r1_19)"/><rect x="294.1" y="101.06" width="81.3" height="2.88" fill="url(#r1_20)" mask="url(#vm)"/><rect x="294.1" y="103.94" width="81.3" height="2.88" fill="url(#r1_20)"/><rect x="294.1" y="103.94" width="81.3" height="2.88" fill="url(#r1_21)" mask="url(#vm)"/><rect x="294.1" y="106.83" width="81.3" height="2.88" fill="url(#r1_21)"/><rect x="294.1" y="106.83" width="81.3" height="2.88" fill="url(#r1_22)" mask="url(#vm)"/><rect x="294.1" y="109.71" width="81.3" height="2.88" fill="url(#r1_22)"/><rect x="294.1" y="109.71" width="81.3" height="2.88" fill="url(#r1_23)" mask="url(#vm)"/><rect x="294.1" y="112.59" width="81.3" height="2.88" fill="url(#r1_23)"/><rect x="294.1" y="112.59" width="81.3" height="2.88" fill="url(#r1_24)" mask="url(#vm)"/><rect x="294.1" y="115.47" width="81.3" height="2.88" fill="url(#r1_24)"/><rect x="294.1" y="115.47" width="81.3" height="2.88" fill="url(#r1_25)" mask="url(#vm)"/><rect x="294.1" y="118.35" width="81.3" height="2.88" fill="url(#r1_25)"/><rect x="294.1" y="118.35" width="81.3" height="2.88" fill="url(#r1_26)" mask="url(#vm)"/><rect x="294.1" y="121.24" width="81.3" height="2.88" fill="url(#r1_26)"/><rect x="294.1" y="121.24" width="81.3" height="2.88" fill="url(#r1_27)" mask="url(#vm)"/><rect x="294.1" y="124.12" width="81.3" height="2.88" fill="url(#r1_27)"/><rect x="294.1" y="124.12" width="81.3" height="2.88" fill="url(#r1_28)" mask="url(#vm)"/></g><g filter="url(#jet)" shape-rendering="crispEdges"><rect x="294" y="145.7" width="81.7" height="2.89" fill="url(#r2_0)"/><rect x="294" y="145.7" width="81.7" height="2.89" fill="url(#r2_1)" mask="url(#vm)"/><rect x="294" y="148.59" width="81.7" height="2.89" fill="url(#r2_1)"/><rect x="294" y="148.59" width="81.7" height="2.89" fill="url(#r2_2)" mask="url(#vm)"/><rect x="294" y="151.47" width="81.7" height="2.89" fill="url(#r2_2)"/><rect x="294" y="151.47" width="81.7" height="2.89" fill="url(#r2_3)" mask="url(#vm)"/><rect x="294" y="154.36" width="81.7" height="2.89" fill="url(#r2_3)"/><rect x="294" y="154.36" width="81.7" height="2.89" fill="url(#r2_4)" mask="url(#vm)"/><rect x="294" y="157.24" width="81.7" height="2.89" fill="url(#r2_4)"/><rect x="294" y="157.24" width="81.7" height="2.89" fill="url(#r2_5)" mask="url(#vm)"/><rect x="294" y="160.13" width="81.7" height="2.89" fill="url(#r2_5)"/><rect x="294" y="160.13" width="81.7" height="2.89" fill="url(#r2_6)" mask="url(#vm)"/><rect x="294" y="163.01" width="81.7" height="2.89" fill="url(#r2_6)"/><rect x="294" y="163.01" width="81.7" height="2.89" fill="url(#r2_7)" mask="url(#vm)"/><rect x="294" y="165.9" width="81.7" height="2.89" fill="url(#r2_7)"/><rect x="294" y="165.9" width="81.7" height="2.89" fill="url(#r2_8)" mask="url(#vm)"/><rect x="294" y="168.79" width="81.7" height="2.89" fill="url(#r2_8)"/><rect x="294" y="168.79" width="81.7" height="2.89" fill="url(#r2_9)" mask="url(#vm)"/><rect x="294" y="171.67" width="81.7" height="2.89" fill="url(#r2_9)"/><rect x="294" y="171.67" width="81.7" height="2.89" fill="url(#r2_10)" mask="url(#vm)"/><rect x="294" y="174.56" width="81.7" height="2.89" fill="url(#r2_10)"/><rect x="294" y="174.56" width="81.7" height="2.89" fill="url(#r2_11)" mask="url(#vm)"/><rect x="294" y="177.44" width="81.7" height="2.89" fill="url(#r2_11)"/><rect x="294" y="177.44" width="81.7" height="2.89" fill="url(#r2_12)" mask="url(#vm)"/><rect x="294" y="180.33" width="81.7" height="2.89" fill="url(#r2_12)"/><rect x="294" y="180.33" width="81.7" height="2.89" fill="url(#r2_13)" mask="url(#vm)"/><rect x="294" y="183.21" width="81.7" height="2.89" fill="url(#r2_13)"/><rect x="294" y="183.21" width="81.7" height="2.89" fill="url(#r2_14)" mask="url(#vm)"/><rect x="294" y="186.1" width="81.7" height="2.89" fill="url(#r2_14)"/><rect x="294" y="186.1" width="81.7" height="2.89" fill="url(#r2_15)" mask="url(#vm)"/><rect x="294" y="188.99" width="81.7" height="2.89" fill="url(#r2_15)"/><rect x="294" y="188.99" width="81.7" height="2.89" fill="url(#r2_16)" mask="url(#vm)"/><rect x="294" y="191.87" width="81.7" height="2.89" fill="url(#r2_16)"/><rect x="294" y="191.87" width="81.7" height="2.89" fill="url(#r2_17)" mask="url(#vm)"/><rect x="294" y="194.76" width="81.7" height="2.89" fill="url(#r2_17)"/><rect x="294" y="194.76" width="81.7" height="2.89" fill="url(#r2_18)" mask="url(#vm)"/><rect x="294" y="197.64" width="81.7" height="2.89" fill="url(#r2_18)"/><rect x="294" y="197.64" width="81.7" height="2.89" fill="url(#r2_19)" mask="url(#vm)"/><rect x="294" y="200.53" width="81.7" height="2.89" fill="url(#r2_19)"/><rect x="294" y="200.53" width="81.7" height="2.89" fill="url(#r2_20)" mask="url(#vm)"/><rect x="294" y="203.41" width="81.7" height="2.89" fill="url(#r2_20)"/><rect x="294" y="203.41" width="81.7" height="2.89" fill="url(#r2_21)" mask="url(#vm)"/><rect x="294" y="206.3" width="81.7" height="2.89" fill="url(#r2_21)"/><rect x="294" y="206.3" width="81.7" height="2.89" fill="url(#r2_22)" mask="url(#vm)"/><rect x="294" y="209.19" width="81.7" height="2.89" fill="url(#r2_22)"/><rect x="294" y="209.19" width="81.7" height="2.89" fill="url(#r2_23)" mask="url(#vm)"/><rect x="294" y="212.07" width="81.7" height="2.89" fill="url(#r2_23)"/><rect x="294" y="212.07" width="81.7" height="2.89" fill="url(#r2_24)" mask="url(#vm)"/><rect x="294" y="214.96" width="81.7" height="2.89" fill="url(#r2_24)"/><rect x="294" y="214.96" width="81.7" height="2.89" fill="url(#r2_25)" mask="url(#vm)"/><rect x="294" y="217.84" width="81.7" height="2.89" fill="url(#r2_25)"/><rect x="294" y="217.84" width="81.7" height="2.89" fill="url(#r2_26)" mask="url(#vm)"/><rect x="294" y="220.73" width="81.7" height="2.89" fill="url(#r2_26)"/><rect x="294" y="220.73" width="81.7" height="2.89" fill="url(#r2_27)" mask="url(#vm)"/><rect x="294" y="223.61" width="81.7" height="2.89" fill="url(#r2_27)"/><rect x="294" y="223.61" width="81.7" height="2.89" fill="url(#r2_28)" mask="url(#vm)"/></g><g filter="url(#jet)" shape-rendering="crispEdges"><rect x="294" y="245.7" width="81.7" height="2.88" fill="url(#r5_0)"/><rect x="294" y="245.7" width="81.7" height="2.88" fill="url(#r5_1)" mask="url(#vm)"/><rect x="294" y="248.57" width="81.7" height="2.88" fill="url(#r5_1)"/><rect x="294" y="248.57" width="81.7" height="2.88" fill="url(#r5_2)" mask="url(#vm)"/><rect x="294" y="251.45" width="81.7" height="2.88" fill="url(#r5_2)"/><rect x="294" y="251.45" width="81.7" height="2.88" fill="url(#r5_3)" mask="url(#vm)"/><rect x="294" y="254.32" width="81.7" height="2.88" fill="url(#r5_3)"/><rect x="294" y="254.32" width="81.7" height="2.88" fill="url(#r5_4)" mask="url(#vm)"/><rect x="294" y="257.2" width="81.7" height="2.88" fill="url(#r5_4)"/><rect x="294" y="257.2" width="81.7" height="2.88" fill="url(#r5_5)" mask="url(#vm)"/><rect x="294" y="260.07" width="81.7" height="2.88" fill="url(#r5_5)"/><rect x="294" y="260.07" width="81.7" height="2.88" fill="url(#r5_6)" mask="url(#vm)"/><rect x="294" y="262.95" width="81.7" height="2.88" fill="url(#r5_6)"/><rect x="294" y="262.95" width="81.7" height="2.88" fill="url(#r5_7)" mask="url(#vm)"/><rect x="294" y="265.82" width="81.7" height="2.88" fill="url(#r5_7)"/><rect x="294" y="265.82" width="81.7" height="2.88" fill="url(#r5_8)" mask="url(#vm)"/><rect x="294" y="268.7" width="81.7" height="2.88" fill="url(#r5_8)"/><rect x="294" y="268.7" width="81.7" height="2.88" fill="url(#r5_9)" mask="url(#vm)"/><rect x="294" y="271.57" width="81.7" height="2.88" fill="url(#r5_9)"/><rect x="294" y="271.57" width="81.7" height="2.88" fill="url(#r5_10)" mask="url(#vm)"/><rect x="294" y="274.45" width="81.7" height="2.88" fill="url(#r5_10)"/><rect x="294" y="274.45" width="81.7" height="2.88" fill="url(#r5_11)" mask="url(#vm)"/><rect x="294" y="277.32" width="81.7" height="2.88" fill="url(#r5_11)"/><rect x="294" y="277.32" width="81.7" height="2.88" fill="url(#r5_12)" mask="url(#vm)"/><rect x="294" y="280.2" width="81.7" height="2.88" fill="url(#r5_12)"/><rect x="294" y="280.2" width="81.7" height="2.88" fill="url(#r5_13)" mask="url(#vm)"/><rect x="294" y="283.07" width="81.7" height="2.88" fill="url(#r5_13)"/><rect x="294" y="283.07" width="81.7" height="2.88" fill="url(#r5_14)" mask="url(#vm)"/><rect x="294" y="285.95" width="81.7" height="2.88" fill="url(#r5_14)"/><rect x="294" y="285.95" width="81.7" height="2.88" fill="url(#r5_15)" mask="url(#vm)"/><rect x="294" y="288.82" width="81.7" height="2.88" fill="url(#r5_15)"/><rect x="294" y="288.82" width="81.7" height="2.88" fill="url(#r5_16)" mask="url(#vm)"/><rect x="294" y="291.7" width="81.7" height="2.88" fill="url(#r5_16)"/><rect x="294" y="291.7" width="81.7" height="2.88" fill="url(#r5_17)" mask="url(#vm)"/><rect x="294" y="294.57" width="81.7" height="2.88" fill="url(#r5_17)"/><rect x="294" y="294.57" width="81.7" height="2.88" fill="url(#r5_18)" mask="url(#vm)"/><rect x="294" y="297.45" width="81.7" height="2.88" fill="url(#r5_18)"/><rect x="294" y="297.45" width="81.7" height="2.88" fill="url(#r5_19)" mask="url(#vm)"/><rect x="294" y="300.32" width="81.7" height="2.88" fill="url(#r5_19)"/><rect x="294" y="300.32" width="81.7" height="2.88" fill="url(#r5_20)" mask="url(#vm)"/><rect x="294" y="303.2" width="81.7" height="2.88" fill="url(#r5_20)"/><rect x="294" y="303.2" width="81.7" height="2.88" fill="url(#r5_21)" mask="url(#vm)"/><rect x="294" y="306.07" width="81.7" height="2.88" fill="url(#r5_21)"/><rect x="294" y="306.07" width="81.7" height="2.88" fill="url(#r5_22)" mask="url(#vm)"/><rect x="294" y="308.95" width="81.7" height="2.88" fill="url(#r5_22)"/><rect x="294" y="308.95" width="81.7" height="2.88" fill="url(#r5_23)" mask="url(#vm)"/><rect x="294" y="311.82" width="81.7" height="2.88" fill="url(#r5_23)"/><rect x="294" y="311.82" width="81.7" height="2.88" fill="url(#r5_24)" mask="url(#vm)"/><rect x="294" y="314.7" width="81.7" height="2.88" fill="url(#r5_24)"/><rect x="294" y="314.7" width="81.7" height="2.88" fill="url(#r5_25)" mask="url(#vm)"/><rect x="294" y="317.57" width="81.7" height="2.88" fill="url(#r5_25)"/><rect x="294" y="317.57" width="81.7" height="2.88" fill="url(#r5_26)" mask="url(#vm)"/><rect x="294" y="320.45" width="81.7" height="2.88" fill="url(#r5_26)"/><rect x="294" y="320.45" width="81.7" height="2.88" fill="url(#r5_27)" mask="url(#vm)"/><rect x="294" y="323.32" width="81.7" height="2.88" fill="url(#r5_27)"/><rect x="294" y="323.32" width="81.7" height="2.88" fill="url(#r5_28)" mask="url(#vm)"/></g><g filter="url(#jet)" shape-rendering="crispEdges"><rect x="294" y="345.2" width="81.5" height="2.88" fill="url(#r5_0)"/><rect x="294" y="345.2" width="81.5" height="2.88" fill="url(#r5_1)" mask="url(#vm)"/><rect x="294" y="348.07" width="81.5" height="2.88" fill="url(#r5_1)"/><rect x="294" y="348.07" width="81.5" height="2.88" fill="url(#r5_2)" mask="url(#vm)"/><rect x="294" y="350.95" width="81.5" height="2.88" fill="url(#r5_2)"/><rect x="294" y="350.95" width="81.5" height="2.88" fill="url(#r5_3)" mask="url(#vm)"/><rect x="294" y="353.82" width="81.5" height="2.88" fill="url(#r5_3)"/><rect x="294" y="353.82" width="81.5" height="2.88" fill="url(#r5_4)" mask="url(#vm)"/><rect x="294" y="356.7" width="81.5" height="2.88" fill="url(#r5_4)"/><rect x="294" y="356.7" width="81.5" height="2.88" fill="url(#r5_5)" mask="url(#vm)"/><rect x="294" y="359.57" width="81.5" height="2.88" fill="url(#r5_5)"/><rect x="294" y="359.57" width="81.5" height="2.88" fill="url(#r5_6)" mask="url(#vm)"/><rect x="294" y="362.45" width="81.5" height="2.88" fill="url(#r5_6)"/><rect x="294" y="362.45" width="81.5" height="2.88" fill="url(#r5_7)" mask="url(#vm)"/><rect x="294" y="365.32" width="81.5" height="2.88" fill="url(#r5_7)"/><rect x="294" y="365.32" width="81.5" height="2.88" fill="url(#r5_8)" mask="url(#vm)"/><rect x="294" y="368.2" width="81.5" height="2.88" fill="url(#r5_8)"/><rect x="294" y="368.2" width="81.5" height="2.88" fill="url(#r5_9)" mask="url(#vm)"/><rect x="294" y="371.07" width="81.5" height="2.88" fill="url(#r5_9)"/><rect x="294" y="371.07" width="81.5" height="2.88" fill="url(#r5_10)" mask="url(#vm)"/><rect x="294" y="373.95" width="81.5" height="2.88" fill="url(#r5_10)"/><rect x="294" y="373.95" width="81.5" height="2.88" fill="url(#r5_11)" mask="url(#vm)"/><rect x="294" y="376.82" width="81.5" height="2.88" fill="url(#r5_11)"/><rect x="294" y="376.82" width="81.5" height="2.88" fill="url(#r5_12)" mask="url(#vm)"/><rect x="294" y="379.7" width="81.5" height="2.88" fill="url(#r5_12)"/><rect x="294" y="379.7" width="81.5" height="2.88" fill="url(#r5_13)" mask="url(#vm)"/><rect x="294" y="382.57" width="81.5" height="2.88" fill="url(#r5_13)"/><rect x="294" y="382.57" width="81.5" height="2.88" fill="url(#r5_14)" mask="url(#vm)"/><rect x="294" y="385.45" width="81.5" height="2.88" fill="url(#r5_14)"/><rect x="294" y="385.45" width="81.5" height="2.88" fill="url(#r5_15)" mask="url(#vm)"/><rect x="294" y="388.32" width="81.5" height="2.88" fill="url(#r5_15)"/><rect x="294" y="388.32" width="81.5" height="2.88" fill="url(#r5_16)" mask="url(#vm)"/><rect x="294" y="391.2" width="81.5" height="2.88" fill="url(#r5_16)"/><rect x="294" y="391.2" width="81.5" height="2.88" fill="url(#r5_17)" mask="url(#vm)"/><rect x="294" y="394.07" width="81.5" height="2.88" fill="url(#r5_17)"/><rect x="294" y="394.07" width="81.5" height="2.88" fill="url(#r5_18)" mask="url(#vm)"/><rect x="294" y="396.95" width="81.5" height="2.88" fill="url(#r5_18)"/><rect x="294" y="396.95" width="81.5" height="2.88" fill="url(#r5_19)" mask="url(#vm)"/><rect x="294" y="399.82" width="81.5" height="2.88" fill="url(#r5_19)"/><rect x="294" y="399.82" width="81.5" height="2.88" fill="url(#r5_20)" mask="url(#vm)"/><rect x="294" y="402.7" width="81.5" height="2.88" fill="url(#r5_20)"/><rect x="294" y="402.7" width="81.5" height="2.88" fill="url(#r5_21)" mask="url(#vm)"/><rect x="294" y="405.57" width="81.5" height="2.88" fill="url(#r5_21)"/><rect x="294" y="405.57" width="81.5" height="2.88" fill="url(#r5_22)" mask="url(#vm)"/><rect x="294" y="408.45" width="81.5" height="2.88" fill="url(#r5_22)"/><rect x="294" y="408.45" width="81.5" height="2.88" fill="url(#r5_23)" mask="url(#vm)"/><rect x="294" y="411.32" width="81.5" height="2.88" fill="url(#r5_23)"/><rect x="294" y="411.32" width="81.5" height="2.88" fill="url(#r5_24)" mask="url(#vm)"/><rect x="294" y="414.2" width="81.5" height="2.88" fill="url(#r5_24)"/><rect x="294" y="414.2" width="81.5" height="2.88" fill="url(#r5_25)" mask="url(#vm)"/><rect x="294" y="417.07" width="81.5" height="2.88" fill="url(#r5_25)"/><rect x="294" y="417.07" width="81.5" height="2.88" fill="url(#r5_26)" mask="url(#vm)"/><rect x="294" y="419.95" width="81.5" height="2.88" fill="url(#r5_26)"/><rect x="294" y="419.95" width="81.5" height="2.88" fill="url(#r5_27)" mask="url(#vm)"/><rect x="294" y="422.82" width="81.5" height="2.88" fill="url(#r5_27)"/><rect x="294" y="422.82" width="81.5" height="2.88" fill="url(#r5_28)" mask="url(#vm)"/></g><g filter="url(#jet)" shape-rendering="crispEdges"><rect x="294.2" y="446.8" width="81" height="2.89" fill="url(#r5_0)"/><rect x="294.2" y="446.8" width="81" height="2.89" fill="url(#r5_1)" mask="url(#vm)"/><rect x="294.2" y="449.69" width="81" height="2.89" fill="url(#r5_1)"/><rect x="294.2" y="449.69" width="81" height="2.89" fill="url(#r5_2)" mask="url(#vm)"/><rect x="294.2" y="452.57" width="81" height="2.89" fill="url(#r5_2)"/><rect x="294.2" y="452.57" width="81" height="2.89" fill="url(#r5_3)" mask="url(#vm)"/><rect x="294.2" y="455.46" width="81" height="2.89" fill="url(#r5_3)"/><rect x="294.2" y="455.46" width="81" height="2.89" fill="url(#r5_4)" mask="url(#vm)"/><rect x="294.2" y="458.34" width="81" height="2.89" fill="url(#r5_4)"/><rect x="294.2" y="458.34" width="81" height="2.89" fill="url(#r5_5)" mask="url(#vm)"/><rect x="294.2" y="461.23" width="81" height="2.89" fill="url(#r5_5)"/><rect x="294.2" y="461.23" width="81" height="2.89" fill="url(#r5_6)" mask="url(#vm)"/><rect x="294.2" y="464.11" width="81" height="2.89" fill="url(#r5_6)"/><rect x="294.2" y="464.11" width="81" height="2.89" fill="url(#r5_7)" mask="url(#vm)"/><rect x="294.2" y="467" width="81" height="2.89" fill="url(#r5_7)"/><rect x="294.2" y="467" width="81" height="2.89" fill="url(#r5_8)" mask="url(#vm)"/><rect x="294.2" y="469.89" width="81" height="2.89" fill="url(#r5_8)"/><rect x="294.2" y="469.89" width="81" height="2.89" fill="url(#r5_9)" mask="url(#vm)"/><rect x="294.2" y="472.77" width="81" height="2.89" fill="url(#r5_9)"/><rect x="294.2" y="472.77" width="81" height="2.89" fill="url(#r5_10)" mask="url(#vm)"/><rect x="294.2" y="475.66" width="81" height="2.89" fill="url(#r5_10)"/><rect x="294.2" y="475.66" width="81" height="2.89" fill="url(#r5_11)" mask="url(#vm)"/><rect x="294.2" y="478.54" width="81" height="2.89" fill="url(#r5_11)"/><rect x="294.2" y="478.54" width="81" height="2.89" fill="url(#r5_12)" mask="url(#vm)"/><rect x="294.2" y="481.43" width="81" height="2.89" fill="url(#r5_12)"/><rect x="294.2" y="481.43" width="81" height="2.89" fill="url(#r5_13)" mask="url(#vm)"/><rect x="294.2" y="484.31" width="81" height="2.89" fill="url(#r5_13)"/><rect x="294.2" y="484.31" width="81" height="2.89" fill="url(#r5_14)" mask="url(#vm)"/><rect x="294.2" y="487.2" width="81" height="2.89" fill="url(#r5_14)"/><rect x="294.2" y="487.2" width="81" height="2.89" fill="url(#r5_15)" mask="url(#vm)"/><rect x="294.2" y="490.09" width="81" height="2.89" fill="url(#r5_15)"/><rect x="294.2" y="490.09" width="81" height="2.89" fill="url(#r5_16)" mask="url(#vm)"/><rect x="294.2" y="492.97" width="81" height="2.89" fill="url(#r5_16)"/><rect x="294.2" y="492.97" width="81" height="2.89" fill="url(#r5_17)" mask="url(#vm)"/><rect x="294.2" y="495.86" width="81" height="2.89" fill="url(#r5_17)"/><rect x="294.2" y="495.86" width="81" height="2.89" fill="url(#r5_18)" mask="url(#vm)"/><rect x="294.2" y="498.74" width="81" height="2.89" fill="url(#r5_18)"/><rect x="294.2" y="498.74" width="81" height="2.89" fill="url(#r5_19)" mask="url(#vm)"/><rect x="294.2" y="501.63" width="81" height="2.89" fill="url(#r5_19)"/><rect x="294.2" y="501.63" width="81" height="2.89" fill="url(#r5_20)" mask="url(#vm)"/><rect x="294.2" y="504.51" width="81" height="2.89" fill="url(#r5_20)"/><rect x="294.2" y="504.51" width="81" height="2.89" fill="url(#r5_21)" mask="url(#vm)"/><rect x="294.2" y="507.4" width="81" height="2.89" fill="url(#r5_21)"/><rect x="294.2" y="507.4" width="81" height="2.89" fill="url(#r5_22)" mask="url(#vm)"/><rect x="294.2" y="510.29" width="81" height="2.89" fill="url(#r5_22)"/><rect x="294.2" y="510.29" width="81" height="2.89" fill="url(#r5_23)" mask="url(#vm)"/><rect x="294.2" y="513.17" width="81" height="2.89" fill="url(#r5_23)"/><rect x="294.2" y="513.17" width="81" height="2.89" fill="url(#r5_24)" mask="url(#vm)"/><rect x="294.2" y="516.06" width="81" height="2.89" fill="url(#r5_24)"/><rect x="294.2" y="516.06" width="81" height="2.89" fill="url(#r5_25)" mask="url(#vm)"/><rect x="294.2" y="518.94" width="81" height="2.89" fill="url(#r5_25)"/><rect x="294.2" y="518.94" width="81" height="2.89" fill="url(#r5_26)" mask="url(#vm)"/><rect x="294.2" y="521.83" width="81" height="2.89" fill="url(#r5_26)"/><rect x="294.2" y="521.83" width="81" height="2.89" fill="url(#r5_27)" mask="url(#vm)"/><rect x="294.2" y="524.71" width="81" height="2.89" fill="url(#r5_27)"/><rect x="294.2" y="524.71" width="81" height="2.89" fill="url(#r5_28)" mask="url(#vm)"/></g><g><path d="M184.51 117.58L232.36 131.18M184.51 105.81L232.36 119.41M184.51 94.03L232.36 107.63M184.51 82.25L232.36 95.85M184.51 70.47L232.36 84.07M191.41 111.69L239.27 125.29M191.41 99.92L239.27 113.52M191.41 88.14L239.27 101.74M191.41 76.36L239.27 89.96M191.41 64.58L239.27 78.18M198.32 105.81L246.18 119.41M198.32 94.03L246.18 107.63M198.32 82.25L246.18 95.85M198.32 70.47L246.18 84.07M198.32 58.69L246.18 72.29M205.23 99.92L253.09 113.52M205.23 88.14L253.09 101.74M205.23 76.36L253.09 89.96M205.23 64.58L253.09 78.18M205.23 52.81L253.09 66.41M212.14 94.03L259.99 107.63M212.14 82.25L259.99 95.85M212.14 70.47L259.99 84.07M212.14 58.69L259.99 72.29M212.14 46.92L259.99 60.52" stroke="#000" stroke-opacity="0.17" stroke-width="0.35" fill="none"/><path d="M184.51 117.58L212.14 94.03M184.51 105.81L212.14 82.25M184.51 94.03L212.14 70.47M184.51 82.25L212.14 58.69M184.51 70.47L212.14 46.92M196.47 120.98L224.1 97.43M196.47 109.21L224.1 85.65M196.47 97.43L224.1 73.87M196.47 85.65L224.1 62.09M196.47 73.87L224.1 50.32M208.44 124.38L236.06 100.83M208.44 112.61L236.06 89.05M208.44 100.83L236.06 77.27M208.44 89.05L236.06 65.49M208.44 77.27L236.06 53.72M220.4 127.78L248.03 104.23M220.4 116.01L248.03 92.45M220.4 104.23L248.03 80.67M220.4 92.45L248.03 68.89M220.4 80.67L248.03 57.12M232.36 131.18L259.99 107.63M232.36 119.41L259.99 95.85M232.36 107.63L259.99 84.07M232.36 95.85L259.99 72.29M232.36 84.07L259.99 60.52" stroke="#000" stroke-opacity="0.17" stroke-width="0.35" fill="none"/><path d="M184.51 117.58L184.51 70.47M191.41 111.69L191.41 64.58M198.32 105.81L198.32 58.69M205.23 99.92L205.23 52.81M212.14 94.03L212.14 46.92M196.47 120.98L196.47 73.87M203.38 115.09L203.38 67.98M210.29 109.21L210.29 62.09M217.19 103.32L217.19 56.21M224.1 97.43L224.1 50.32M208.44 124.38L208.44 77.27M215.34 118.49L215.34 71.38M222.25 112.61L222.25 65.49M229.16 106.72L229.16 59.61M236.06 100.83L236.06 53.72M220.4 127.78L220.4 80.67M227.31 121.89L227.31 74.78M234.21 116.01L234.21 68.89M241.12 110.12L241.12 63.01M248.03 104.23L248.03 57.12M232.36 131.18L232.36 84.07M239.27 125.29L239.27 78.18M246.18 119.41L246.18 72.29M253.09 113.52L253.09 66.41M259.99 107.63L259.99 60.52" stroke="#000" stroke-opacity="0.17" stroke-width="0.35" fill="none"/><path d="M184.51 117.58L184.51 70.47M184.51 117.58L232.36 131.18M232.36 131.18L259.99 107.63M184.51 117.58L185.47 116.76M184.51 117.58L185.47 116.76M232.36 131.18L230.69 130.71M184.51 105.81L185.47 104.98M196.47 120.98L197.44 120.16M239.27 125.29L237.6 124.82M184.51 94.03L185.47 93.2M208.44 124.38L209.4 123.56M246.18 119.41L244.5 118.93M184.51 82.25L185.47 81.43M220.4 127.78L221.37 126.96M253.09 113.52L251.41 113.04M184.51 70.47L185.47 69.65M232.36 131.18L233.33 130.36M259.99 107.63L258.32 107.15" stroke="#505050" stroke-width="0.8" fill="none"/><g font-family="Liberation Sans, sans-serif" font-size="3.6" fill="#444"><text x="183.01" y="119.08" text-anchor="end">-1</text><text x="184.01" y="122.58" text-anchor="end">-1</text><text x="234.36" y="135.18">-1</text><text x="183.01" y="107.31" text-anchor="end">-0.5</text><text x="195.97" y="125.98" text-anchor="end">-0.5</text><text x="241.27" y="129.29">-0.5</text><text x="183.01" y="95.53" text-anchor="end">0</text><text x="207.94" y="129.38" text-anchor="end">0</text><text x="248.18" y="123.41">0</text><text x="183.01" y="83.75" text-anchor="end">0.5</text><text x="219.9" y="132.78" text-anchor="end">0.5</text><text x="255.09" y="117.52">0.5</text><text x="183.01" y="71.97" text-anchor="end">1</text><text x="231.86" y="136.18" text-anchor="end">1</text><text x="261.99" y="111.63">1</text><text x="202.44" y="135.38">x</text><text x="174.51" y="96.03" transform="rotate(-90 174.51 96.03)">z</text></g><circle cx="212.14" cy="58.69" r="1.4" fill="#0000ff"/><circle cx="212.14" cy="70.47" r="1.4" fill="#0000ff"/><circle cx="212.14" cy="82.25" r="1.4" fill="#0000ff"/><circle cx="224.1" cy="50.32" r="1.4" fill="#0000ff"/><circle cx="224.1" cy="97.43" r="1.4" fill="#0000ff"/><circle cx="205.23" cy="64.58" r="1.4" fill="#0000ff"/><circle cx="205.23" cy="88.14" r="1.4" fill="#0000ff"/><circle cx="236.06" cy="53.72" r="1.4" fill="#0000ff"/><circle cx="236.06" cy="100.83" r="1.4" fill="#0000ff"/><circle cx="248.03" cy="104.23" r="1.4" fill="#0000ff"/><circle cx="229.16" cy="59.61" r="1.4" fill="#0000ff"/><circle cx="229.16" cy="106.72" r="1.4" fill="#0000ff"/><circle cx="259.99" cy="84.07" r="1.4" fill="#0000ff"/><circle cx="210.29" cy="73.87" r="1.4" fill="#0000ff"/><circle cx="210.29" cy="85.65" r="1.4" fill="#0000ff"/><circle cx="210.29" cy="97.43" r="1.4" fill="#0000ff"/><circle cx="241.12" cy="63.01" r="1.4" fill="#0000ff"/><circle cx="241.12" cy="110.12" r="1.4" fill="#0000ff"/><circle cx="253.09" cy="78.18" r="1.4" fill="#0000ff"/><circle cx="253.09" cy="101.74" r="1.4" fill="#0000ff"/><circle cx="234.21" cy="68.89" r="1.4" fill="#0000ff"/><circle cx="234.21" cy="80.67" r="1.4" fill="#0000ff"/><circle cx="234.21" cy="92.45" r="1.4" fill="#0000ff"/><circle cx="234.21" cy="104.23" r="1.4" fill="#0000ff"/><circle cx="234.21" cy="116.01" r="1.4" fill="#0000ff"/><path d="M224.1 60.32L225.71 63.22L222.49 63.22Z" fill="#ff0000"/><path d="M224.1 72.1L225.71 75L222.49 75Z" fill="#ff0000"/><path d="M224.1 83.88L225.71 86.78L222.49 86.78Z" fill="#ff0000"/><path d="M205.23 74.59L206.84 77.49L203.62 77.49Z" fill="#ff0000"/><path d="M236.06 63.72L237.68 66.62L234.45 66.62Z" fill="#ff0000"/><path d="M236.06 75.5L237.68 78.4L234.45 78.4Z" fill="#ff0000"/><path d="M236.06 87.28L237.68 90.18L234.45 90.18Z" fill="#ff0000"/><path d="M217.19 66.21L218.8 69.11L215.58 69.11Z" fill="#ff0000"/><path d="M217.19 77.99L218.8 80.89L215.58 80.89Z" fill="#ff0000"/><path d="M217.19 89.77L218.8 92.67L215.58 92.67Z" fill="#ff0000"/><path d="M248.03 67.12L249.64 70.02L246.42 70.02Z" fill="#ff0000"/><path d="M248.03 78.9L249.64 81.8L246.42 81.8Z" fill="#ff0000"/><path d="M248.03 90.68L249.64 93.58L246.42 93.58Z" fill="#ff0000"/><path d="M229.16 69.61L230.77 72.51L227.55 72.51Z" fill="#ff0000"/><path d="M229.16 81.39L230.77 84.29L227.55 84.29Z" fill="#ff0000"/><path d="M229.16 93.17L230.77 96.07L227.55 96.07Z" fill="#ff0000"/><path d="M259.99 70.52L261.6 73.42L258.38 73.42Z" fill="#ff0000"/><path d="M259.99 94.08L261.6 96.98L258.38 96.98Z" fill="#ff0000"/><path d="M241.12 73.01L242.73 75.91L239.51 75.91Z" fill="#ff0000"/><path d="M241.12 84.79L242.73 87.69L239.51 87.69Z" fill="#ff0000"/><path d="M241.12 96.57L242.73 99.47L239.51 99.47Z" fill="#ff0000"/><path d="M222.25 75.5L223.86 78.4L220.64 78.4Z" fill="#ff0000"/><path d="M222.25 87.28L223.86 90.18L220.64 90.18Z" fill="#ff0000"/><path d="M222.25 99.06L223.86 101.95L220.64 101.95Z" fill="#ff0000"/><path d="M253.09 88.19L254.7 91.09L251.48 91.09Z" fill="#ff0000"/></g><g><path d="M184.51 214.98L232.36 228.58M184.51 207.13L232.36 220.73M184.51 199.28L232.36 212.88M184.51 191.43L232.36 205.03M184.51 183.58L232.36 197.18M184.51 175.72L232.36 189.32M184.51 167.87L232.36 181.47M189.11 211.06L236.97 224.66M189.11 203.21L236.97 216.81M189.11 195.35L236.97 208.95M189.11 187.5L236.97 201.1M189.11 179.65L236.97 193.25M189.11 171.8L236.97 185.4M189.11 163.95L236.97 177.55M193.72 207.13L241.57 220.73M193.72 199.28L241.57 212.88M193.72 191.43L241.57 205.03M193.72 183.58L241.57 197.18M193.72 175.72L241.57 189.32M193.72 167.87L241.57 181.47M193.72 160.02L241.57 173.62M198.32 203.21L246.18 216.81M198.32 195.35L246.18 208.95M198.32 187.5L246.18 201.1M198.32 179.65L246.18 193.25M198.32 171.8L246.18 185.4M198.32 163.95L246.18 177.55M198.32 156.09L246.18 169.69M202.93 199.28L250.78 212.88M202.93 191.43L250.78 205.03M202.93 183.58L250.78 197.18M202.93 175.72L250.78 189.32M202.93 167.87L250.78 181.47M202.93 160.02L250.78 173.62M202.93 152.17L250.78 165.77M207.53 195.35L255.39 208.95M207.53 187.5L255.39 201.1M207.53 179.65L255.39 193.25M207.53 171.8L255.39 185.4M207.53 163.95L255.39 177.55M207.53 156.09L255.39 169.69M207.53 148.24L255.39 161.84M212.14 191.43L259.99 205.03M212.14 183.58L259.99 197.18M212.14 175.72L259.99 189.32M212.14 167.87L259.99 181.47M212.14 160.02L259.99 173.62M212.14 152.17L259.99 165.77M212.14 144.32L259.99 157.92" stroke="#000" stroke-opacity="0.17" stroke-width="0.4" fill="none"/><path d="M184.51 214.98L212.14 191.43M184.51 207.13L212.14 183.58M184.51 199.28L212.14 175.72M184.51 191.43L212.14 167.87M184.51 183.58L212.14 160.02M184.51 175.72L212.14 152.17M184.51 167.87L212.14 144.32M192.48 217.25L220.11 193.69M192.48 209.4L220.11 185.84M192.48 201.55L220.11 177.99M192.48 193.69L220.11 170.14M192.48 185.84L220.11 162.29M192.48 177.99L220.11 154.43M192.48 170.14L220.11 146.58M200.46 219.52L228.09 195.96M200.46 211.67L228.09 188.11M200.46 203.81L228.09 180.26M200.46 195.96L228.09 172.41M200.46 188.11L228.09 164.55M200.46 180.26L228.09 156.7M200.46 172.41L228.09 148.85M208.44 221.78L236.06 198.23M208.44 213.93L236.06 190.38M208.44 206.08L236.06 182.52M208.44 198.23L236.06 174.67M208.44 190.38L236.06 166.82M208.44 182.52L236.06 158.97M208.44 174.67L236.06 151.12M216.41 224.05L244.04 200.49M216.41 216.2L244.04 192.64M216.41 208.35L244.04 184.79M216.41 200.49L244.04 176.94M216.41 192.64L244.04 169.09M216.41 184.79L244.04 161.23M216.41 176.94L244.04 153.38M224.39 226.32L252.02 202.76M224.39 218.47L252.02 194.91M224.39 210.61L252.02 187.06M224.39 202.76L252.02 179.21M224.39 194.91L252.02 171.35M224.39 187.06L252.02 163.5M224.39 179.21L252.02 155.65M232.36 228.58L259.99 205.03M232.36 220.73L259.99 197.18M232.36 212.88L259.99 189.32M232.36 205.03L259.99 181.47M232.36 197.18L259.99 173.62M232.36 189.32L259.99 165.77M232.36 181.47L259.99 157.92" stroke="#000" stroke-opacity="0.17" stroke-width="0.4" fill="none"/><path d="M184.51 214.98L184.51 167.87M189.11 211.06L189.11 163.95M193.72 207.13L193.72 160.02M198.32 203.21L198.32 156.09M202.93 199.28L202.93 152.17M207.53 195.35L207.53 148.24M212.14 191.43L212.14 144.32M192.48 217.25L192.48 170.14M197.09 213.32L197.09 166.21M201.69 209.4L201.69 162.29M206.3 205.47L206.3 158.36M210.9 201.55L210.9 154.43M215.51 197.62L215.51 150.51M220.11 193.69L220.11 146.58M200.46 219.52L200.46 172.41M205.06 215.59L205.06 168.48M209.67 211.67L209.67 164.55M214.27 207.74L214.27 160.63M218.88 203.81L218.88 156.7M223.48 199.89L223.48 152.78M228.09 195.96L228.09 148.85M208.44 221.78L208.44 174.67M213.04 217.86L213.04 170.75M217.65 213.93L217.65 166.82M222.25 210.01L222.25 162.89M226.85 206.08L226.85 158.97M231.46 202.15L231.46 155.04M236.06 198.23L236.06 151.12M216.41 224.05L216.41 176.94M221.02 220.12L221.02 173.01M225.62 216.2L225.62 169.09M230.23 212.27L230.23 165.16M234.83 208.35L234.83 161.23M239.44 204.42L239.44 157.31M244.04 200.49L244.04 153.38M224.39 226.32L224.39 179.21M228.99 222.39L228.99 175.28M233.6 218.47L233.6 171.35M238.2 214.54L238.2 167.43M242.81 210.61L242.81 163.5M247.41 206.69L247.41 159.58M252.02 202.76L252.02 155.65M232.36 228.58L232.36 181.47M236.97 224.66L236.97 177.55M241.57 220.73L241.57 173.62M246.18 216.81L246.18 169.69M250.78 212.88L250.78 165.77M255.39 208.95L255.39 161.84M259.99 205.03L259.99 157.92" stroke="#000" stroke-opacity="0.26" stroke-width="0.4" fill="none"/><path d="M184.51 214.98L184.51 167.87M184.51 214.98L232.36 228.58M232.36 228.58L259.99 205.03M184.51 214.98L185.47 214.16M184.51 214.98L185.47 214.16M232.36 228.58L230.69 228.11M184.51 203.21L185.47 202.38M196.47 218.38L197.44 217.56M239.27 222.69L237.6 222.22M184.51 191.43L185.47 190.6M208.44 221.78L209.4 220.96M246.18 216.81L244.5 216.33M184.51 179.65L185.47 178.83M220.4 225.18L221.37 224.36M253.09 210.92L251.41 210.44M184.51 167.87L185.47 167.05M232.36 228.58L233.33 227.76M259.99 205.03L258.32 204.55" stroke="#505050" stroke-width="0.8" fill="none"/><g font-family="Liberation Sans, sans-serif" font-size="3.6" fill="#444"><text x="183.01" y="216.48" text-anchor="end">-1</text><text x="184.01" y="219.98" text-anchor="end">-1</text><text x="234.36" y="232.58">-1</text><text x="183.01" y="204.71" text-anchor="end">-0.5</text><text x="195.97" y="223.38" text-anchor="end">-0.5</text><text x="241.27" y="226.69">-0.5</text><text x="183.01" y="192.93" text-anchor="end">0</text><text x="207.94" y="226.78" text-anchor="end">0</text><text x="248.18" y="220.81">0</text><text x="183.01" y="181.15" text-anchor="end">0.5</text><text x="219.9" y="230.18" text-anchor="end">0.5</text><text x="255.09" y="214.92">0.5</text><text x="183.01" y="169.37" text-anchor="end">1</text><text x="231.86" y="233.58" text-anchor="end">1</text><text x="261.99" y="209.03">1</text><text x="202.44" y="232.78">x</text><text x="174.51" y="193.43" transform="rotate(-90 174.51 193.43)">z</text></g><circle cx="212.14" cy="167.87" r="1.25" fill="#0000ff"/><circle cx="220.11" cy="185.84" r="1.25" fill="#0000ff"/><circle cx="220.11" cy="177.99" r="1.25" fill="#0000ff"/><circle cx="220.11" cy="162.29" r="1.25" fill="#0000ff"/><circle cx="220.11" cy="154.43" r="1.25" fill="#0000ff"/><circle cx="207.53" cy="179.65" r="1.25" fill="#0000ff"/><circle cx="207.53" cy="171.8" r="1.25" fill="#0000ff"/><circle cx="228.09" cy="195.96" r="1.25" fill="#0000ff"/><circle cx="228.09" cy="156.7" r="1.25" fill="#0000ff"/><circle cx="215.51" cy="189.77" r="1.25" fill="#0000ff"/><circle cx="215.51" cy="158.36" r="1.25" fill="#0000ff"/><circle cx="236.06" cy="198.23" r="1.25" fill="#0000ff"/><circle cx="236.06" cy="158.97" r="1.25" fill="#0000ff"/><circle cx="223.48" cy="199.89" r="1.25" fill="#0000ff"/><circle cx="223.48" cy="160.63" r="1.25" fill="#0000ff"/><circle cx="244.04" cy="192.64" r="1.25" fill="#0000ff"/><circle cx="244.04" cy="161.23" r="1.25" fill="#0000ff"/><circle cx="210.9" cy="193.69" r="1.25" fill="#0000ff"/><circle cx="210.9" cy="185.84" r="1.25" fill="#0000ff"/><circle cx="210.9" cy="177.99" r="1.25" fill="#0000ff"/><circle cx="210.9" cy="170.14" r="1.25" fill="#0000ff"/><circle cx="210.9" cy="162.29" r="1.25" fill="#0000ff"/><circle cx="231.46" cy="202.15" r="1.25" fill="#0000ff"/><circle cx="252.02" cy="194.91" r="1.25" fill="#0000ff"/><circle cx="252.02" cy="187.06" r="1.25" fill="#0000ff"/><circle cx="252.02" cy="179.21" r="1.25" fill="#0000ff"/><circle cx="252.02" cy="171.35" r="1.25" fill="#0000ff"/><circle cx="218.88" cy="195.96" r="1.25" fill="#0000ff"/><circle cx="218.88" cy="164.55" r="1.25" fill="#0000ff"/><circle cx="239.44" cy="204.42" r="1.25" fill="#0000ff"/><circle cx="239.44" cy="165.16" r="1.25" fill="#0000ff"/><circle cx="206.3" cy="189.77" r="1.25" fill="#0000ff"/><circle cx="206.3" cy="181.92" r="1.25" fill="#0000ff"/><circle cx="226.85" cy="206.08" r="1.25" fill="#0000ff"/><circle cx="226.85" cy="166.82" r="1.25" fill="#0000ff"/><circle cx="247.41" cy="198.84" r="1.25" fill="#0000ff"/><circle cx="247.41" cy="190.98" r="1.25" fill="#0000ff"/><circle cx="247.41" cy="183.13" r="1.25" fill="#0000ff"/><circle cx="247.41" cy="175.28" r="1.25" fill="#0000ff"/><circle cx="247.41" cy="167.43" r="1.25" fill="#0000ff"/><circle cx="214.27" cy="199.89" r="1.25" fill="#0000ff"/><circle cx="214.27" cy="192.04" r="1.25" fill="#0000ff"/><circle cx="214.27" cy="184.18" r="1.25" fill="#0000ff"/><circle cx="214.27" cy="176.33" r="1.25" fill="#0000ff"/><circle cx="234.83" cy="200.49" r="1.25" fill="#0000ff"/><circle cx="234.83" cy="169.09" r="1.25" fill="#0000ff"/><circle cx="222.25" cy="202.15" r="1.25" fill="#0000ff"/><circle cx="222.25" cy="194.3" r="1.25" fill="#0000ff"/><circle cx="222.25" cy="186.45" r="1.25" fill="#0000ff"/><circle cx="222.25" cy="178.6" r="1.25" fill="#0000ff"/><circle cx="222.25" cy="170.75" r="1.25" fill="#0000ff"/><circle cx="242.81" cy="194.91" r="1.25" fill="#0000ff"/><circle cx="242.81" cy="187.06" r="1.25" fill="#0000ff"/><circle cx="242.81" cy="179.21" r="1.25" fill="#0000ff"/><circle cx="230.23" cy="196.57" r="1.25" fill="#0000ff"/><circle cx="230.23" cy="188.72" r="1.25" fill="#0000ff"/><circle cx="230.23" cy="180.86" r="1.25" fill="#0000ff"/><path d="M220.11 168.56L221.55 171.14L218.68 171.14Z" fill="#ff0000"/><path d="M228.09 186.53L229.53 189.12L226.65 189.12Z" fill="#ff0000"/><path d="M228.09 178.68L229.53 181.26L226.65 181.26Z" fill="#ff0000"/><path d="M228.09 170.82L229.53 173.41L226.65 173.41Z" fill="#ff0000"/><path d="M228.09 162.97L229.53 165.56L226.65 165.56Z" fill="#ff0000"/><path d="M215.51 180.34L216.95 182.92L214.07 182.92Z" fill="#ff0000"/><path d="M215.51 172.48L216.95 175.07L214.07 175.07Z" fill="#ff0000"/><path d="M215.51 164.63L216.95 167.22L214.07 167.22Z" fill="#ff0000"/><path d="M236.06 188.79L237.5 191.38L234.63 191.38Z" fill="#ff0000"/><path d="M236.06 180.94L237.5 183.53L234.63 183.53Z" fill="#ff0000"/><path d="M236.06 173.09L237.5 175.68L234.63 175.68Z" fill="#ff0000"/><path d="M236.06 165.24L237.5 167.83L234.63 167.83Z" fill="#ff0000"/><path d="M223.48 190.45L224.92 193.04L222.05 193.04Z" fill="#ff0000"/><path d="M223.48 182.6L224.92 185.19L222.05 185.19Z" fill="#ff0000"/><path d="M223.48 174.75L224.92 177.34L222.05 177.34Z" fill="#ff0000"/><path d="M223.48 166.9L224.92 169.49L222.05 169.49Z" fill="#ff0000"/><path d="M244.04 183.21L245.48 185.8L242.6 185.8Z" fill="#ff0000"/><path d="M244.04 175.36L245.48 177.94L242.6 177.94Z" fill="#ff0000"/><path d="M244.04 167.51L245.48 170.09L242.6 170.09Z" fill="#ff0000"/><path d="M231.46 192.72L232.9 195.31L230.02 195.31Z" fill="#ff0000"/><path d="M231.46 184.87L232.9 187.46L230.02 187.46Z" fill="#ff0000"/><path d="M231.46 177.02L232.9 179.6L230.02 179.6Z" fill="#ff0000"/><path d="M231.46 169.16L232.9 171.75L230.02 171.75Z" fill="#ff0000"/><path d="M231.46 161.31L232.9 163.9L230.02 163.9Z" fill="#ff0000"/><path d="M218.88 186.53L220.32 189.12L217.44 189.12Z" fill="#ff0000"/><path d="M218.88 178.68L220.32 181.26L217.44 181.26Z" fill="#ff0000"/><path d="M218.88 170.82L220.32 173.41L217.44 173.41Z" fill="#ff0000"/><path d="M239.44 194.99L240.87 197.57L238 197.57Z" fill="#ff0000"/><path d="M239.44 187.14L240.87 189.72L238 189.72Z" fill="#ff0000"/><path d="M239.44 179.28L240.87 181.87L238 181.87Z" fill="#ff0000"/><path d="M239.44 171.43L240.87 174.02L238 174.02Z" fill="#ff0000"/><path d="M226.85 196.65L228.29 199.23L225.42 199.23Z" fill="#ff0000"/><path d="M226.85 188.79L228.29 191.38L225.42 191.38Z" fill="#ff0000"/><path d="M226.85 180.94L228.29 183.53L225.42 183.53Z" fill="#ff0000"/><path d="M226.85 173.09L228.29 175.68L225.42 175.68Z" fill="#ff0000"/><path d="M234.83 191.06L236.27 193.65L233.39 193.65Z" fill="#ff0000"/><path d="M234.83 183.21L236.27 185.8L233.39 185.8Z" fill="#ff0000"/><path d="M234.83 175.36L236.27 177.94L233.39 177.94Z" fill="#ff0000"/></g><g><path d="M184.51 312.58L232.36 326.18M184.51 306.69L232.36 320.29M184.51 300.81L232.36 314.41M184.51 294.92L232.36 308.52M184.51 289.03L232.36 302.63M184.51 283.14L232.36 296.74M184.51 277.25L232.36 290.85M184.51 271.36L232.36 284.96M184.51 265.47L232.36 279.07M187.96 309.64L235.82 323.24M187.96 303.75L235.82 317.35M187.96 297.86L235.82 311.46M187.96 291.97L235.82 305.57M187.96 286.08L235.82 299.68M187.96 280.19L235.82 293.79M187.96 274.31L235.82 287.91M187.96 268.42L235.82 282.02M187.96 262.53L235.82 276.13M191.41 306.69L239.27 320.29M191.41 300.81L239.27 314.41M191.41 294.92L239.27 308.52M191.41 289.03L239.27 302.63M191.41 283.14L239.27 296.74M191.41 277.25L239.27 290.85M191.41 271.36L239.27 284.96M191.41 265.47L239.27 279.07M191.41 259.58L239.27 273.18M194.87 303.75L242.72 317.35M194.87 297.86L242.72 311.46M194.87 291.97L242.72 305.57M194.87 286.08L242.72 299.68M194.87 280.19L242.72 293.79M194.87 274.31L242.72 287.91M194.87 268.42L242.72 282.02M194.87 262.53L242.72 276.13M194.87 256.64L242.72 270.24M198.32 300.81L246.18 314.41M198.32 294.92L246.18 308.52M198.32 289.03L246.18 302.63M198.32 283.14L246.18 296.74M198.32 277.25L246.18 290.85M198.32 271.36L246.18 284.96M198.32 265.47L246.18 279.07M198.32 259.58L246.18 273.18M198.32 253.69L246.18 267.29M201.78 297.86L249.63 311.46M201.78 291.97L249.63 305.57M201.78 286.08L249.63 299.68M201.78 280.19L249.63 293.79M201.78 274.31L249.63 287.91M201.78 268.42L249.63 282.02M201.78 262.53L249.63 276.13M201.78 256.64L249.63 270.24M201.78 250.75L249.63 264.35M205.23 294.92L253.09 308.52M205.23 289.03L253.09 302.63M205.23 283.14L253.09 296.74M205.23 277.25L253.09 290.85M205.23 271.36L253.09 284.96M205.23 265.47L253.09 279.07M205.23 259.58L253.09 273.18M205.23 253.69L253.09 267.29M205.23 247.81L253.09 261.41M208.68 291.97L256.54 305.57M208.68 286.08L256.54 299.68M208.68 280.19L256.54 293.79M208.68 274.31L256.54 287.91M208.68 268.42L256.54 282.02M208.68 262.53L256.54 276.13M208.68 256.64L256.54 270.24M208.68 250.75L256.54 264.35M208.68 244.86L256.54 258.46M212.14 289.03L259.99 302.63M212.14 283.14L259.99 296.74M212.14 277.25L259.99 290.85M212.14 271.36L259.99 284.96M212.14 265.47L259.99 279.07M212.14 259.58L259.99 273.18M212.14 253.69L259.99 267.29M212.14 247.81L259.99 261.41M212.14 241.92L259.99 255.52" stroke="#000" stroke-opacity="0.2" stroke-width="0.4" fill="none"/><path d="M184.51 312.58L212.14 289.03M184.51 306.69L212.14 283.14M184.51 300.81L212.14 277.25M184.51 294.92L212.14 271.36M184.51 289.03L212.14 265.47M184.51 283.14L212.14 259.58M184.51 277.25L212.14 253.69M184.51 271.36L212.14 247.81M184.51 265.47L212.14 241.92M190.49 314.28L218.12 290.73M190.49 308.39L218.12 284.84M190.49 302.51L218.12 278.95M190.49 296.62L218.12 273.06M190.49 290.73L218.12 267.17M190.49 284.84L218.12 261.28M190.49 278.95L218.12 255.39M190.49 273.06L218.12 249.51M190.49 267.17L218.12 243.62M196.47 315.98L224.1 292.43M196.47 310.09L224.1 286.54M196.47 304.21L224.1 280.65M196.47 298.32L224.1 274.76M196.47 292.43L224.1 268.87M196.47 286.54L224.1 262.98M196.47 280.65L224.1 257.09M196.47 274.76L224.1 251.21M196.47 268.87L224.1 245.32M202.45 317.68L230.08 294.13M202.45 311.79L230.08 288.24M202.45 305.91L230.08 282.35M202.45 300.02L230.08 276.46M202.45 294.13L230.08 270.57M202.45 288.24L230.08 264.68M202.45 282.35L230.08 258.79M202.45 276.46L230.08 252.91M202.45 270.57L230.08 247.02M208.44 319.38L236.06 295.83M208.44 313.49L236.06 289.94M208.44 307.61L236.06 284.05M208.44 301.72L236.06 278.16M208.44 295.83L236.06 272.27M208.44 289.94L236.06 266.38M208.44 284.05L236.06 260.49M208.44 278.16L236.06 254.61M208.44 272.27L236.06 248.72M214.42 321.08L242.05 297.53M214.42 315.19L242.05 291.64M214.42 309.31L242.05 285.75M214.42 303.42L242.05 279.86M214.42 297.53L242.05 273.97M214.42 291.64L242.05 268.08M214.42 285.75L242.05 262.19M214.42 279.86L242.05 256.31M214.42 273.97L242.05 250.42M220.4 322.78L248.03 299.23M220.4 316.89L248.03 293.34M220.4 311.01L248.03 287.45M220.4 305.12L248.03 281.56M220.4 299.23L248.03 275.67M220.4 293.34L248.03 269.78M220.4 287.45L248.03 263.89M220.4 281.56L248.03 258.01M220.4 275.67L248.03 252.12M226.38 324.48L254.01 300.93M226.38 318.59L254.01 295.04M226.38 312.71L254.01 289.15M226.38 306.82L254.01 283.26M226.38 300.93L254.01 277.37M226.38 295.04L254.01 271.48M226.38 289.15L254.01 265.59M226.38 283.26L254.01 259.71M226.38 277.37L254.01 253.82M232.36 326.18L259.99 302.63M232.36 320.29L259.99 296.74M232.36 314.41L259.99 290.85M232.36 308.52L259.99 284.96M232.36 302.63L259.99 279.07M232.36 296.74L259.99 273.18M232.36 290.85L259.99 267.29M232.36 284.96L259.99 261.41M232.36 279.07L259.99 255.52" stroke="#000" stroke-opacity="0.22" stroke-width="0.4" fill="none"/><path d="M184.51 312.58L184.51 265.47M187.96 309.64L187.96 262.53M191.41 306.69L191.41 259.58M194.87 303.75L194.87 256.64M198.32 300.81L198.32 253.69M201.78 297.86L201.78 250.75M205.23 294.92L205.23 247.81M208.68 291.97L208.68 244.86M212.14 289.03L212.14 241.92M190.49 314.28L190.49 267.17M193.94 311.34L193.94 264.23M197.4 308.39L197.4 261.28M200.85 305.45L200.85 258.34M204.3 302.51L204.3 255.39M207.76 299.56L207.76 252.45M211.21 296.62L211.21 249.51M214.67 293.67L214.67 246.56M218.12 290.73L218.12 243.62M196.47 315.98L196.47 268.87M199.92 313.04L199.92 265.93M203.38 310.09L203.38 262.98M206.83 307.15L206.83 260.04M210.29 304.21L210.29 257.09M213.74 301.26L213.74 254.15M217.19 298.32L217.19 251.21M220.65 295.37L220.65 248.26M224.1 292.43L224.1 245.32M202.45 317.68L202.45 270.57M205.91 314.74L205.91 267.63M209.36 311.79L209.36 264.68M212.81 308.85L212.81 261.74M216.27 305.91L216.27 258.79M219.72 302.96L219.72 255.85M223.18 300.02L223.18 252.91M226.63 297.07L226.63 249.96M230.08 294.13L230.08 247.02M208.44 319.38L208.44 272.27M211.89 316.44L211.89 269.33M215.34 313.49L215.34 266.38M218.8 310.55L218.8 263.44M222.25 307.61L222.25 260.49M225.7 304.66L225.7 257.55M229.16 301.72L229.16 254.61M232.61 298.77L232.61 251.66M236.06 295.83L236.06 248.72M214.42 321.08L214.42 273.97M217.87 318.14L217.87 271.03M221.32 315.19L221.32 268.08M224.78 312.25L224.78 265.14M228.23 309.31L228.23 262.19M231.69 306.36L231.69 259.25M235.14 303.42L235.14 256.31M238.59 300.47L238.59 253.36M242.05 297.53L242.05 250.42M220.4 322.78L220.4 275.67M223.85 319.84L223.85 272.73M227.31 316.89L227.31 269.78M230.76 313.95L230.76 266.84M234.21 311.01L234.21 263.89M237.67 308.06L237.67 260.95M241.12 305.12L241.12 258.01M244.58 302.17L244.58 255.06M248.03 299.23L248.03 252.12M226.38 324.48L226.38 277.37M229.83 321.54L229.83 274.43M233.29 318.59L233.29 271.48M236.74 315.65L236.74 268.54M240.2 312.71L240.2 265.59M243.65 309.76L243.65 262.65M247.1 306.82L247.1 259.71M250.56 303.87L250.56 256.76M254.01 300.93L254.01 253.82M232.36 326.18L232.36 279.07M235.82 323.24L235.82 276.13M239.27 320.29L239.27 273.18M242.72 317.35L242.72 270.24M246.18 314.41L246.18 267.29M249.63 311.46L249.63 264.35M253.09 308.52L253.09 261.41M256.54 305.57L256.54 258.46M259.99 302.63L259.99 255.52" stroke="#000" stroke-opacity="0.34" stroke-width="0.4" fill="none"/><path d="M184.51 312.58L184.51 265.47M184.51 312.58L232.36 326.18M232.36 326.18L259.99 302.63M184.51 312.58L185.47 311.76M184.51 312.58L185.47 311.76M232.36 326.18L230.69 325.71M184.51 300.81L185.47 299.98M196.47 315.98L197.44 315.16M239.27 320.29L237.6 319.82M184.51 289.03L185.47 288.2M208.44 319.38L209.4 318.56M246.18 314.41L244.5 313.93M184.51 277.25L185.47 276.43M220.4 322.78L221.37 321.96M253.09 308.52L251.41 308.04M184.51 265.47L185.47 264.65M232.36 326.18L233.33 325.36M259.99 302.63L258.32 302.15" stroke="#505050" stroke-width="0.8" fill="none"/><g font-family="Liberation Sans, sans-serif" font-size="3.6" fill="#444"><text x="183.01" y="314.08" text-anchor="end">-1</text><text x="184.01" y="317.58" text-anchor="end">-1</text><text x="234.36" y="330.18">-1</text><text x="183.01" y="302.31" text-anchor="end">-0.5</text><text x="195.97" y="320.98" text-anchor="end">-0.5</text><text x="241.27" y="324.29">-0.5</text><text x="183.01" y="290.53" text-anchor="end">0</text><text x="207.94" y="324.38" text-anchor="end">0</text><text x="248.18" y="318.41">0</text><text x="183.01" y="278.75" text-anchor="end">0.5</text><text x="219.9" y="327.78" text-anchor="end">0.5</text><text x="255.09" y="312.52">0.5</text><text x="183.01" y="266.97" text-anchor="end">1</text><text x="231.86" y="331.18" text-anchor="end">1</text><text x="261.99" y="306.63">1</text><text x="202.44" y="330.38">x</text><text x="174.51" y="291.03" transform="rotate(-90 174.51 291.03)">z</text></g><circle cx="218.12" cy="278.95" r="1.2" fill="#0000ff"/><circle cx="218.12" cy="273.06" r="1.2" fill="#0000ff"/><circle cx="218.12" cy="261.28" r="1.2" fill="#0000ff"/><circle cx="218.12" cy="255.39" r="1.2" fill="#0000ff"/><circle cx="224.1" cy="286.54" r="1.2" fill="#0000ff"/><circle cx="224.1" cy="251.21" r="1.2" fill="#0000ff"/><circle cx="214.67" cy="281.89" r="1.2" fill="#0000ff"/><circle cx="214.67" cy="258.34" r="1.2" fill="#0000ff"/><circle cx="230.08" cy="288.24" r="1.2" fill="#0000ff"/><circle cx="230.08" cy="252.91" r="1.2" fill="#0000ff"/><circle cx="220.65" cy="289.48" r="1.2" fill="#0000ff"/><circle cx="220.65" cy="254.15" r="1.2" fill="#0000ff"/><circle cx="211.21" cy="284.84" r="1.2" fill="#0000ff"/><circle cx="211.21" cy="278.95" r="1.2" fill="#0000ff"/><circle cx="211.21" cy="273.06" r="1.2" fill="#0000ff"/><circle cx="211.21" cy="267.17" r="1.2" fill="#0000ff"/><circle cx="211.21" cy="261.28" r="1.2" fill="#0000ff"/><circle cx="242.05" cy="291.64" r="1.2" fill="#0000ff"/><circle cx="242.05" cy="256.31" r="1.2" fill="#0000ff"/><circle cx="217.19" cy="292.43" r="1.2" fill="#0000ff"/><circle cx="217.19" cy="257.09" r="1.2" fill="#0000ff"/><circle cx="248.03" cy="293.34" r="1.2" fill="#0000ff"/><circle cx="248.03" cy="258.01" r="1.2" fill="#0000ff"/><circle cx="207.76" cy="281.89" r="1.2" fill="#0000ff"/><circle cx="207.76" cy="276.01" r="1.2" fill="#0000ff"/><circle cx="207.76" cy="270.12" r="1.2" fill="#0000ff"/><circle cx="223.18" cy="294.13" r="1.2" fill="#0000ff"/><circle cx="223.18" cy="258.79" r="1.2" fill="#0000ff"/><circle cx="254.01" cy="289.15" r="1.2" fill="#0000ff"/><circle cx="254.01" cy="283.26" r="1.2" fill="#0000ff"/><circle cx="254.01" cy="271.48" r="1.2" fill="#0000ff"/><circle cx="254.01" cy="265.59" r="1.2" fill="#0000ff"/><circle cx="213.74" cy="289.48" r="1.2" fill="#0000ff"/><circle cx="213.74" cy="265.93" r="1.2" fill="#0000ff"/><circle cx="229.16" cy="295.83" r="1.2" fill="#0000ff"/><circle cx="229.16" cy="260.49" r="1.2" fill="#0000ff"/><circle cx="244.58" cy="296.28" r="1.2" fill="#0000ff"/><circle cx="244.58" cy="260.95" r="1.2" fill="#0000ff"/><circle cx="219.72" cy="297.07" r="1.2" fill="#0000ff"/><circle cx="219.72" cy="261.74" r="1.2" fill="#0000ff"/><circle cx="235.14" cy="297.53" r="1.2" fill="#0000ff"/><circle cx="235.14" cy="262.19" r="1.2" fill="#0000ff"/><circle cx="250.56" cy="292.09" r="1.2" fill="#0000ff"/><circle cx="250.56" cy="268.54" r="1.2" fill="#0000ff"/><circle cx="210.29" cy="286.54" r="1.2" fill="#0000ff"/><circle cx="210.29" cy="280.65" r="1.2" fill="#0000ff"/><circle cx="210.29" cy="274.76" r="1.2" fill="#0000ff"/><circle cx="225.7" cy="298.77" r="1.2" fill="#0000ff"/><circle cx="225.7" cy="263.44" r="1.2" fill="#0000ff"/><circle cx="241.12" cy="299.23" r="1.2" fill="#0000ff"/><circle cx="241.12" cy="263.89" r="1.2" fill="#0000ff"/><circle cx="216.27" cy="294.13" r="1.2" fill="#0000ff"/><circle cx="216.27" cy="288.24" r="1.2" fill="#0000ff"/><circle cx="216.27" cy="282.35" r="1.2" fill="#0000ff"/><circle cx="216.27" cy="276.46" r="1.2" fill="#0000ff"/><circle cx="216.27" cy="270.57" r="1.2" fill="#0000ff"/><circle cx="231.69" cy="300.47" r="1.2" fill="#0000ff"/><circle cx="231.69" cy="265.14" r="1.2" fill="#0000ff"/><circle cx="247.1" cy="295.04" r="1.2" fill="#0000ff"/><circle cx="247.1" cy="289.15" r="1.2" fill="#0000ff"/><circle cx="247.1" cy="283.26" r="1.2" fill="#0000ff"/><circle cx="247.1" cy="277.37" r="1.2" fill="#0000ff"/><circle cx="247.1" cy="271.48" r="1.2" fill="#0000ff"/><circle cx="222.25" cy="295.83" r="1.2" fill="#0000ff"/><circle cx="222.25" cy="289.94" r="1.2" fill="#0000ff"/><circle cx="222.25" cy="284.05" r="1.2" fill="#0000ff"/><circle cx="222.25" cy="278.16" r="1.2" fill="#0000ff"/><circle cx="222.25" cy="272.27" r="1.2" fill="#0000ff"/><circle cx="237.67" cy="296.28" r="1.2" fill="#0000ff"/><circle cx="237.67" cy="272.73" r="1.2" fill="#0000ff"/><circle cx="228.23" cy="297.53" r="1.2" fill="#0000ff"/><circle cx="228.23" cy="291.64" r="1.2" fill="#0000ff"/><circle cx="228.23" cy="285.75" r="1.2" fill="#0000ff"/><circle cx="228.23" cy="279.86" r="1.2" fill="#0000ff"/><circle cx="228.23" cy="273.97" r="1.2" fill="#0000ff"/><circle cx="243.65" cy="292.09" r="1.2" fill="#0000ff"/><circle cx="243.65" cy="286.21" r="1.2" fill="#0000ff"/><circle cx="243.65" cy="280.32" r="1.2" fill="#0000ff"/><circle cx="234.21" cy="293.34" r="1.2" fill="#0000ff"/><circle cx="234.21" cy="287.45" r="1.2" fill="#0000ff"/><circle cx="234.21" cy="281.56" r="1.2" fill="#0000ff"/><path d="M218.12 265.65L219.5 268.14L216.74 268.14Z" fill="#ff0000"/><path d="M224.1 279.13L225.48 281.62L222.72 281.62Z" fill="#ff0000"/><path d="M224.1 273.24L225.48 275.73L222.72 275.73Z" fill="#ff0000"/><path d="M224.1 267.35L225.48 269.84L222.72 269.84Z" fill="#ff0000"/><path d="M224.1 261.47L225.48 263.95L222.72 263.95Z" fill="#ff0000"/><path d="M224.1 255.58L225.48 258.06L222.72 258.06Z" fill="#ff0000"/><path d="M214.67 274.49L216.05 276.97L213.29 276.97Z" fill="#ff0000"/><path d="M214.67 268.6L216.05 271.08L213.29 271.08Z" fill="#ff0000"/><path d="M214.67 262.71L216.05 265.19L213.29 265.19Z" fill="#ff0000"/><path d="M230.08 280.83L231.46 283.32L228.7 283.32Z" fill="#ff0000"/><path d="M230.08 274.94L231.46 277.43L228.7 277.43Z" fill="#ff0000"/><path d="M230.08 269.05L231.46 271.54L228.7 271.54Z" fill="#ff0000"/><path d="M230.08 263.17L231.46 265.65L228.7 265.65Z" fill="#ff0000"/><path d="M230.08 257.28L231.46 259.76L228.7 259.76Z" fill="#ff0000"/><path d="M220.65 282.08L222.03 284.56L219.27 284.56Z" fill="#ff0000"/><path d="M220.65 276.19L222.03 278.67L219.27 278.67Z" fill="#ff0000"/><path d="M220.65 270.3L222.03 272.78L219.27 272.78Z" fill="#ff0000"/><path d="M220.65 264.41L222.03 266.89L219.27 266.89Z" fill="#ff0000"/><path d="M220.65 258.52L222.03 261L219.27 261Z" fill="#ff0000"/><path d="M236.06 288.42L237.44 290.9L234.69 290.9Z" fill="#ff0000"/><path d="M236.06 282.53L237.44 285.02L234.69 285.02Z" fill="#ff0000"/><path d="M236.06 276.64L237.44 279.13L234.69 279.13Z" fill="#ff0000"/><path d="M236.06 270.75L237.44 273.24L234.69 273.24Z" fill="#ff0000"/><path d="M236.06 264.87L237.44 267.35L234.69 267.35Z" fill="#ff0000"/><path d="M236.06 258.98L237.44 261.46L234.69 261.46Z" fill="#ff0000"/><path d="M236.06 253.09L237.44 255.57L234.69 255.57Z" fill="#ff0000"/><path d="M226.63 289.67L228.01 292.15L225.25 292.15Z" fill="#ff0000"/><path d="M226.63 283.78L228.01 286.26L225.25 286.26Z" fill="#ff0000"/><path d="M226.63 277.89L228.01 280.37L225.25 280.37Z" fill="#ff0000"/><path d="M226.63 272L228.01 274.48L225.25 274.48Z" fill="#ff0000"/><path d="M226.63 266.11L228.01 268.59L225.25 268.59Z" fill="#ff0000"/><path d="M226.63 260.22L228.01 262.7L225.25 262.7Z" fill="#ff0000"/><path d="M226.63 254.33L228.01 256.82L225.25 256.82Z" fill="#ff0000"/><path d="M242.05 284.23L243.43 286.72L240.67 286.72Z" fill="#ff0000"/><path d="M242.05 278.34L243.43 280.83L240.67 280.83Z" fill="#ff0000"/><path d="M242.05 272.45L243.43 274.94L240.67 274.94Z" fill="#ff0000"/><path d="M242.05 266.57L243.43 269.05L240.67 269.05Z" fill="#ff0000"/><path d="M242.05 260.68L243.43 263.16L240.67 263.16Z" fill="#ff0000"/><path d="M217.19 285.02L218.57 287.5L215.81 287.5Z" fill="#ff0000"/><path d="M217.19 279.13L218.57 281.62L215.81 281.62Z" fill="#ff0000"/><path d="M217.19 273.24L218.57 275.73L215.81 275.73Z" fill="#ff0000"/><path d="M217.19 267.35L218.57 269.84L215.81 269.84Z" fill="#ff0000"/><path d="M217.19 261.47L218.57 263.95L215.81 263.95Z" fill="#ff0000"/><path d="M232.61 291.37L233.99 293.85L231.23 293.85Z" fill="#ff0000"/><path d="M232.61 285.48L233.99 287.96L231.23 287.96Z" fill="#ff0000"/><path d="M232.61 279.59L233.99 282.07L231.23 282.07Z" fill="#ff0000"/><path d="M232.61 273.7L233.99 276.18L231.23 276.18Z" fill="#ff0000"/><path d="M232.61 267.81L233.99 270.29L231.23 270.29Z" fill="#ff0000"/><path d="M232.61 261.92L233.99 264.4L231.23 264.4Z" fill="#ff0000"/><path d="M232.61 256.03L233.99 258.52L231.23 258.52Z" fill="#ff0000"/><path d="M248.03 285.93L249.41 288.42L246.65 288.42Z" fill="#ff0000"/><path d="M248.03 280.04L249.41 282.53L246.65 282.53Z" fill="#ff0000"/><path d="M248.03 274.15L249.41 276.64L246.65 276.64Z" fill="#ff0000"/><path d="M248.03 268.27L249.41 270.75L246.65 270.75Z" fill="#ff0000"/><path d="M248.03 262.38L249.41 264.86L246.65 264.86Z" fill="#ff0000"/><path d="M223.18 286.72L224.56 289.2L221.8 289.2Z" fill="#ff0000"/><path d="M223.18 280.83L224.56 283.32L221.8 283.32Z" fill="#ff0000"/><path d="M223.18 274.94L224.56 277.43L221.8 277.43Z" fill="#ff0000"/><path d="M223.18 269.05L224.56 271.54L221.8 271.54Z" fill="#ff0000"/><path d="M223.18 263.17L224.56 265.65L221.8 265.65Z" fill="#ff0000"/><path d="M238.59 293.07L239.97 295.55L237.21 295.55Z" fill="#ff0000"/><path d="M238.59 287.18L239.97 289.66L237.21 289.66Z" fill="#ff0000"/><path d="M238.59 281.29L239.97 283.77L237.21 283.77Z" fill="#ff0000"/><path d="M238.59 275.4L239.97 277.88L237.21 277.88Z" fill="#ff0000"/><path d="M238.59 269.51L239.97 271.99L237.21 271.99Z" fill="#ff0000"/><path d="M238.59 263.62L239.97 266.1L237.21 266.1Z" fill="#ff0000"/><path d="M238.59 257.73L239.97 260.22L237.21 260.22Z" fill="#ff0000"/><path d="M254.01 275.85L255.39 278.34L252.63 278.34Z" fill="#ff0000"/><path d="M213.74 282.08L215.12 284.56L212.36 284.56Z" fill="#ff0000"/><path d="M213.74 276.19L215.12 278.67L212.36 278.67Z" fill="#ff0000"/><path d="M213.74 270.3L215.12 272.78L212.36 272.78Z" fill="#ff0000"/><path d="M229.16 288.42L230.54 290.9L227.78 290.9Z" fill="#ff0000"/><path d="M229.16 282.53L230.54 285.02L227.78 285.02Z" fill="#ff0000"/><path d="M229.16 276.64L230.54 279.13L227.78 279.13Z" fill="#ff0000"/><path d="M229.16 270.75L230.54 273.24L227.78 273.24Z" fill="#ff0000"/><path d="M229.16 264.87L230.54 267.35L227.78 267.35Z" fill="#ff0000"/><path d="M244.58 288.88L245.96 291.36L243.2 291.36Z" fill="#ff0000"/><path d="M244.58 282.99L245.96 285.47L243.2 285.47Z" fill="#ff0000"/><path d="M244.58 277.1L245.96 279.58L243.2 279.58Z" fill="#ff0000"/><path d="M244.58 271.21L245.96 273.69L243.2 273.69Z" fill="#ff0000"/><path d="M244.58 265.32L245.96 267.8L243.2 267.8Z" fill="#ff0000"/><path d="M219.72 289.67L221.1 292.15L218.34 292.15Z" fill="#ff0000"/><path d="M219.72 283.78L221.1 286.26L218.34 286.26Z" fill="#ff0000"/><path d="M219.72 277.89L221.1 280.37L218.34 280.37Z" fill="#ff0000"/><path d="M219.72 272L221.1 274.48L218.34 274.48Z" fill="#ff0000"/><path d="M219.72 266.11L221.1 268.59L218.34 268.59Z" fill="#ff0000"/><path d="M235.14 290.12L236.52 292.6L233.76 292.6Z" fill="#ff0000"/><path d="M235.14 284.23L236.52 286.72L233.76 286.72Z" fill="#ff0000"/><path d="M235.14 278.34L236.52 280.83L233.76 280.83Z" fill="#ff0000"/><path d="M235.14 272.45L236.52 274.94L233.76 274.94Z" fill="#ff0000"/><path d="M235.14 266.57L236.52 269.05L233.76 269.05Z" fill="#ff0000"/><path d="M250.56 284.69L251.94 287.17L249.18 287.17Z" fill="#ff0000"/><path d="M250.56 278.8L251.94 281.28L249.18 281.28Z" fill="#ff0000"/><path d="M250.56 272.91L251.94 275.39L249.18 275.39Z" fill="#ff0000"/><path d="M225.7 291.37L227.08 293.85L224.32 293.85Z" fill="#ff0000"/><path d="M225.7 285.48L227.08 287.96L224.32 287.96Z" fill="#ff0000"/><path d="M225.7 279.59L227.08 282.07L224.32 282.07Z" fill="#ff0000"/><path d="M225.7 273.7L227.08 276.18L224.32 276.18Z" fill="#ff0000"/><path d="M225.7 267.81L227.08 270.29L224.32 270.29Z" fill="#ff0000"/><path d="M241.12 291.82L242.5 294.3L239.74 294.3Z" fill="#ff0000"/><path d="M241.12 285.93L242.5 288.42L239.74 288.42Z" fill="#ff0000"/><path d="M241.12 280.04L242.5 282.53L239.74 282.53Z" fill="#ff0000"/><path d="M241.12 274.15L242.5 276.64L239.74 276.64Z" fill="#ff0000"/><path d="M241.12 268.27L242.5 270.75L239.74 270.75Z" fill="#ff0000"/><path d="M231.69 293.07L233.07 295.55L230.31 295.55Z" fill="#ff0000"/><path d="M231.69 287.18L233.07 289.66L230.31 289.66Z" fill="#ff0000"/><path d="M231.69 281.29L233.07 283.77L230.31 283.77Z" fill="#ff0000"/><path d="M231.69 275.4L233.07 277.88L230.31 277.88Z" fill="#ff0000"/><path d="M231.69 269.51L233.07 271.99L230.31 271.99Z" fill="#ff0000"/><path d="M237.67 288.88L239.05 291.36L236.29 291.36Z" fill="#ff0000"/><path d="M237.67 282.99L239.05 285.47L236.29 285.47Z" fill="#ff0000"/><path d="M237.67 277.1L239.05 279.58L236.29 279.58Z" fill="#ff0000"/></g><g><path d="M184.51 410.38L232.36 423.98M184.51 406.46L232.36 420.06M184.51 402.53L232.36 416.13M184.51 398.61L232.36 412.21M184.51 394.68L232.36 408.28M184.51 390.75L232.36 404.35M184.51 386.83L232.36 400.43M184.51 382.9L232.36 396.5M184.51 378.98L232.36 392.58M184.51 375.05L232.36 388.65M184.51 371.12L232.36 384.72M184.51 367.2L232.36 380.8M184.51 363.27L232.36 376.87M186.81 408.42L234.67 422.02M186.81 404.49L234.67 418.09M186.81 400.57L234.67 414.17M186.81 396.64L234.67 410.24M186.81 392.72L234.67 406.32M186.81 388.79L234.67 402.39M186.81 384.86L234.67 398.46M186.81 380.94L234.67 394.54M186.81 377.01L234.67 390.61M186.81 373.09L234.67 386.69M186.81 369.16L234.67 382.76M186.81 365.24L234.67 378.84M186.81 361.31L234.67 374.91M189.11 406.46L236.97 420.06M189.11 402.53L236.97 416.13M189.11 398.61L236.97 412.21M189.11 394.68L236.97 408.28M189.11 390.75L236.97 404.35M189.11 386.83L236.97 400.43M189.11 382.9L236.97 396.5M189.11 378.98L236.97 392.58M189.11 375.05L236.97 388.65M189.11 371.12L236.97 384.72M189.11 367.2L236.97 380.8M189.11 363.27L236.97 376.87M189.11 359.35L236.97 372.95M191.41 404.49L239.27 418.09M191.41 400.57L239.27 414.17M191.41 396.64L239.27 410.24M191.41 392.72L239.27 406.32M191.41 388.79L239.27 402.39M191.41 384.86L239.27 398.46M191.41 380.94L239.27 394.54M191.41 377.01L239.27 390.61M191.41 373.09L239.27 386.69M191.41 369.16L239.27 382.76M191.41 365.24L239.27 378.84M191.41 361.31L239.27 374.91M191.41 357.38L239.27 370.98M193.72 402.53L241.57 416.13M193.72 398.61L241.57 412.21M193.72 394.68L241.57 408.28M193.72 390.75L241.57 404.35M193.72 386.83L241.57 400.43M193.72 382.9L241.57 396.5M193.72 378.98L241.57 392.58M193.72 375.05L241.57 388.65M193.72 371.12L241.57 384.72M193.72 367.2L241.57 380.8M193.72 363.27L241.57 376.87M193.72 359.35L241.57 372.95M193.72 355.42L241.57 369.02M196.02 400.57L243.88 414.17M196.02 396.64L243.88 410.24M196.02 392.72L243.88 406.32M196.02 388.79L243.88 402.39M196.02 384.86L243.88 398.46M196.02 380.94L243.88 394.54M196.02 377.01L243.88 390.61M196.02 373.09L243.88 386.69M196.02 369.16L243.88 382.76M196.02 365.24L243.88 378.84M196.02 361.31L243.88 374.91M196.02 357.38L243.88 370.98M196.02 353.46L243.88 367.06M198.32 398.61L246.18 412.21M198.32 394.68L246.18 408.28M198.32 390.75L246.18 404.35M198.32 386.83L246.18 400.43M198.32 382.9L246.18 396.5M198.32 378.98L246.18 392.58M198.32 375.05L246.18 388.65M198.32 371.12L246.18 384.72M198.32 367.2L246.18 380.8M198.32 363.27L246.18 376.87M198.32 359.35L246.18 372.95M198.32 355.42L246.18 369.02M198.32 351.49L246.18 365.09M200.62 396.64L248.48 410.24M200.62 392.72L248.48 406.32M200.62 388.79L248.48 402.39M200.62 384.86L248.48 398.46M200.62 380.94L248.48 394.54M200.62 377.01L248.48 390.61M200.62 373.09L248.48 386.69M200.62 369.16L248.48 382.76M200.62 365.24L248.48 378.84M200.62 361.31L248.48 374.91M200.62 357.38L248.48 370.98M200.62 353.46L248.48 367.06M200.62 349.53L248.48 363.13M202.93 394.68L250.78 408.28M202.93 390.75L250.78 404.35M202.93 386.83L250.78 400.43M202.93 382.9L250.78 396.5M202.93 378.98L250.78 392.58M202.93 375.05L250.78 388.65M202.93 371.12L250.78 384.72M202.93 367.2L250.78 380.8M202.93 363.27L250.78 376.87M202.93 359.35L250.78 372.95M202.93 355.42L250.78 369.02M202.93 351.49L250.78 365.09M202.93 347.57L250.78 361.17M205.23 392.72L253.09 406.32M205.23 388.79L253.09 402.39M205.23 384.86L253.09 398.46M205.23 380.94L253.09 394.54M205.23 377.01L253.09 390.61M205.23 373.09L253.09 386.69M205.23 369.16L253.09 382.76M205.23 365.24L253.09 378.84M205.23 361.31L253.09 374.91M205.23 357.38L253.09 370.98M205.23 353.46L253.09 367.06M205.23 349.53L253.09 363.13M205.23 345.61L253.09 359.21M207.53 390.75L255.39 404.35M207.53 386.83L255.39 400.43M207.53 382.9L255.39 396.5M207.53 378.98L255.39 392.58M207.53 375.05L255.39 388.65M207.53 371.12L255.39 384.72M207.53 367.2L255.39 380.8M207.53 363.27L255.39 376.87M207.53 359.35L255.39 372.95M207.53 355.42L255.39 369.02M207.53 351.49L255.39 365.09M207.53 347.57L255.39 361.17M207.53 343.64L255.39 357.24M209.83 388.79L257.69 402.39M209.83 384.86L257.69 398.46M209.83 380.94L257.69 394.54M209.83 377.01L257.69 390.61M209.83 373.09L257.69 386.69M209.83 369.16L257.69 382.76M209.83 365.24L257.69 378.84M209.83 361.31L257.69 374.91M209.83 357.38L257.69 370.98M209.83 353.46L257.69 367.06M209.83 349.53L257.69 363.13M209.83 345.61L257.69 359.21M209.83 341.68L257.69 355.28M212.14 386.83L259.99 400.43M212.14 382.9L259.99 396.5M212.14 378.98L259.99 392.58M212.14 375.05L259.99 388.65M212.14 371.12L259.99 384.72M212.14 367.2L259.99 380.8M212.14 363.27L259.99 376.87M212.14 359.35L259.99 372.95M212.14 355.42L259.99 369.02M212.14 351.49L259.99 365.09M212.14 347.57L259.99 361.17M212.14 343.64L259.99 357.24M212.14 339.72L259.99 353.32" stroke="#000" stroke-opacity="0.28" stroke-width="0.45" fill="none"/><path d="M184.51 410.38L212.14 386.83M184.51 406.46L212.14 382.9M184.51 402.53L212.14 378.98M184.51 398.61L212.14 375.05M184.51 394.68L212.14 371.12M184.51 390.75L212.14 367.2M184.51 386.83L212.14 363.27M184.51 382.9L212.14 359.35M184.51 378.98L212.14 355.42M184.51 375.05L212.14 351.49M184.51 371.12L212.14 347.57M184.51 367.2L212.14 343.64M184.51 363.27L212.14 339.72M188.49 411.52L216.12 387.96M188.49 407.59L216.12 384.04M188.49 403.67L216.12 380.11M188.49 399.74L216.12 376.18M188.49 395.81L216.12 372.26M188.49 391.89L216.12 368.33M188.49 387.96L216.12 364.41M188.49 384.04L216.12 360.48M188.49 380.11L216.12 356.55M188.49 376.18L216.12 352.63M188.49 372.26L216.12 348.7M188.49 368.33L216.12 344.78M188.49 364.41L216.12 340.85M192.48 412.65L220.11 389.09M192.48 408.72L220.11 385.17M192.48 404.8L220.11 381.24M192.48 400.87L220.11 377.32M192.48 396.95L220.11 373.39M192.48 393.02L220.11 369.46M192.48 389.09L220.11 365.54M192.48 385.17L220.11 361.61M192.48 381.24L220.11 357.69M192.48 377.32L220.11 353.76M192.48 373.39L220.11 349.83M192.48 369.46L220.11 345.91M192.48 365.54L220.11 341.98M196.47 413.78L224.1 390.23M196.47 409.86L224.1 386.3M196.47 405.93L224.1 382.38M196.47 402.01L224.1 378.45M196.47 398.08L224.1 374.52M196.47 394.15L224.1 370.6M196.47 390.23L224.1 366.67M196.47 386.3L224.1 362.75M196.47 382.38L224.1 358.82M196.47 378.45L224.1 354.89M196.47 374.52L224.1 350.97M196.47 370.6L224.1 347.04M196.47 366.67L224.1 343.12M200.46 414.92L228.09 391.36M200.46 410.99L228.09 387.44M200.46 407.07L228.09 383.51M200.46 403.14L228.09 379.58M200.46 399.21L228.09 375.66M200.46 395.29L228.09 371.73M200.46 391.36L228.09 367.81M200.46 387.44L228.09 363.88M200.46 383.51L228.09 359.95M200.46 379.58L228.09 356.03M200.46 375.66L228.09 352.1M200.46 371.73L228.09 348.18M200.46 367.81L228.09 344.25M204.45 416.05L232.08 392.49M204.45 412.12L232.08 388.57M204.45 408.2L232.08 384.64M204.45 404.27L232.08 380.72M204.45 400.35L232.08 376.79M204.45 396.42L232.08 372.86M204.45 392.49L232.08 368.94M204.45 388.57L232.08 365.01M204.45 384.64L232.08 361.09M204.45 380.72L232.08 357.16M204.45 376.79L232.08 353.23M204.45 372.86L232.08 349.31M204.45 368.94L232.08 345.38M208.44 417.18L236.06 393.63M208.44 413.26L236.06 389.7M208.44 409.33L236.06 385.78M208.44 405.41L236.06 381.85M208.44 401.48L236.06 377.92M208.44 397.55L236.06 374M208.44 393.63L236.06 370.07M208.44 389.7L236.06 366.15M208.44 385.78L236.06 362.22M208.44 381.85L236.06 358.29M208.44 377.92L236.06 354.37M208.44 374L236.06 350.44M208.44 370.07L236.06 346.52M212.42 418.32L240.05 394.76M212.42 414.39L240.05 390.84M212.42 410.47L240.05 386.91M212.42 406.54L240.05 382.98M212.42 402.61L240.05 379.06M212.42 398.69L240.05 375.13M212.42 394.76L240.05 371.21M212.42 390.84L240.05 367.28M212.42 386.91L240.05 363.35M212.42 382.98L240.05 359.43M212.42 379.06L240.05 355.5M212.42 375.13L240.05 351.58M212.42 371.21L240.05 347.65M216.41 419.45L244.04 395.89M216.41 415.52L244.04 391.97M216.41 411.6L244.04 388.04M216.41 407.67L244.04 384.12M216.41 403.75L244.04 380.19M216.41 399.82L244.04 376.26M216.41 395.89L244.04 372.34M216.41 391.97L244.04 368.41M216.41 388.04L244.04 364.49M216.41 384.12L244.04 360.56M216.41 380.19L244.04 356.63M216.41 376.26L244.04 352.71M216.41 372.34L244.04 348.78M220.4 420.58L248.03 397.03M220.4 416.66L248.03 393.1M220.4 412.73L248.03 389.18M220.4 408.81L248.03 385.25M220.4 404.88L248.03 381.32M220.4 400.95L248.03 377.4M220.4 397.03L248.03 373.47M220.4 393.1L248.03 369.55M220.4 389.18L248.03 365.62M220.4 385.25L248.03 361.69M220.4 381.32L248.03 357.77M220.4 377.4L248.03 353.84M220.4 373.47L248.03 349.92M224.39 421.72L252.02 398.16M224.39 417.79L252.02 394.24M224.39 413.87L252.02 390.31M224.39 409.94L252.02 386.38M224.39 406.01L252.02 382.46M224.39 402.09L252.02 378.53M224.39 398.16L252.02 374.61M224.39 394.24L252.02 370.68M224.39 390.31L252.02 366.75M224.39 386.38L252.02 362.83M224.39 382.46L252.02 358.9M224.39 378.53L252.02 354.98M224.39 374.61L252.02 351.05M228.38 422.85L256.01 399.29M228.38 418.92L256.01 395.37M228.38 415L256.01 391.44M228.38 411.07L256.01 387.52M228.38 407.15L256.01 383.59M228.38 403.22L256.01 379.66M228.38 399.29L256.01 375.74M228.38 395.37L256.01 371.81M228.38 391.44L256.01 367.89M228.38 387.52L256.01 363.96M228.38 383.59L256.01 360.03M228.38 379.66L256.01 356.11M228.38 375.74L256.01 352.18M232.36 423.98L259.99 400.43M232.36 420.06L259.99 396.5M232.36 416.13L259.99 392.58M232.36 412.21L259.99 388.65M232.36 408.28L259.99 384.72M232.36 404.35L259.99 380.8M232.36 400.43L259.99 376.87M232.36 396.5L259.99 372.95M232.36 392.58L259.99 369.02M232.36 388.65L259.99 365.09M232.36 384.72L259.99 361.17M232.36 380.8L259.99 357.24M232.36 376.87L259.99 353.32" stroke="#000" stroke-opacity="0.6" stroke-width="0.45" fill="none"/><path d="M184.51 410.38L184.51 363.27M186.81 408.42L186.81 361.31M189.11 406.46L189.11 359.35M191.41 404.49L191.41 357.38M193.72 402.53L193.72 355.42M196.02 400.57L196.02 353.46M198.32 398.61L198.32 351.49M200.62 396.64L200.62 349.53M202.93 394.68L202.93 347.57M205.23 392.72L205.23 345.61M207.53 390.75L207.53 343.64M209.83 388.79L209.83 341.68M212.14 386.83L212.14 339.72M188.49 411.52L188.49 364.41M190.8 409.55L190.8 362.44M193.1 407.59L193.1 360.48M195.4 405.63L195.4 358.52M197.7 403.67L197.7 356.55M200.01 401.7L200.01 354.59M202.31 399.74L202.31 352.63M204.61 397.78L204.61 350.66M206.91 395.81L206.91 348.7M209.22 393.85L209.22 346.74M211.52 391.89L211.52 344.78M213.82 389.92L213.82 342.81M216.12 387.96L216.12 340.85M192.48 412.65L192.48 365.54M194.79 410.69L194.79 363.58M197.09 408.72L197.09 361.61M199.39 406.76L199.39 359.65M201.69 404.8L201.69 357.69M204 402.84L204 355.72M206.3 400.87L206.3 353.76M208.6 398.91L208.6 351.8M210.9 396.95L210.9 349.83M213.21 394.98L213.21 347.87M215.51 393.02L215.51 345.91M217.81 391.06L217.81 343.95M220.11 389.09L220.11 341.98M196.47 413.78L196.47 366.67M198.77 411.82L198.77 364.71M201.08 409.86L201.08 362.75M203.38 407.89L203.38 360.78M205.68 405.93L205.68 358.82M207.98 403.97L207.98 356.86M210.29 402.01L210.29 354.89M212.59 400.04L212.59 352.93M214.89 398.08L214.89 350.97M217.19 396.12L217.19 349.01M219.5 394.15L219.5 347.04M221.8 392.19L221.8 345.08M224.1 390.23L224.1 343.12M200.46 414.92L200.46 367.81M202.76 412.95L202.76 365.84M205.06 410.99L205.06 363.88M207.37 409.03L207.37 361.92M209.67 407.07L209.67 359.95M211.97 405.1L211.97 357.99M214.27 403.14L214.27 356.03M216.58 401.18L216.58 354.06M218.88 399.21L218.88 352.1M221.18 397.25L221.18 350.14M223.48 395.29L223.48 348.18M225.79 393.32L225.79 346.21M228.09 391.36L228.09 344.25M204.45 416.05L204.45 368.94M206.75 414.09L206.75 366.98M209.05 412.12L209.05 365.01M211.35 410.16L211.35 363.05M213.66 408.2L213.66 361.09M215.96 406.24L215.96 359.12M218.26 404.27L218.26 357.16M220.56 402.31L220.56 355.2M222.87 400.35L222.87 353.23M225.17 398.38L225.17 351.27M227.47 396.42L227.47 349.31M229.77 394.46L229.77 347.35M232.08 392.49L232.08 345.38M208.44 417.18L208.44 370.07M210.74 415.22L210.74 368.11M213.04 413.26L213.04 366.15M215.34 411.29L215.34 364.18M217.65 409.33L217.65 362.22M219.95 407.37L219.95 360.26M222.25 405.41L222.25 358.29M224.55 403.44L224.55 356.33M226.85 401.48L226.85 354.37M229.16 399.52L229.16 352.41M231.46 397.55L231.46 350.44M233.76 395.59L233.76 348.48M236.06 393.63L236.06 346.52M212.42 418.32L212.42 371.21M214.73 416.35L214.73 369.24M217.03 414.39L217.03 367.28M219.33 412.43L219.33 365.32M221.63 410.47L221.63 363.35M223.94 408.5L223.94 361.39M226.24 406.54L226.24 359.43M228.54 404.58L228.54 357.46M230.84 402.61L230.84 355.5M233.15 400.65L233.15 353.54M235.45 398.69L235.45 351.58M237.75 396.72L237.75 349.61M240.05 394.76L240.05 347.65M216.41 419.45L216.41 372.34M218.71 417.49L218.71 370.38M221.02 415.52L221.02 368.41M223.32 413.56L223.32 366.45M225.62 411.6L225.62 364.49M227.92 409.64L227.92 362.52M230.23 407.67L230.23 360.56M232.53 405.71L232.53 358.6M234.83 403.75L234.83 356.63M237.13 401.78L237.13 354.67M239.44 399.82L239.44 352.71M241.74 397.86L241.74 350.75M244.04 395.89L244.04 348.78M220.4 420.58L220.4 373.47M222.7 418.62L222.7 371.51M225 416.66L225 369.55M227.31 414.69L227.31 367.58M229.61 412.73L229.61 365.62M231.91 410.77L231.91 363.66M234.21 408.81L234.21 361.69M236.52 406.84L236.52 359.73M238.82 404.88L238.82 357.77M241.12 402.92L241.12 355.81M243.42 400.95L243.42 353.84M245.73 398.99L245.73 351.88M248.03 397.03L248.03 349.92M224.39 421.72L224.39 374.61M226.69 419.75L226.69 372.64M228.99 417.79L228.99 370.68M231.29 415.83L231.29 368.72M233.6 413.87L233.6 366.75M235.9 411.9L235.9 364.79M238.2 409.94L238.2 362.83M240.5 407.98L240.5 360.86M242.81 406.01L242.81 358.9M245.11 404.05L245.11 356.94M247.41 402.09L247.41 354.98M249.71 400.12L249.71 353.01M252.02 398.16L252.02 351.05M228.38 422.85L228.38 375.74M230.68 420.89L230.68 373.78M232.98 418.92L232.98 371.81M235.28 416.96L235.28 369.85M237.59 415L237.59 367.89M239.89 413.04L239.89 365.92M242.19 411.07L242.19 363.96M244.49 409.11L244.49 362M246.8 407.15L246.8 360.03M249.1 405.18L249.1 358.07M251.4 403.22L251.4 356.11M253.7 401.26L253.7 354.15M256.01 399.29L256.01 352.18M232.36 423.98L232.36 376.87M234.67 422.02L234.67 374.91M236.97 420.06L236.97 372.95M239.27 418.09L239.27 370.98M241.57 416.13L241.57 369.02M243.88 414.17L243.88 367.06M246.18 412.21L246.18 365.09M248.48 410.24L248.48 363.13M250.78 408.28L250.78 361.17M253.09 406.32L253.09 359.21M255.39 404.35L255.39 357.24M257.69 402.39L257.69 355.28M259.99 400.43L259.99 353.32" stroke="#000" stroke-opacity="0.28" stroke-width="0.45" fill="none"/><path d="M184.51 410.38L184.51 363.27M184.51 410.38L232.36 423.98M232.36 423.98L259.99 400.43M184.51 410.38L185.47 409.56M184.51 410.38L185.47 409.56M232.36 423.98L230.69 423.51M184.51 398.61L185.47 397.78M196.47 413.78L197.44 412.96M239.27 418.09L237.6 417.62M184.51 386.83L185.47 386M208.44 417.18L209.4 416.36M246.18 412.21L244.5 411.73M184.51 375.05L185.47 374.23M220.4 420.58L221.37 419.76M253.09 406.32L251.41 405.84M184.51 363.27L185.47 362.45M232.36 423.98L233.33 423.16M259.99 400.43L258.32 399.95" stroke="#505050" stroke-width="0.8" fill="none"/><g font-family="Liberation Sans, sans-serif" font-size="3.6" fill="#444"><text x="183.01" y="411.88" text-anchor="end">-1</text><text x="184.01" y="415.38" text-anchor="end">-1</text><text x="234.36" y="427.98">-1</text><text x="183.01" y="400.11" text-anchor="end">-0.5</text><text x="195.97" y="418.78" text-anchor="end">-0.5</text><text x="241.27" y="422.09">-0.5</text><text x="183.01" y="388.33" text-anchor="end">0</text><text x="207.94" y="422.18" text-anchor="end">0</text><text x="248.18" y="416.21">0</text><text x="183.01" y="376.55" text-anchor="end">0.5</text><text x="219.9" y="425.58" text-anchor="end">0.5</text><text x="255.09" y="410.32">0.5</text><text x="183.01" y="364.77" text-anchor="end">1</text><text x="231.86" y="428.98" text-anchor="end">1</text><text x="261.99" y="404.43">1</text><text x="202.44" y="428.18">x</text><text x="174.51" y="388.83" transform="rotate(-90 174.51 388.83)">z</text></g><circle cx="216.12" cy="372.26" r="0.95" fill="#0808d8"/><circle cx="216.12" cy="368.33" r="0.95" fill="#0808d8"/><circle cx="216.12" cy="364.41" r="0.95" fill="#0808d8"/><circle cx="216.12" cy="360.48" r="0.95" fill="#0808d8"/><circle cx="216.12" cy="356.55" r="0.95" fill="#0808d8"/><circle cx="220.11" cy="377.32" r="0.95" fill="#0808d8"/><circle cx="220.11" cy="369.46" r="0.95" fill="#0808d8"/><circle cx="220.11" cy="361.61" r="0.95" fill="#0808d8"/><circle cx="220.11" cy="353.76" r="0.95" fill="#0808d8"/><circle cx="213.82" cy="374.22" r="0.95" fill="#0808d8"/><circle cx="213.82" cy="370.29" r="0.95" fill="#0808d8"/><circle cx="213.82" cy="366.37" r="0.95" fill="#0808d8"/><circle cx="213.82" cy="362.44" r="0.95" fill="#0808d8"/><circle cx="213.82" cy="358.52" r="0.95" fill="#0808d8"/><circle cx="224.1" cy="382.38" r="0.95" fill="#0808d8"/><circle cx="224.1" cy="374.52" r="0.95" fill="#0808d8"/><circle cx="224.1" cy="366.67" r="0.95" fill="#0808d8"/><circle cx="224.1" cy="358.82" r="0.95" fill="#0808d8"/><circle cx="224.1" cy="350.97" r="0.95" fill="#0808d8"/><circle cx="217.81" cy="379.28" r="0.95" fill="#0808d8"/><circle cx="217.81" cy="375.35" r="0.95" fill="#0808d8"/><circle cx="217.81" cy="367.5" r="0.95" fill="#0808d8"/><circle cx="217.81" cy="359.65" r="0.95" fill="#0808d8"/><circle cx="217.81" cy="355.72" r="0.95" fill="#0808d8"/><circle cx="217.81" cy="351.8" r="0.95" fill="#0808d8"/><circle cx="228.09" cy="383.51" r="0.95" fill="#0808d8"/><circle cx="228.09" cy="379.58" r="0.95" fill="#0808d8"/><circle cx="228.09" cy="371.73" r="0.95" fill="#0808d8"/><circle cx="228.09" cy="363.88" r="0.95" fill="#0808d8"/><circle cx="228.09" cy="356.03" r="0.95" fill="#0808d8"/><circle cx="228.09" cy="348.18" r="0.95" fill="#0808d8"/><circle cx="211.52" cy="376.18" r="0.95" fill="#0808d8"/><circle cx="211.52" cy="372.26" r="0.95" fill="#0808d8"/><circle cx="211.52" cy="368.33" r="0.95" fill="#0808d8"/><circle cx="211.52" cy="364.41" r="0.95" fill="#0808d8"/><circle cx="211.52" cy="360.48" r="0.95" fill="#0808d8"/><circle cx="221.8" cy="384.34" r="0.95" fill="#0808d8"/><circle cx="221.8" cy="380.41" r="0.95" fill="#0808d8"/><circle cx="221.8" cy="372.56" r="0.95" fill="#0808d8"/><circle cx="221.8" cy="364.71" r="0.95" fill="#0808d8"/><circle cx="221.8" cy="356.86" r="0.95" fill="#0808d8"/><circle cx="221.8" cy="352.93" r="0.95" fill="#0808d8"/><circle cx="232.08" cy="388.57" r="0.95" fill="#0808d8"/><circle cx="232.08" cy="384.64" r="0.95" fill="#0808d8"/><circle cx="232.08" cy="376.79" r="0.95" fill="#0808d8"/><circle cx="232.08" cy="368.94" r="0.95" fill="#0808d8"/><circle cx="232.08" cy="361.09" r="0.95" fill="#0808d8"/><circle cx="232.08" cy="353.23" r="0.95" fill="#0808d8"/><circle cx="232.08" cy="349.31" r="0.95" fill="#0808d8"/><circle cx="215.51" cy="381.24" r="0.95" fill="#0808d8"/><circle cx="215.51" cy="373.39" r="0.95" fill="#0808d8"/><circle cx="215.51" cy="365.54" r="0.95" fill="#0808d8"/><circle cx="215.51" cy="357.69" r="0.95" fill="#0808d8"/><circle cx="215.51" cy="353.76" r="0.95" fill="#0808d8"/><circle cx="225.79" cy="389.4" r="0.95" fill="#0808d8"/><circle cx="225.79" cy="385.47" r="0.95" fill="#0808d8"/><circle cx="225.79" cy="377.62" r="0.95" fill="#0808d8"/><circle cx="225.79" cy="369.77" r="0.95" fill="#0808d8"/><circle cx="225.79" cy="361.92" r="0.95" fill="#0808d8"/><circle cx="225.79" cy="354.06" r="0.95" fill="#0808d8"/><circle cx="225.79" cy="350.14" r="0.95" fill="#0808d8"/><circle cx="236.06" cy="389.7" r="0.95" fill="#0808d8"/><circle cx="236.06" cy="381.85" r="0.95" fill="#0808d8"/><circle cx="236.06" cy="374" r="0.95" fill="#0808d8"/><circle cx="236.06" cy="366.15" r="0.95" fill="#0808d8"/><circle cx="236.06" cy="358.29" r="0.95" fill="#0808d8"/><circle cx="236.06" cy="350.44" r="0.95" fill="#0808d8"/><circle cx="209.22" cy="378.15" r="0.95" fill="#0808d8"/><circle cx="209.22" cy="374.22" r="0.95" fill="#0808d8"/><circle cx="209.22" cy="370.29" r="0.95" fill="#0808d8"/><circle cx="209.22" cy="366.37" r="0.95" fill="#0808d8"/><circle cx="209.22" cy="362.44" r="0.95" fill="#0808d8"/><circle cx="219.5" cy="386.3" r="0.95" fill="#0808d8"/><circle cx="219.5" cy="378.45" r="0.95" fill="#0808d8"/><circle cx="219.5" cy="370.6" r="0.95" fill="#0808d8"/><circle cx="219.5" cy="362.75" r="0.95" fill="#0808d8"/><circle cx="219.5" cy="354.89" r="0.95" fill="#0808d8"/><circle cx="229.77" cy="390.53" r="0.95" fill="#0808d8"/><circle cx="229.77" cy="382.68" r="0.95" fill="#0808d8"/><circle cx="229.77" cy="374.83" r="0.95" fill="#0808d8"/><circle cx="229.77" cy="366.98" r="0.95" fill="#0808d8"/><circle cx="229.77" cy="359.12" r="0.95" fill="#0808d8"/><circle cx="229.77" cy="351.27" r="0.95" fill="#0808d8"/><circle cx="240.05" cy="390.84" r="0.95" fill="#0808d8"/><circle cx="240.05" cy="386.91" r="0.95" fill="#0808d8"/><circle cx="240.05" cy="379.06" r="0.95" fill="#0808d8"/><circle cx="240.05" cy="371.21" r="0.95" fill="#0808d8"/><circle cx="240.05" cy="363.35" r="0.95" fill="#0808d8"/><circle cx="240.05" cy="355.5" r="0.95" fill="#0808d8"/><circle cx="240.05" cy="351.58" r="0.95" fill="#0808d8"/><circle cx="213.21" cy="383.21" r="0.95" fill="#0808d8"/><circle cx="213.21" cy="379.28" r="0.95" fill="#0808d8"/><circle cx="213.21" cy="371.43" r="0.95" fill="#0808d8"/><circle cx="213.21" cy="363.58" r="0.95" fill="#0808d8"/><circle cx="213.21" cy="359.65" r="0.95" fill="#0808d8"/><circle cx="223.48" cy="391.36" r="0.95" fill="#0808d8"/><circle cx="223.48" cy="383.51" r="0.95" fill="#0808d8"/><circle cx="223.48" cy="375.66" r="0.95" fill="#0808d8"/><circle cx="223.48" cy="367.81" r="0.95" fill="#0808d8"/><circle cx="223.48" cy="359.95" r="0.95" fill="#0808d8"/><circle cx="223.48" cy="352.1" r="0.95" fill="#0808d8"/><circle cx="233.76" cy="391.66" r="0.95" fill="#0808d8"/><circle cx="233.76" cy="387.74" r="0.95" fill="#0808d8"/><circle cx="233.76" cy="379.89" r="0.95" fill="#0808d8"/><circle cx="233.76" cy="372.04" r="0.95" fill="#0808d8"/><circle cx="233.76" cy="364.18" r="0.95" fill="#0808d8"/><circle cx="233.76" cy="356.33" r="0.95" fill="#0808d8"/><circle cx="233.76" cy="352.41" r="0.95" fill="#0808d8"/><circle cx="206.91" cy="376.18" r="0.95" fill="#0808d8"/><circle cx="206.91" cy="372.26" r="0.95" fill="#0808d8"/><circle cx="206.91" cy="368.33" r="0.95" fill="#0808d8"/><circle cx="244.04" cy="388.04" r="0.95" fill="#0808d8"/><circle cx="244.04" cy="384.12" r="0.95" fill="#0808d8"/><circle cx="244.04" cy="376.26" r="0.95" fill="#0808d8"/><circle cx="244.04" cy="368.41" r="0.95" fill="#0808d8"/><circle cx="244.04" cy="360.56" r="0.95" fill="#0808d8"/><circle cx="244.04" cy="356.63" r="0.95" fill="#0808d8"/><circle cx="217.19" cy="388.26" r="0.95" fill="#0808d8"/><circle cx="217.19" cy="384.34" r="0.95" fill="#0808d8"/><circle cx="217.19" cy="376.49" r="0.95" fill="#0808d8"/><circle cx="217.19" cy="368.64" r="0.95" fill="#0808d8"/><circle cx="217.19" cy="360.78" r="0.95" fill="#0808d8"/><circle cx="217.19" cy="356.86" r="0.95" fill="#0808d8"/><circle cx="227.47" cy="392.49" r="0.95" fill="#0808d8"/><circle cx="227.47" cy="388.57" r="0.95" fill="#0808d8"/><circle cx="227.47" cy="380.72" r="0.95" fill="#0808d8"/><circle cx="227.47" cy="372.86" r="0.95" fill="#0808d8"/><circle cx="227.47" cy="365.01" r="0.95" fill="#0808d8"/><circle cx="227.47" cy="357.16" r="0.95" fill="#0808d8"/><circle cx="227.47" cy="353.23" r="0.95" fill="#0808d8"/><circle cx="237.75" cy="392.8" r="0.95" fill="#0808d8"/><circle cx="237.75" cy="384.95" r="0.95" fill="#0808d8"/><circle cx="237.75" cy="377.09" r="0.95" fill="#0808d8"/><circle cx="237.75" cy="369.24" r="0.95" fill="#0808d8"/><circle cx="237.75" cy="361.39" r="0.95" fill="#0808d8"/><circle cx="237.75" cy="353.54" r="0.95" fill="#0808d8"/><circle cx="210.9" cy="385.17" r="0.95" fill="#0808d8"/><circle cx="210.9" cy="381.24" r="0.95" fill="#0808d8"/><circle cx="210.9" cy="377.32" r="0.95" fill="#0808d8"/><circle cx="210.9" cy="369.46" r="0.95" fill="#0808d8"/><circle cx="210.9" cy="365.54" r="0.95" fill="#0808d8"/><circle cx="210.9" cy="361.61" r="0.95" fill="#0808d8"/><circle cx="248.03" cy="389.18" r="0.95" fill="#0808d8"/><circle cx="248.03" cy="385.25" r="0.95" fill="#0808d8"/><circle cx="248.03" cy="381.32" r="0.95" fill="#0808d8"/><circle cx="248.03" cy="373.47" r="0.95" fill="#0808d8"/><circle cx="248.03" cy="365.62" r="0.95" fill="#0808d8"/><circle cx="248.03" cy="357.77" r="0.95" fill="#0808d8"/><circle cx="221.18" cy="389.4" r="0.95" fill="#0808d8"/><circle cx="221.18" cy="381.55" r="0.95" fill="#0808d8"/><circle cx="221.18" cy="373.69" r="0.95" fill="#0808d8"/><circle cx="221.18" cy="365.84" r="0.95" fill="#0808d8"/><circle cx="221.18" cy="357.99" r="0.95" fill="#0808d8"/><circle cx="221.18" cy="354.06" r="0.95" fill="#0808d8"/><circle cx="231.46" cy="393.63" r="0.95" fill="#0808d8"/><circle cx="231.46" cy="385.78" r="0.95" fill="#0808d8"/><circle cx="231.46" cy="377.92" r="0.95" fill="#0808d8"/><circle cx="231.46" cy="370.07" r="0.95" fill="#0808d8"/><circle cx="231.46" cy="362.22" r="0.95" fill="#0808d8"/><circle cx="231.46" cy="354.37" r="0.95" fill="#0808d8"/><circle cx="241.74" cy="390.01" r="0.95" fill="#0808d8"/><circle cx="241.74" cy="382.15" r="0.95" fill="#0808d8"/><circle cx="241.74" cy="374.3" r="0.95" fill="#0808d8"/><circle cx="241.74" cy="366.45" r="0.95" fill="#0808d8"/><circle cx="241.74" cy="358.6" r="0.95" fill="#0808d8"/><circle cx="241.74" cy="354.67" r="0.95" fill="#0808d8"/><circle cx="214.89" cy="390.23" r="0.95" fill="#0808d8"/><circle cx="214.89" cy="386.3" r="0.95" fill="#0808d8"/><circle cx="214.89" cy="382.38" r="0.95" fill="#0808d8"/><circle cx="214.89" cy="374.52" r="0.95" fill="#0808d8"/><circle cx="214.89" cy="366.67" r="0.95" fill="#0808d8"/><circle cx="214.89" cy="358.82" r="0.95" fill="#0808d8"/><circle cx="252.02" cy="382.46" r="0.95" fill="#0808d8"/><circle cx="252.02" cy="378.53" r="0.95" fill="#0808d8"/><circle cx="252.02" cy="370.68" r="0.95" fill="#0808d8"/><circle cx="252.02" cy="366.75" r="0.95" fill="#0808d8"/><circle cx="252.02" cy="362.83" r="0.95" fill="#0808d8"/><circle cx="225.17" cy="394.46" r="0.95" fill="#0808d8"/><circle cx="225.17" cy="386.61" r="0.95" fill="#0808d8"/><circle cx="225.17" cy="378.75" r="0.95" fill="#0808d8"/><circle cx="225.17" cy="370.9" r="0.95" fill="#0808d8"/><circle cx="225.17" cy="363.05" r="0.95" fill="#0808d8"/><circle cx="225.17" cy="355.2" r="0.95" fill="#0808d8"/><circle cx="235.45" cy="394.76" r="0.95" fill="#0808d8"/><circle cx="235.45" cy="390.84" r="0.95" fill="#0808d8"/><circle cx="235.45" cy="382.98" r="0.95" fill="#0808d8"/><circle cx="235.45" cy="375.13" r="0.95" fill="#0808d8"/><circle cx="235.45" cy="367.28" r="0.95" fill="#0808d8"/><circle cx="235.45" cy="359.43" r="0.95" fill="#0808d8"/><circle cx="235.45" cy="355.5" r="0.95" fill="#0808d8"/><circle cx="208.6" cy="383.21" r="0.95" fill="#0808d8"/><circle cx="208.6" cy="379.28" r="0.95" fill="#0808d8"/><circle cx="208.6" cy="375.35" r="0.95" fill="#0808d8"/><circle cx="208.6" cy="371.43" r="0.95" fill="#0808d8"/><circle cx="208.6" cy="367.5" r="0.95" fill="#0808d8"/><circle cx="245.73" cy="391.14" r="0.95" fill="#0808d8"/><circle cx="245.73" cy="387.21" r="0.95" fill="#0808d8"/><circle cx="245.73" cy="379.36" r="0.95" fill="#0808d8"/><circle cx="245.73" cy="371.51" r="0.95" fill="#0808d8"/><circle cx="245.73" cy="363.66" r="0.95" fill="#0808d8"/><circle cx="245.73" cy="359.73" r="0.95" fill="#0808d8"/><circle cx="218.88" cy="391.36" r="0.95" fill="#0808d8"/><circle cx="218.88" cy="387.44" r="0.95" fill="#0808d8"/><circle cx="218.88" cy="379.58" r="0.95" fill="#0808d8"/><circle cx="218.88" cy="371.73" r="0.95" fill="#0808d8"/><circle cx="218.88" cy="363.88" r="0.95" fill="#0808d8"/><circle cx="218.88" cy="359.95" r="0.95" fill="#0808d8"/><circle cx="229.16" cy="395.59" r="0.95" fill="#0808d8"/><circle cx="229.16" cy="391.66" r="0.95" fill="#0808d8"/><circle cx="229.16" cy="383.81" r="0.95" fill="#0808d8"/><circle cx="229.16" cy="375.96" r="0.95" fill="#0808d8"/><circle cx="229.16" cy="368.11" r="0.95" fill="#0808d8"/><circle cx="229.16" cy="360.26" r="0.95" fill="#0808d8"/><circle cx="229.16" cy="356.33" r="0.95" fill="#0808d8"/><circle cx="239.44" cy="391.97" r="0.95" fill="#0808d8"/><circle cx="239.44" cy="388.04" r="0.95" fill="#0808d8"/><circle cx="239.44" cy="380.19" r="0.95" fill="#0808d8"/><circle cx="239.44" cy="372.34" r="0.95" fill="#0808d8"/><circle cx="239.44" cy="364.49" r="0.95" fill="#0808d8"/><circle cx="239.44" cy="356.63" r="0.95" fill="#0808d8"/><circle cx="212.59" cy="388.26" r="0.95" fill="#0808d8"/><circle cx="212.59" cy="384.34" r="0.95" fill="#0808d8"/><circle cx="212.59" cy="380.41" r="0.95" fill="#0808d8"/><circle cx="212.59" cy="372.56" r="0.95" fill="#0808d8"/><circle cx="212.59" cy="368.64" r="0.95" fill="#0808d8"/><circle cx="212.59" cy="364.71" r="0.95" fill="#0808d8"/><circle cx="249.71" cy="388.35" r="0.95" fill="#0808d8"/><circle cx="249.71" cy="384.42" r="0.95" fill="#0808d8"/><circle cx="249.71" cy="376.57" r="0.95" fill="#0808d8"/><circle cx="249.71" cy="368.72" r="0.95" fill="#0808d8"/><circle cx="249.71" cy="364.79" r="0.95" fill="#0808d8"/><circle cx="222.87" cy="392.49" r="0.95" fill="#0808d8"/><circle cx="222.87" cy="384.64" r="0.95" fill="#0808d8"/><circle cx="222.87" cy="376.79" r="0.95" fill="#0808d8"/><circle cx="222.87" cy="368.94" r="0.95" fill="#0808d8"/><circle cx="222.87" cy="361.09" r="0.95" fill="#0808d8"/><circle cx="222.87" cy="357.16" r="0.95" fill="#0808d8"/><circle cx="233.15" cy="396.72" r="0.95" fill="#0808d8"/><circle cx="233.15" cy="388.87" r="0.95" fill="#0808d8"/><circle cx="233.15" cy="381.02" r="0.95" fill="#0808d8"/><circle cx="233.15" cy="373.17" r="0.95" fill="#0808d8"/><circle cx="233.15" cy="365.32" r="0.95" fill="#0808d8"/><circle cx="233.15" cy="357.46" r="0.95" fill="#0808d8"/><circle cx="243.42" cy="393.1" r="0.95" fill="#0808d8"/><circle cx="243.42" cy="385.25" r="0.95" fill="#0808d8"/><circle cx="243.42" cy="377.4" r="0.95" fill="#0808d8"/><circle cx="243.42" cy="369.55" r="0.95" fill="#0808d8"/><circle cx="243.42" cy="361.69" r="0.95" fill="#0808d8"/><circle cx="216.58" cy="389.4" r="0.95" fill="#0808d8"/><circle cx="216.58" cy="385.47" r="0.95" fill="#0808d8"/><circle cx="216.58" cy="377.62" r="0.95" fill="#0808d8"/><circle cx="216.58" cy="369.77" r="0.95" fill="#0808d8"/><circle cx="216.58" cy="365.84" r="0.95" fill="#0808d8"/><circle cx="216.58" cy="361.92" r="0.95" fill="#0808d8"/><circle cx="253.7" cy="377.7" r="0.95" fill="#0808d8"/><circle cx="253.7" cy="373.78" r="0.95" fill="#0808d8"/><circle cx="226.85" cy="393.63" r="0.95" fill="#0808d8"/><circle cx="226.85" cy="389.7" r="0.95" fill="#0808d8"/><circle cx="226.85" cy="381.85" r="0.95" fill="#0808d8"/><circle cx="226.85" cy="374" r="0.95" fill="#0808d8"/><circle cx="226.85" cy="366.15" r="0.95" fill="#0808d8"/><circle cx="226.85" cy="358.29" r="0.95" fill="#0808d8"/><circle cx="237.13" cy="393.93" r="0.95" fill="#0808d8"/><circle cx="237.13" cy="386.08" r="0.95" fill="#0808d8"/><circle cx="237.13" cy="378.23" r="0.95" fill="#0808d8"/><circle cx="237.13" cy="370.38" r="0.95" fill="#0808d8"/><circle cx="237.13" cy="362.52" r="0.95" fill="#0808d8"/><circle cx="210.29" cy="382.38" r="0.95" fill="#0808d8"/><circle cx="210.29" cy="378.45" r="0.95" fill="#0808d8"/><circle cx="210.29" cy="374.52" r="0.95" fill="#0808d8"/><circle cx="210.29" cy="370.6" r="0.95" fill="#0808d8"/><circle cx="247.41" cy="390.31" r="0.95" fill="#0808d8"/><circle cx="247.41" cy="386.38" r="0.95" fill="#0808d8"/><circle cx="247.41" cy="382.46" r="0.95" fill="#0808d8"/><circle cx="247.41" cy="374.61" r="0.95" fill="#0808d8"/><circle cx="247.41" cy="370.68" r="0.95" fill="#0808d8"/><circle cx="247.41" cy="366.75" r="0.95" fill="#0808d8"/><circle cx="220.56" cy="394.46" r="0.95" fill="#0808d8"/><circle cx="220.56" cy="390.53" r="0.95" fill="#0808d8"/><circle cx="220.56" cy="382.68" r="0.95" fill="#0808d8"/><circle cx="220.56" cy="374.83" r="0.95" fill="#0808d8"/><circle cx="220.56" cy="366.98" r="0.95" fill="#0808d8"/><circle cx="220.56" cy="363.05" r="0.95" fill="#0808d8"/><circle cx="230.84" cy="394.76" r="0.95" fill="#0808d8"/><circle cx="230.84" cy="386.91" r="0.95" fill="#0808d8"/><circle cx="230.84" cy="379.06" r="0.95" fill="#0808d8"/><circle cx="230.84" cy="371.21" r="0.95" fill="#0808d8"/><circle cx="230.84" cy="363.35" r="0.95" fill="#0808d8"/><circle cx="241.12" cy="395.06" r="0.95" fill="#0808d8"/><circle cx="241.12" cy="391.14" r="0.95" fill="#0808d8"/><circle cx="241.12" cy="383.29" r="0.95" fill="#0808d8"/><circle cx="241.12" cy="375.44" r="0.95" fill="#0808d8"/><circle cx="241.12" cy="367.58" r="0.95" fill="#0808d8"/><circle cx="241.12" cy="363.66" r="0.95" fill="#0808d8"/><circle cx="214.27" cy="387.44" r="0.95" fill="#0808d8"/><circle cx="214.27" cy="383.51" r="0.95" fill="#0808d8"/><circle cx="214.27" cy="379.58" r="0.95" fill="#0808d8"/><circle cx="214.27" cy="375.66" r="0.95" fill="#0808d8"/><circle cx="214.27" cy="371.73" r="0.95" fill="#0808d8"/><circle cx="214.27" cy="367.81" r="0.95" fill="#0808d8"/><circle cx="251.4" cy="379.66" r="0.95" fill="#0808d8"/><circle cx="251.4" cy="375.74" r="0.95" fill="#0808d8"/><circle cx="224.55" cy="395.59" r="0.95" fill="#0808d8"/><circle cx="224.55" cy="387.74" r="0.95" fill="#0808d8"/><circle cx="224.55" cy="379.89" r="0.95" fill="#0808d8"/><circle cx="224.55" cy="372.04" r="0.95" fill="#0808d8"/><circle cx="224.55" cy="364.18" r="0.95" fill="#0808d8"/><circle cx="234.83" cy="395.89" r="0.95" fill="#0808d8"/><circle cx="234.83" cy="391.97" r="0.95" fill="#0808d8"/><circle cx="234.83" cy="384.12" r="0.95" fill="#0808d8"/><circle cx="234.83" cy="376.26" r="0.95" fill="#0808d8"/><circle cx="234.83" cy="368.41" r="0.95" fill="#0808d8"/><circle cx="234.83" cy="364.49" r="0.95" fill="#0808d8"/><circle cx="245.11" cy="388.35" r="0.95" fill="#0808d8"/><circle cx="245.11" cy="384.42" r="0.95" fill="#0808d8"/><circle cx="245.11" cy="380.49" r="0.95" fill="#0808d8"/><circle cx="245.11" cy="376.57" r="0.95" fill="#0808d8"/><circle cx="245.11" cy="372.64" r="0.95" fill="#0808d8"/><circle cx="245.11" cy="368.72" r="0.95" fill="#0808d8"/><circle cx="218.26" cy="392.49" r="0.95" fill="#0808d8"/><circle cx="218.26" cy="388.57" r="0.95" fill="#0808d8"/><circle cx="218.26" cy="380.72" r="0.95" fill="#0808d8"/><circle cx="218.26" cy="372.86" r="0.95" fill="#0808d8"/><circle cx="218.26" cy="368.94" r="0.95" fill="#0808d8"/><circle cx="228.54" cy="396.72" r="0.95" fill="#0808d8"/><circle cx="228.54" cy="392.8" r="0.95" fill="#0808d8"/><circle cx="228.54" cy="384.95" r="0.95" fill="#0808d8"/><circle cx="228.54" cy="377.09" r="0.95" fill="#0808d8"/><circle cx="228.54" cy="369.24" r="0.95" fill="#0808d8"/><circle cx="228.54" cy="365.32" r="0.95" fill="#0808d8"/><circle cx="238.82" cy="393.1" r="0.95" fill="#0808d8"/><circle cx="238.82" cy="389.18" r="0.95" fill="#0808d8"/><circle cx="238.82" cy="381.32" r="0.95" fill="#0808d8"/><circle cx="238.82" cy="373.47" r="0.95" fill="#0808d8"/><circle cx="238.82" cy="369.55" r="0.95" fill="#0808d8"/><circle cx="222.25" cy="393.63" r="0.95" fill="#0808d8"/><circle cx="222.25" cy="389.7" r="0.95" fill="#0808d8"/><circle cx="222.25" cy="385.78" r="0.95" fill="#0808d8"/><circle cx="222.25" cy="377.92" r="0.95" fill="#0808d8"/><circle cx="222.25" cy="374" r="0.95" fill="#0808d8"/><circle cx="222.25" cy="370.07" r="0.95" fill="#0808d8"/><circle cx="232.53" cy="393.93" r="0.95" fill="#0808d8"/><circle cx="232.53" cy="390.01" r="0.95" fill="#0808d8"/><circle cx="232.53" cy="382.15" r="0.95" fill="#0808d8"/><circle cx="232.53" cy="374.3" r="0.95" fill="#0808d8"/><circle cx="232.53" cy="370.38" r="0.95" fill="#0808d8"/><circle cx="242.81" cy="390.31" r="0.95" fill="#0808d8"/><circle cx="242.81" cy="386.38" r="0.95" fill="#0808d8"/><circle cx="242.81" cy="382.46" r="0.95" fill="#0808d8"/><circle cx="242.81" cy="378.53" r="0.95" fill="#0808d8"/><circle cx="242.81" cy="374.61" r="0.95" fill="#0808d8"/><circle cx="226.24" cy="390.84" r="0.95" fill="#0808d8"/><circle cx="226.24" cy="382.98" r="0.95" fill="#0808d8"/><circle cx="226.24" cy="375.13" r="0.95" fill="#0808d8"/><circle cx="226.24" cy="371.21" r="0.95" fill="#0808d8"/><circle cx="236.52" cy="391.14" r="0.95" fill="#0808d8"/><circle cx="236.52" cy="387.21" r="0.95" fill="#0808d8"/><circle cx="236.52" cy="383.29" r="0.95" fill="#0808d8"/><circle cx="236.52" cy="379.36" r="0.95" fill="#0808d8"/><circle cx="236.52" cy="375.44" r="0.95" fill="#0808d8"/><circle cx="230.23" cy="391.97" r="0.95" fill="#0808d8"/><circle cx="230.23" cy="388.04" r="0.95" fill="#0808d8"/><circle cx="230.23" cy="384.12" r="0.95" fill="#0808d8"/><circle cx="230.23" cy="380.19" r="0.95" fill="#0808d8"/><circle cx="230.23" cy="376.26" r="0.95" fill="#0808d8"/><circle cx="234.21" cy="385.25" r="0.95" fill="#0808d8"/><path d="M220.11 372.19L221.21 374.16L219.02 374.16Z" fill="#d80808"/><path d="M220.11 364.34L221.21 366.3L219.02 366.3Z" fill="#d80808"/><path d="M220.11 356.49L221.21 358.45L219.02 358.45Z" fill="#d80808"/><path d="M224.1 377.25L225.19 379.21L223.01 379.21Z" fill="#d80808"/><path d="M224.1 369.4L225.19 371.36L223.01 371.36Z" fill="#d80808"/><path d="M224.1 361.54L225.19 363.51L223.01 363.51Z" fill="#d80808"/><path d="M224.1 353.69L225.19 355.66L223.01 355.66Z" fill="#d80808"/><path d="M217.81 370.23L218.9 372.19L216.72 372.19Z" fill="#d80808"/><path d="M217.81 362.37L218.9 364.34L216.72 364.34Z" fill="#d80808"/><path d="M228.09 374.46L229.18 376.42L227 376.42Z" fill="#d80808"/><path d="M228.09 366.6L229.18 368.57L227 368.57Z" fill="#d80808"/><path d="M228.09 358.75L229.18 360.72L227 360.72Z" fill="#d80808"/><path d="M228.09 350.9L229.18 352.87L227 352.87Z" fill="#d80808"/><path d="M221.8 375.29L222.89 377.25L220.71 377.25Z" fill="#d80808"/><path d="M221.8 367.43L222.89 369.4L220.71 369.4Z" fill="#d80808"/><path d="M221.8 359.58L222.89 361.55L220.71 361.55Z" fill="#d80808"/><path d="M232.08 379.51L233.17 381.48L230.98 381.48Z" fill="#d80808"/><path d="M232.08 371.66L233.17 373.63L230.98 373.63Z" fill="#d80808"/><path d="M232.08 363.81L233.17 365.78L230.98 365.78Z" fill="#d80808"/><path d="M232.08 355.96L233.17 357.93L230.98 357.93Z" fill="#d80808"/><path d="M215.51 376.11L216.6 378.08L214.42 378.08Z" fill="#d80808"/><path d="M215.51 368.26L216.6 370.23L214.42 370.23Z" fill="#d80808"/><path d="M215.51 360.41L216.6 362.38L214.42 362.38Z" fill="#d80808"/><path d="M225.79 380.34L226.88 382.31L224.69 382.31Z" fill="#d80808"/><path d="M225.79 372.49L226.88 374.46L224.69 374.46Z" fill="#d80808"/><path d="M225.79 364.64L226.88 366.61L224.69 366.61Z" fill="#d80808"/><path d="M225.79 356.79L226.88 358.76L224.69 358.76Z" fill="#d80808"/><path d="M236.06 384.57L237.16 386.54L234.97 386.54Z" fill="#d80808"/><path d="M236.06 376.72L237.16 378.69L234.97 378.69Z" fill="#d80808"/><path d="M236.06 368.87L237.16 370.84L234.97 370.84Z" fill="#d80808"/><path d="M236.06 361.02L237.16 362.98L234.97 362.98Z" fill="#d80808"/><path d="M236.06 353.17L237.16 355.13L234.97 355.13Z" fill="#d80808"/><path d="M219.5 381.17L220.59 383.14L218.4 383.14Z" fill="#d80808"/><path d="M219.5 373.32L220.59 375.29L218.4 375.29Z" fill="#d80808"/><path d="M219.5 365.47L220.59 367.44L218.4 367.44Z" fill="#d80808"/><path d="M219.5 357.62L220.59 359.58L218.4 359.58Z" fill="#d80808"/><path d="M229.77 385.4L230.87 387.37L228.68 387.37Z" fill="#d80808"/><path d="M229.77 377.55L230.87 379.52L228.68 379.52Z" fill="#d80808"/><path d="M229.77 369.7L230.87 371.67L228.68 371.67Z" fill="#d80808"/><path d="M229.77 361.85L230.87 363.81L228.68 363.81Z" fill="#d80808"/><path d="M229.77 354L230.87 355.96L228.68 355.96Z" fill="#d80808"/><path d="M240.05 381.78L241.15 383.75L238.96 383.75Z" fill="#d80808"/><path d="M240.05 373.93L241.15 375.9L238.96 375.9Z" fill="#d80808"/><path d="M240.05 366.08L241.15 368.04L238.96 368.04Z" fill="#d80808"/><path d="M240.05 358.23L241.15 360.19L238.96 360.19Z" fill="#d80808"/><path d="M213.21 374.15L214.3 376.12L212.11 376.12Z" fill="#d80808"/><path d="M213.21 366.3L214.3 368.27L212.11 368.27Z" fill="#d80808"/><path d="M223.48 386.23L224.58 388.2L222.39 388.2Z" fill="#d80808"/><path d="M223.48 378.38L224.58 380.35L222.39 380.35Z" fill="#d80808"/><path d="M223.48 370.53L224.58 372.5L222.39 372.5Z" fill="#d80808"/><path d="M223.48 362.68L224.58 364.64L222.39 364.64Z" fill="#d80808"/><path d="M223.48 354.83L224.58 356.79L222.39 356.79Z" fill="#d80808"/><path d="M233.76 382.61L234.85 384.58L232.67 384.58Z" fill="#d80808"/><path d="M233.76 374.76L234.85 376.73L232.67 376.73Z" fill="#d80808"/><path d="M233.76 366.91L234.85 368.87L232.67 368.87Z" fill="#d80808"/><path d="M233.76 359.06L234.85 361.02L232.67 361.02Z" fill="#d80808"/><path d="M244.04 378.99L245.13 380.96L242.95 380.96Z" fill="#d80808"/><path d="M244.04 371.14L245.13 373.1L242.95 373.1Z" fill="#d80808"/><path d="M244.04 363.29L245.13 365.25L242.95 365.25Z" fill="#d80808"/><path d="M217.19 379.21L218.29 381.18L216.1 381.18Z" fill="#d80808"/><path d="M217.19 371.36L218.29 373.33L216.1 373.33Z" fill="#d80808"/><path d="M217.19 363.51L218.29 365.47L216.1 365.47Z" fill="#d80808"/><path d="M227.47 383.44L228.56 385.41L226.38 385.41Z" fill="#d80808"/><path d="M227.47 375.59L228.56 377.56L226.38 377.56Z" fill="#d80808"/><path d="M227.47 367.74L228.56 369.7L226.38 369.7Z" fill="#d80808"/><path d="M227.47 359.89L228.56 361.85L226.38 361.85Z" fill="#d80808"/><path d="M237.75 387.67L238.84 389.64L236.66 389.64Z" fill="#d80808"/><path d="M237.75 379.82L238.84 381.79L236.66 381.79Z" fill="#d80808"/><path d="M237.75 371.97L238.84 373.93L236.66 373.93Z" fill="#d80808"/><path d="M237.75 364.11L238.84 366.08L236.66 366.08Z" fill="#d80808"/><path d="M237.75 356.26L238.84 358.23L236.66 358.23Z" fill="#d80808"/><path d="M210.9 372.19L212 374.16L209.81 374.16Z" fill="#d80808"/><path d="M248.03 376.2L249.12 378.16L246.94 378.16Z" fill="#d80808"/><path d="M248.03 368.34L249.12 370.31L246.94 370.31Z" fill="#d80808"/><path d="M248.03 360.49L249.12 362.46L246.94 362.46Z" fill="#d80808"/><path d="M221.18 384.27L222.27 386.24L220.09 386.24Z" fill="#d80808"/><path d="M221.18 376.42L222.27 378.39L220.09 378.39Z" fill="#d80808"/><path d="M221.18 368.57L222.27 370.53L220.09 370.53Z" fill="#d80808"/><path d="M221.18 360.71L222.27 362.68L220.09 362.68Z" fill="#d80808"/><path d="M231.46 388.5L232.55 390.47L230.37 390.47Z" fill="#d80808"/><path d="M231.46 380.65L232.55 382.61L230.37 382.61Z" fill="#d80808"/><path d="M231.46 372.8L232.55 374.76L230.37 374.76Z" fill="#d80808"/><path d="M231.46 364.94L232.55 366.91L230.37 366.91Z" fill="#d80808"/><path d="M231.46 357.09L232.55 359.06L230.37 359.06Z" fill="#d80808"/><path d="M241.74 384.88L242.83 386.84L240.65 386.84Z" fill="#d80808"/><path d="M241.74 377.03L242.83 378.99L240.65 378.99Z" fill="#d80808"/><path d="M241.74 369.17L242.83 371.14L240.65 371.14Z" fill="#d80808"/><path d="M241.74 361.32L242.83 363.29L240.65 363.29Z" fill="#d80808"/><path d="M214.89 377.25L215.98 379.21L213.8 379.21Z" fill="#d80808"/><path d="M214.89 369.4L215.98 371.36L213.8 371.36Z" fill="#d80808"/><path d="M214.89 361.54L215.98 363.51L213.8 363.51Z" fill="#d80808"/><path d="M252.02 373.4L253.11 375.37L250.92 375.37Z" fill="#d80808"/><path d="M225.17 389.33L226.26 391.3L224.08 391.3Z" fill="#d80808"/><path d="M225.17 381.48L226.26 383.44L224.08 383.44Z" fill="#d80808"/><path d="M225.17 373.63L226.26 375.59L224.08 375.59Z" fill="#d80808"/><path d="M225.17 365.77L226.26 367.74L224.08 367.74Z" fill="#d80808"/><path d="M225.17 357.92L226.26 359.89L224.08 359.89Z" fill="#d80808"/><path d="M235.45 385.71L236.54 387.67L234.36 387.67Z" fill="#d80808"/><path d="M235.45 377.86L236.54 379.82L234.36 379.82Z" fill="#d80808"/><path d="M235.45 370L236.54 371.97L234.36 371.97Z" fill="#d80808"/><path d="M235.45 362.15L236.54 364.12L234.36 364.12Z" fill="#d80808"/><path d="M245.73 382.09L246.82 384.05L244.63 384.05Z" fill="#d80808"/><path d="M245.73 374.23L246.82 376.2L244.63 376.2Z" fill="#d80808"/><path d="M245.73 366.38L246.82 368.35L244.63 368.35Z" fill="#d80808"/><path d="M218.88 382.31L219.97 384.27L217.79 384.27Z" fill="#d80808"/><path d="M218.88 374.46L219.97 376.42L217.79 376.42Z" fill="#d80808"/><path d="M218.88 366.6L219.97 368.57L217.79 368.57Z" fill="#d80808"/><path d="M229.16 386.54L230.25 388.5L228.06 388.5Z" fill="#d80808"/><path d="M229.16 378.69L230.25 380.65L228.06 380.65Z" fill="#d80808"/><path d="M229.16 370.83L230.25 372.8L228.06 372.8Z" fill="#d80808"/><path d="M229.16 362.98L230.25 364.95L228.06 364.95Z" fill="#d80808"/><path d="M239.44 382.91L240.53 384.88L238.34 384.88Z" fill="#d80808"/><path d="M239.44 375.06L240.53 377.03L238.34 377.03Z" fill="#d80808"/><path d="M239.44 367.21L240.53 369.18L238.34 369.18Z" fill="#d80808"/><path d="M239.44 359.36L240.53 361.33L238.34 361.33Z" fill="#d80808"/><path d="M212.59 375.29L213.68 377.25L211.5 377.25Z" fill="#d80808"/><path d="M249.71 379.29L250.81 381.26L248.62 381.26Z" fill="#d80808"/><path d="M249.71 371.44L250.81 373.41L248.62 373.41Z" fill="#d80808"/><path d="M222.87 387.37L223.96 389.33L221.77 389.33Z" fill="#d80808"/><path d="M222.87 379.51L223.96 381.48L221.77 381.48Z" fill="#d80808"/><path d="M222.87 371.66L223.96 373.63L221.77 373.63Z" fill="#d80808"/><path d="M222.87 363.81L223.96 365.78L221.77 365.78Z" fill="#d80808"/><path d="M233.15 391.6L234.24 393.56L232.05 393.56Z" fill="#d80808"/><path d="M233.15 383.74L234.24 385.71L232.05 385.71Z" fill="#d80808"/><path d="M233.15 375.89L234.24 377.86L232.05 377.86Z" fill="#d80808"/><path d="M233.15 368.04L234.24 370.01L232.05 370.01Z" fill="#d80808"/><path d="M233.15 360.19L234.24 362.16L232.05 362.16Z" fill="#d80808"/><path d="M243.42 387.97L244.52 389.94L242.33 389.94Z" fill="#d80808"/><path d="M243.42 380.12L244.52 382.09L242.33 382.09Z" fill="#d80808"/><path d="M243.42 372.27L244.52 374.24L242.33 374.24Z" fill="#d80808"/><path d="M243.42 364.42L244.52 366.38L242.33 366.38Z" fill="#d80808"/><path d="M216.58 380.34L217.67 382.31L215.48 382.31Z" fill="#d80808"/><path d="M216.58 372.49L217.67 374.46L215.48 374.46Z" fill="#d80808"/><path d="M226.85 384.57L227.95 386.54L225.76 386.54Z" fill="#d80808"/><path d="M226.85 376.72L227.95 378.69L225.76 378.69Z" fill="#d80808"/><path d="M226.85 368.87L227.95 370.84L225.76 370.84Z" fill="#d80808"/><path d="M226.85 361.02L227.95 362.98L225.76 362.98Z" fill="#d80808"/><path d="M237.13 388.8L238.23 390.77L236.04 390.77Z" fill="#d80808"/><path d="M237.13 380.95L238.23 382.92L236.04 382.92Z" fill="#d80808"/><path d="M237.13 373.1L238.23 375.07L236.04 375.07Z" fill="#d80808"/><path d="M237.13 365.25L238.23 367.21L236.04 367.21Z" fill="#d80808"/><path d="M247.41 377.33L248.5 379.3L246.32 379.3Z" fill="#d80808"/><path d="M220.56 385.4L221.66 387.37L219.47 387.37Z" fill="#d80808"/><path d="M220.56 377.55L221.66 379.52L219.47 379.52Z" fill="#d80808"/><path d="M220.56 369.7L221.66 371.67L219.47 371.67Z" fill="#d80808"/><path d="M230.84 389.63L231.94 391.6L229.75 391.6Z" fill="#d80808"/><path d="M230.84 381.78L231.94 383.75L229.75 383.75Z" fill="#d80808"/><path d="M230.84 373.93L231.94 375.9L229.75 375.9Z" fill="#d80808"/><path d="M230.84 366.08L231.94 368.04L229.75 368.04Z" fill="#d80808"/><path d="M241.12 386.01L242.21 387.98L240.03 387.98Z" fill="#d80808"/><path d="M241.12 378.16L242.21 380.13L240.03 380.13Z" fill="#d80808"/><path d="M241.12 370.31L242.21 372.27L240.03 372.27Z" fill="#d80808"/><path d="M224.55 390.46L225.65 392.43L223.46 392.43Z" fill="#d80808"/><path d="M224.55 382.61L225.65 384.58L223.46 384.58Z" fill="#d80808"/><path d="M224.55 374.76L225.65 376.73L223.46 376.73Z" fill="#d80808"/><path d="M224.55 366.91L225.65 368.87L223.46 368.87Z" fill="#d80808"/><path d="M234.83 386.84L235.92 388.81L233.74 388.81Z" fill="#d80808"/><path d="M234.83 378.99L235.92 380.96L233.74 380.96Z" fill="#d80808"/><path d="M234.83 371.14L235.92 373.1L233.74 373.1Z" fill="#d80808"/><path d="M218.26 383.44L219.35 385.41L217.17 385.41Z" fill="#d80808"/><path d="M218.26 375.59L219.35 377.56L217.17 377.56Z" fill="#d80808"/><path d="M228.54 387.67L229.63 389.64L227.45 389.64Z" fill="#d80808"/><path d="M228.54 379.82L229.63 381.79L227.45 381.79Z" fill="#d80808"/><path d="M228.54 371.97L229.63 373.93L227.45 373.93Z" fill="#d80808"/><path d="M238.82 384.05L239.91 386.01L237.73 386.01Z" fill="#d80808"/><path d="M238.82 376.2L239.91 378.16L237.73 378.16Z" fill="#d80808"/><path d="M222.25 380.65L223.34 382.61L221.16 382.61Z" fill="#d80808"/><path d="M232.53 384.88L233.62 386.84L231.44 386.84Z" fill="#d80808"/><path d="M232.53 377.03L233.62 378.99L231.44 378.99Z" fill="#d80808"/><path d="M226.24 385.71L227.33 387.67L225.15 387.67Z" fill="#d80808"/><path d="M226.24 377.86L227.33 379.82L225.15 379.82Z" fill="#d80808"/></g><rect x="182" y="443" width="8" height="7.8" fill="#0a0af5"/><path d="M186 457.2L190.2 464.2H181.8Z" fill="#f50a0a"/><g font-family="Liberation Serif, serif" font-size="9.8" fill="#000" stroke="#000" stroke-width="0.15"><text x="191.8" y="450.7">:Linear <tspan dx="0.6">cover</tspan></text><text x="191.8" y="463.8">:Quadratic cover</text></g><rect x="387.3" y="446.8" width="5" height="80.8" fill="url(#cb)"/><g font-family="Liberation Serif, serif" font-size="5.3" fill="#111"><text x="393.3" y="448.7">14</text><text x="393.3" y="460.24">12</text><text x="393.3" y="471.79">10</text><text x="393.3" y="483.33">8</text><text x="393.3" y="494.87">6</text><text x="393.3" y="506.41">4</text><text x="393.3" y="517.96">2</text><text x="393.3" y="529.5">0</text><text x="389.5" y="442">×10<tspan font-size="3.2" dy="-1.6">-3</tspan></text></g><text x="335" y="541.8" text-anchor="middle" font-family="Liberation Serif, serif" font-size="11.6" fill="#000" stroke="#000" stroke-width="0.2">Reference solution</text></svg></body></html>
